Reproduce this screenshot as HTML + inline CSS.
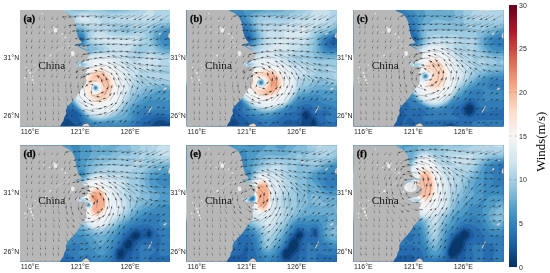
<!DOCTYPE html><html><head><meta charset="utf-8"><style>html,body{margin:0;padding:0;background:#fff;}svg{display:block;}.ax{font-family:"Liberation Sans",Arial,sans-serif;font-size:7px;fill:#262626;}.tk{font-family:"Liberation Sans",Arial,sans-serif;font-size:7px;fill:#262626;}.lab{font-family:"Liberation Serif","Times New Roman",serif;font-size:12.8px;fill:#000;text-anchor:middle;}.pl{font-family:"Liberation Serif","Times New Roman",serif;font-size:10px;font-weight:bold;fill:#000;stroke:#000;stroke-width:0.25px;}.cn{font-family:"Liberation Serif","Times New Roman",serif;font-size:11.3px;fill:#111;}</style></head><body><svg width="550" height="273" viewBox="0 0 550 273"><defs><clipPath id="pc"><rect x="0" y="0" width="150" height="116.3"/></clipPath></defs><g transform="translate(20.0,10.0)"><rect x="0" y="0" width="150.0" height="116.3" fill="#a9cfe4"/><g clip-path="url(#pc)"><path fill="#09386d" fill-rule="evenodd" d="M-1,-1 151,-1 151,118 -1,118Z"/><path fill="#124984" fill-rule="evenodd" d="M0,-1 151,-1 151,117 150,117 148.2,116 143,115.4 140.5,116 140,118 -1,118 -1,-1Z"/><path fill="#1c5c9f" fill-rule="evenodd" d="M0,-1 151,-1 151,113.4 150,113.4 144,110.5 140,110 137,110.8 135,112 130.4,116 130,118 60,118 60,117 59.3,116 53,113.5 50,110 48.6,109 47,108.6 39,110.2 34,110.6 16,109.9 -1,110 -1,-1ZM43,116 49,115.9 50,117 50,118 40,118 40,117ZM1,116.9 18,116.9 20,117 20,118 0,118 0,117Z"/><path fill="#266caf" fill-rule="evenodd" d="M0,-1 151,-1 151,110 150,110 147,107.9 144,106.9 140,106.5 136.5,107 131.9,109 125,113 120.6,116 120,118 65.3,118 64.9,116 62.6,114 60.5,111 59.3,108 58.5,104 57,102.1 54.7,101 46,99.7 34,100.2 -1,100 -1,-1Z"/><path fill="#327cb7" fill-rule="evenodd" d="M0,-1 151,-1 151,105.8 150,105.8 146,104.1 140,103.6 124,106.3 122,107.6 117.3,113 114.1,115 111.1,116 110,117 110,118 70,118 70,117 69.3,116 66.1,114 64.5,112 62.6,107 60.6,104 56,99.2 53,97.2 34,92 17,93.7 -1,93.5 -1,-1ZM59.8,28 59.3,29 59.4,30 61,30.9 62,30.4 62.5,29 62,27.8 61,27.5ZM74.9,78 76,78.3 76.2,78 76,77.7Z"/><path fill="#3c8abe" fill-rule="evenodd" d="M0,-1 151,-1 151,25.9 149,26 147.5,27 146.9,28 147,29 148,30 151,30 151,100 132,100.1 124,98.8 122,99 120,100 118.1,102 114.9,110 113.1,112 111,113.2 101.8,116 100,117 100,118 90,118 90,117 90,118 80,118 80,117 72,114.7 68.8,113 61.9,104 55,96.8 52,94.4 44.5,90 39,84.6 37,83.4 34,82.8 31,82.9 19,85.9 13,86.6 6,86.6 -1,85.6 -1,38.5 33,38.9 43,38.1 58,35 61,33.5 62.9,32 63.9,29 63,26.5 62,25.6 60,25 57,25.7 52,29.2 48,30.4 34,29.9 -1,30 -1,-1ZM74.7,78 75,78.7 76,78.9 76.5,78 76,77.1 75,77.3Z"/><path fill="#4f9bc7" fill-rule="evenodd" d="M0,-1 151,-1 151,20 147,20.6 143,22.5 140.6,25 139.8,28 140.8,32 143,34.4 147,36.3 151,36.7 151,90 144,90.4 133,89.4 129,90.3 123,93 119,95.2 116,97.7 113.4,102 111.7,108 110,110 106,112.1 99,113.5 90,113.2 80,113.6 73,112.4 68,109.3 47.9,88 44.7,84 41,81.5 37,80.4 33,80.1 14,81.5 -1,81.2 -1,41.8 37,41.9 46,41.3 54,40.1 58.1,39 61,37.3 64,32.8 64.8,29 64.1,26 63,24.3 61,22.8 59,22.3 56,22.9 51,25.8 47,26.7 -1,26.7 -1,-1ZM74.9,77 74.4,78 74.9,79 76,79.2 76.8,78 76,76.8Z"/><path fill="#6bacd1" fill-rule="evenodd" d="M0,-1 151,-1 151,17.2 145,17.9 140,20 137.2,23 136.1,27 136.9,32 138,34.1 140,36.4 142.2,38 145,39.2 151,40 151,80 145,79.4 140,80 123,88 117,92.3 112.1,97 109.5,101 107,106.8 104,108.9 99,110.1 92,110.1 80,111.7 73,110.6 70,109.1 67,106.9 54.7,94 51.8,90 48,83.1 43.2,80 39,78.8 34,78.4 14,79.2 -1,79 -1,44 40.5,44 50,43.4 58,42.2 62,41 64.3,39 65.7,30 65.5,27 64,22.9 62,20.8 59,19.8 56,20.1 51,23 46,24.3 -1,24.4 -1,-1ZM74.5,77 74.1,78 74.5,79 76,79.5 76.7,79 77.1,78 76.7,77 76,76.5Z"/><path fill="#84bcd9" fill-rule="evenodd" d="M0,-1 90,-1 90,0 95,0.3 100,0 100,-1 151,-1 151,15.1 143,15.7 137.2,18 134.9,20 133.7,22 132.9,26 133.3,30 134.3,33 135.9,36 138,38.5 141,40.6 144,41.7 151,42.4 151,76.6 144,76.3 138,76.9 134.5,78 126,81.9 121,84.7 116,88.8 108.4,96 103,103.3 101,105.1 88,109.3 80,110.4 75,109.8 72,108.9 69,107.2 66,104.7 55.7,94 52.5,89 49,81.2 48,80.1 45.8,79 41,77.6 35,77 14,77.6 -1,77.4 -1,45.9 38,45.9 53,45.3 63,44 67.3,42 69.7,40 67,34 66.6,27 65.5,22 64,19.8 61,18.2 58,17.7 55,17.9 47.5,21 42,21.7 -1,21.8 -1,-1ZM74.2,77 73.8,78 75,79.7 76,79.7 77.1,79 77.4,78 77,76.9 76,76.3 75,76.3Z"/><path fill="#9dcbe1" fill-rule="evenodd" d="M1,-1 20,-1 20,0 15,0.9 5,0.9 0,0 0,-1ZM41,-1 50,-1 50,0 51,0.8 56,1.2 63,0.9 70,0 70,-1 80,-1 80,0 85,1.3 93,2 104,1.2 110,0 110,-1 151,-1 151,13 143,13.1 137,14.9 133.2,17 130.8,19 129.4,21 129,23 130.8,33 132.4,36 136,40.3 139,42.5 142,43.7 146,44.4 151,44.5 151,73.9 137,74.2 124,77.1 120,80 107,92.8 101.6,100 98,103.5 94,105.8 89,107.7 84,108.9 80,109.2 75,108.6 71,107.2 67,104.5 62,100 55.2,92 53,88 50,80.1 48,77.9 43,76.5 36,75.8 -1,76.1 -1,47.8 44,47.8 59,47.2 63,45.9 78.5,39 78,38 71,35.5 69,33.4 68.1,30 67.6,22 66,19 62.8,17 54,15.2 51.8,14 50.2,11 49,3 48,1.9 40.8,1 40,0 40,-1ZM101.5,18 99.9,19 100,20 103,21.1 108.2,21 110,20 110.2,19 109,18 107,17.6ZM120,40 121,40.4 121.3,40 121,39.6ZM57.5,54 57.4,55 59,55.5 62,55.5 64,55 63.3,54 62,53.7 59,53.6ZM73.8,77 73.8,79 75,79.9 76,80 77.4,79 77.7,78 77,76.5 75,76.1ZM26,2.7 34,2.1 37,2.3 38.5,3 41.2,15 41,16 40,16.6 37,17.4 33,17.6 13,16.1 -1,16.6 -1,10 0,10 2.1,12 6,13.7 10,14.2 14,13.7 17,12.6 19,11.1 23.7,4Z"/><path fill="#b1d5e7" fill-rule="evenodd" d="M120,-1 140,-1 140,0 141,0.4 145,1 150,0 150,-1 151,-1 151,10 145,9.1 141,9.7 125.2,17 122,19 121.1,20 124.6,25 125.4,27 125.8,30 125.4,32 124,33.3 119,35.2 116.2,37 115,39 114.4,42 114.9,44 116,45.2 118,45.7 120,45.6 124,44.1 128,40.3 130,40 132,40.7 136.5,44 140,45.6 145,46.7 151,46.5 151,60 150,60 147,58.3 144,58 141,59.1 140,60 139.3,62 139.6,63 140.8,64 143,64.5 147,64.6 151,63.8 151,70 132,70.2 123,68.5 121,69.2 119,71.2 113.4,81 101.1,98 98.4,101 95,103.7 91,105.7 86,107.3 81,108.1 76,107.7 72,106.5 68,104.1 63,100 56.2,92 54,87.9 50.8,79 49.4,77 48,76.1 43,75.1 36,74.6 -1,74.8 -1,50 57,49.9 72,43.4 81.8,41 83.9,40 84.3,39 82.8,37 80.7,36 73.2,34 71,32.2 69.8,28 70.3,21 68.5,18 64.9,16 57,14 54.5,12 53.7,10 53.6,7 54.2,5 56,3.4 61,2.4 71,1.8 75,2.2 84,4.3 96,4.2 103,3.5 116,1.4 120,0ZM97.3,15 93.2,16 91.2,17 89.8,19 90.7,21 91.9,22 96,23.5 103,24.3 111.1,24 114.9,23 120,20 119.9,19 117.7,17 113,14.9 106,14.3ZM56.2,53 54.8,54 55.2,55 57.8,56 63,56 65.6,55 65.1,54 62,53 59,52.6ZM74.5,76 73.5,77 73.5,79 75,80.3 77,79.9 77.7,79 77.7,77 76,75.7Z"/><path fill="#c7e0ed" fill-rule="evenodd" d="M130,-1 130,0 132,0.6 133.6,2 134.6,5 133.1,8 129,10.3 125,10.9 117,9.5 111,10 97,10.1 91.7,11 88.9,11 90,10 96,9.4 108.3,7 113,6.9 117,7.8 119,7.5 122,5.6 126.8,1 130,0ZM61,4 68,3.8 73.1,5 76.4,7 81.2,11 81.9,12 81.7,13 78,15.9 75,16.4 59.7,13 56.8,11 56.1,8 56.8,6 57.9,5ZM78,20 81,20.3 87,24 93,25.7 103,26.4 116,26.1 119.4,27 120.3,29 119.4,31 112.5,37 108.3,42 107.4,44 107.7,46 109,48.8 112,51.3 114,51.8 117,51.3 121,49.5 127,45.3 130,44.4 132,44.7 134,45.6 140.9,51 140.9,52 139.9,53 130,60 127,60.5 122,59.5 119,60.7 116,65.4 112,76 106.4,87 100,97.1 97,100.4 94,102.7 88,105.5 81,106.9 75,106.3 69,103.7 63.1,99 57.8,93 55,87.8 51.3,77 50,75.4 48,74.4 35,73.4 -1,73.6 -1,52.6 48,52.7 51,53.5 52.5,55 55,56.2 59,56.7 63,56.5 65.5,56 67,55 66.7,54 61.3,52 60.4,51 63.2,49 69.1,46 74,44.1 87.6,42 89.8,41 90,40 89.5,39 86.5,36 84,34.8 75.1,32 73,30 72.4,28 73,25.4 76,21.4ZM100,40 99,40.1 98,41.1 99.5,42 101.9,42 102.1,41ZM73.8,76 72.9,78 73.8,80 75,80.6 77,80.3 78.1,79 78,76.9 77,75.7 76,75.3ZM149,50.7 150,50 151,50 151,53.8 150,53.8 148,52Z"/><path fill="#d7e8f1" fill-rule="evenodd" d="M61,6.6 64,6 67,6.8 69.1,8 70,10 69.3,11 67,11.6 62,11.2 60,10 59.5,9 59.6,8ZM79,26.6 81,26.1 83,26.5 88,29.5 91,30.2 109,29.8 111,30.6 111.6,32 109.8,34 107,34.8 100,33.4 92,33 88,31.6 83.5,31 80,30 78.6,29 78.1,28ZM77,44.9 82,44.5 88,44.9 91.9,46 99.1,49 102,51.1 106,55.9 109.3,59 110.7,62 110.7,66 108.8,76 107,81.9 105,86 100.3,94 97,98.3 93,101.7 88,104.2 82,105.5 76,105.3 71,103.6 66,100.4 61.4,96 58,91.5 55.5,86 52.6,76 51.3,74 49.7,73 46,72.4 37,72 -1,72.1 -1,55.7 45,55.8 56,57.4 63,57.1 67,56.1 68.5,55 68,53.8 64.4,52 63.7,51 64.7,50 71,46.6ZM75,75 73.3,76 72.5,78 73,79.6 74,80.6 76,81 77.9,80 78.7,78 78,76.1 77,75.3ZM129,50.4 130,50 131,50.5 131.3,51 130.9,52 130,52.4 128.4,52 128.4,51Z"/><path fill="#e4eef4" fill-rule="evenodd" d="M76,46.8 81,46.4 85.9,47 91,49 95.8,52 98.9,55 101.8,59 104.6,64 105.9,68 106.1,74 105.1,80 104,83.3 100.1,91 97,95.6 94,98.7 90.9,101 86,103.2 80,104.1 74,103.3 68.9,101 64,97.2 61,93.7 58,88.8 56,83 54,73 53,70.9 52,70.1 -1,70 -1,60 54,60.1 57.1,59 66,57.2 69.1,56 70.1,55 70.1,54 67.4,52 67,51 70,48.9ZM73.7,75 72.2,77 72.2,79 72.7,80 75,81.5 77,81.3 78.5,80 79,79 79.2,78 78.5,76 76,74.4Z"/><path fill="#f0f4f6" fill-rule="evenodd" d="M76,50.9 80,50.6 84,51.2 88,52.8 92,55.7 95,59 97.4,63 99.3,68 100.1,73 100.1,78 99.3,83 97.5,88 95.1,92 92,95.5 89,97.8 85,99.7 81,100.6 77,100.5 73,99.5 69,97.4 66,95 63.5,92 61.1,88 59.6,84 58.6,79 58.4,74 58.9,70 60.3,65 62.3,61 64.4,59 71.6,56 72.7,55 73.4,52ZM74.8,74 73,74.8 72,76 71.6,79 73,81.2 76,82.1 78,81.3 79,80.3 79.6,79 79.6,77 78,74.7 76,73.9Z"/><path fill="#f8f2ef" fill-rule="evenodd" d="M77,56.7 80,56.4 84,57.2 89,60.3 91.4,63 93.7,67 94.7,70 95.3,74 94.8,81 93.8,84 91.6,88 87,92.5 85,93.6 81,94.8 77,94.7 74,93.8 72,92.7 69,90.1 66.4,87 65.3,85 63.3,78 63.5,72 64.5,68 66.5,64 71,59.2 74,57.6ZM73.1,74 72,75 71,77 71.3,80 72,81.1 74,82.5 76,82.7 78,82.1 79.3,81 80.2,79 79.9,76 79,74.7 77,73.5 75,73.3Z"/><path fill="#fae9df" fill-rule="evenodd" d="M76,58.8 79,58.4 82,58.7 87,61 89.1,63 91.3,66 92.6,69 93.5,73 93.2,80 90.8,86 88.3,89 86,90.8 81,92.7 78,92.8 75,92 70.3,89 66.9,84 65.2,78 65.3,72 67.4,66 71,61.5ZM73.5,73 71.9,74 70.5,76 70.2,78 70.5,80 71.9,82 74,83.2 76,83.4 78,82.9 79.3,82 80.7,80 81,78 80.7,76 79.3,74 78,73.1 76,72.6Z"/><path fill="#fcdfcf" fill-rule="evenodd" d="M76,60.6 81,60.3 84,61.2 86,62.4 88,64.2 90.1,67 92,73 91.9,79 91.1,82 89.6,85 86,88.8 84,90 81,90.9 77,90.8 73,89 70.2,86 69,82 70,82 73,83.7 75,84.3 77,84.1 79,83.3 81,81.2 81.8,79 81.6,76 80.4,74 78,72.2 75,71.7 73,72.3 71,73.7 69,77.4 68,78.3 67,75.8 67.1,71 69,66.3 72,62.8Z"/><path fill="#fcd3bc" fill-rule="evenodd" d="M78,61.9 81,62 83,62.5 86.7,65 89.4,69 90.7,74 90.2,80 88,84.6 84.3,88 80,89.3 76,88.6 74,87.2 73.3,86 74,85.5 77,85.3 79,84.6 81.8,82 82.8,80 83,78 82.8,76 81.8,74 80,72.1 77,70.7 75,70.6 73,71.1 70,73.2 69,73 68.8,72 69.8,68 72,65 75,62.8Z"/><path fill="#f8bfa4" fill-rule="evenodd" d="M77,63.8 81,63.6 85,65.5 88,69.3 89.2,73 89.3,78 88,81.8 85.6,85 82,87.2 79.2,87 82.4,85 84.5,82 85.4,78 84.5,74 82.4,71 80,69.3 76,68.2 72,69 71.7,68 74.4,65Z"/><path fill="#b7b7b7" d="M-2.0 -2.0L41.9 -2.0L41.9 0.0L44.2 1.7L48.7 3.5L52.4 7.2L54.7 11.7L55.6 16.3L56.5 21.8L57.4 25.0L57.9 27.1L59.9 30.0L62.1 32.8L59.0 33.8L55.5 34.2L58.5 36.8L62.5 38.9L65.5 40.6L68.5 42.3L69.2 43.8L68.6 46.0L67.5 48.3L66.5 50.0L63.0 51.6L59.0 52.4L55.3 53.6L58.0 55.9L62.0 56.6L66.0 56.9L68.3 57.4L67.2 59.5L67.0 60.0L66.5 62.0L67.0 64.3L66.0 67.6L66.5 70.9L65.4 74.2L63.5 77.0L61.5 79.0L59.6 81.9L56.5 86.5L53.4 90.4L50.4 93.4L47.3 96.5L45.8 100.3L46.5 103.4L44.2 107.3L43.4 111.1L41.1 114.2L39.6 117.0L39.6 119.0L-2.0 119.0Z"/><path fill="#b7b7b7" d="M58.0 35.2L61.5 35.6L65.5 36.8L68.2 38.2L67.2 38.9L63.0 37.9L59.5 36.6Z"/><path fill="#ecd2bd" d="M60.0 117.5L62.5 115.6L65.8 112.8L68.5 114.4L70.5 117.5Z"/><path fill="#ecd2bd" d="M114.0 16.8L115.5 16.0L117.2 16.0L117.8 16.8L116.5 17.6L114.8 17.6Z"/><path fill="#ecd2bd" d="M128.3 102.5L129.8 99.0L131.8 95.8L132.3 96.3L130.5 100.0L128.8 103.0Z"/><path fill="#ecd2bd" d="M143.0 79.5L145.5 77.5L147.0 78.0L145.0 80.0Z"/><path fill="#ecd2bd" d="M138.0 25.0L139.5 23.0L141.0 22.5L140.5 24.5Z"/><path fill="#ecd2bd" d="M148.0 27.0L149.0 23.5L150.5 22.0L150.5 29.0Z"/><path fill="#ecd2bd" d="M144.5 15.0L145.8 13.8L146.5 15.0L145.3 16.0Z"/><path fill="#ecd2bd" d="M126.0 0.5L128.0 0.0L129.0 1.2L127.0 1.6Z"/><path fill="#ecd2bd" d="M132.0 0.3L134.0 0.2L134.5 1.4L132.5 1.5Z"/><path fill="none" stroke="#d8d8d8" stroke-width="0.45" d="M12.0 64.0L16.0 60.0L20.0 55.0L25.0 50.0L30.0 46.0L35.0 42.0L40.0 39.0L45.0 37.0L50.0 36.5L56.5 35.8"/><path fill="none" stroke="#d8d8d8" stroke-width="0.45" d="M35.0 20.0L38.0 24.0L41.0 27.0L44.0 30.0L47.0 33.0L50.0 36.0"/><ellipse cx="35.5" cy="20.3" rx="1.9" ry="2.4" fill="#ececec"/><ellipse cx="33.4" cy="17.6" rx="1.0" ry="0.8" fill="#ececec"/><ellipse cx="37.5" cy="18.0" rx="0.8" ry="0.7" fill="#ececec"/><ellipse cx="29.5" cy="22.0" rx="0.7" ry="0.6" fill="#ececec"/><ellipse cx="23.6" cy="19.3" rx="0.6" ry="0.6" fill="#ececec"/><ellipse cx="42.0" cy="24.0" rx="0.8" ry="0.9" fill="#ececec"/><ellipse cx="45.5" cy="27.5" rx="0.8" ry="1.0" fill="#ececec"/><ellipse cx="32.0" cy="10.3" rx="0.6" ry="0.6" fill="#ececec"/><ellipse cx="52.7" cy="43.5" rx="2.0" ry="2.4" fill="#ececec"/><ellipse cx="50.0" cy="46.5" rx="0.9" ry="0.8" fill="#ececec"/><ellipse cx="31.0" cy="45.5" rx="1.4" ry="1.0" fill="#ececec"/><ellipse cx="25.7" cy="43.0" rx="0.6" ry="0.6" fill="#ececec"/><ellipse cx="22.0" cy="3.5" rx="0.7" ry="0.7" fill="#ececec"/><ellipse cx="26.0" cy="51.0" rx="0.8" ry="0.7" fill="#ececec"/><ellipse cx="15.0" cy="55.0" rx="0.7" ry="0.6" fill="#ececec"/><ellipse cx="6.0" cy="57.5" rx="0.8" ry="0.7" fill="#ececec"/><ellipse cx="8.6" cy="60.5" rx="0.7" ry="0.7" fill="#ececec"/><ellipse cx="10.0" cy="63.0" rx="1.0" ry="1.0" fill="#ececec"/><ellipse cx="11.5" cy="66.5" rx="1.2" ry="1.3" fill="#ececec"/><ellipse cx="12.5" cy="70.0" rx="1.0" ry="1.0" fill="#ececec"/><ellipse cx="13.5" cy="73.0" rx="0.8" ry="0.8" fill="#ececec"/><ellipse cx="5.0" cy="68.0" rx="0.7" ry="0.9" fill="#ececec"/><ellipse cx="5.5" cy="72.0" rx="0.6" ry="0.7" fill="#ececec"/><ellipse cx="60.0" cy="55.0" rx="0.8" ry="0.9" fill="#ececec"/><ellipse cx="66.0" cy="62.5" rx="0.7" ry="0.8" fill="#ececec"/><path d="M50.9 5.3L44.4 6.7M58.7 5.3L50.8 6.8M63.8 5.3L55.9 6.7M71.5 5.3L63.6 6.5M76.6 5.3L68.7 6.4M84.4 5.3L76.8 6.7M89.5 5.3L82.0 6.9M97.2 5.3L89.7 7.3M102.3 5.3L94.7 7.6M110.1 5.3L102.6 8.1M115.2 5.3L107.8 8.4M122.9 5.3L115.8 8.8M128.0 5.3L120.9 8.9M135.8 5.3L128.7 9.0M140.9 5.3L133.9 9.1M148.7 5.3L141.7 9.3M58.7 13.5L50.9 15.3M63.8 13.5L56.0 15.2M71.5 13.5L63.7 14.9M76.6 13.5L68.7 14.7M84.4 13.5L76.5 14.9M89.5 13.5L81.6 15.0M97.2 13.5L89.4 15.2M102.3 13.5L94.6 15.5M110.1 13.5L102.5 15.9M115.2 13.5L107.7 16.2M122.9 13.5L115.6 16.6M128.0 13.5L120.7 16.7M135.8 13.5L129.3 16.6M140.9 13.5L135.0 16.5M148.7 13.5L143.0 16.5M58.7 19.6L54.6 20.7M63.8 19.6L58.6 20.9M71.5 19.6L63.7 21.1M76.6 19.6L68.8 20.9M84.4 19.6L76.5 20.9M89.5 19.6L82.0 20.9M97.2 19.6L90.7 20.8M102.3 19.6L96.1 20.9M110.1 19.6L103.8 21.2M115.2 19.6L108.4 21.6M122.9 19.6L116.0 22.1M128.0 19.6L121.7 22.1M135.8 19.6L131.1 21.6M140.9 19.6L137.1 21.4M148.7 19.6L145.7 21.1M58.7 27.8L57.0 28.4M63.8 27.8L61.4 28.5M71.5 27.8L63.7 29.6M76.6 27.8L68.8 29.2M84.4 27.8L76.5 28.9M89.5 27.8L81.6 28.8M97.2 27.8L89.3 28.7M102.3 27.8L94.4 28.7M110.1 27.8L102.2 29.0M115.2 27.8L107.4 29.4M122.9 27.8L115.2 29.9M128.0 27.8L121.4 29.8M135.8 27.8L131.7 29.3M140.9 27.8L138.1 28.9M148.7 27.8L146.6 28.7M58.7 33.9L56.7 34.8M63.8 33.9L60.4 35.1M71.5 33.9L64.5 35.7M76.6 33.9L68.8 35.4M84.4 33.9L76.5 34.8M89.5 33.9L81.5 34.5M97.2 33.9L89.3 34.3M102.3 33.9L94.4 34.2M110.1 33.9L102.1 34.5M115.2 33.9L107.3 34.8M122.9 33.9L115.6 35.3M128.0 33.9L121.2 35.5M135.8 33.9L131.0 35.3M140.9 33.9L137.5 35.1M148.7 33.9L146.2 34.9M71.5 42.1L65.3 44.0M76.6 42.1L69.3 43.6M84.4 42.1L76.4 42.6M89.5 42.1L81.5 42.1M97.2 42.1L89.3 41.5M102.3 42.1L94.4 41.3M110.1 42.1L102.1 41.4M115.2 42.1L107.9 41.7M122.9 42.1L116.2 42.3M128.0 42.1L120.3 42.7M135.8 42.1L128.9 43.2M140.9 42.1L135.1 43.3M148.7 42.1L143.7 43.6M71.5 48.2L64.0 50.8M76.6 48.2L68.9 49.8M84.4 48.2L76.4 48.3M89.5 48.2L81.5 47.5M97.2 48.2L89.4 46.6M102.3 48.2L94.6 46.3M110.1 48.2L102.3 46.3M115.2 48.2L107.4 46.5M122.9 48.2L115.0 47.1M128.0 48.2L120.1 47.5M135.8 48.2L127.8 48.2M140.9 48.2L132.9 48.7M148.7 48.2L140.7 49.4M63.8 56.4L57.7 61.3M71.5 56.4L64.3 59.5M76.6 56.4L69.0 58.0M84.4 56.4L76.6 55.6M89.5 56.4L81.9 54.5M97.2 56.4L89.9 53.3M102.3 56.4L95.1 53.0M110.1 56.4L102.9 52.9M115.2 56.4L107.9 53.1M122.9 56.4L115.5 53.6M128.0 56.4L120.4 54.0M135.8 56.4L128.0 54.8M140.9 56.4L133.0 55.3M148.7 56.4L140.7 56.0M71.5 62.5L64.8 66.1M76.6 62.5L69.2 63.9M84.4 62.5L77.0 60.8M89.5 62.5L82.4 59.4M97.2 62.5L90.6 58.2M102.3 62.5L95.9 57.9M110.1 62.5L103.6 57.8M115.2 62.5L108.6 58.0M122.9 62.5L116.0 58.5M128.0 62.5L120.9 59.0M135.8 62.5L128.5 59.8M140.9 62.5L133.8 60.4M148.7 62.5L141.4 61.0M71.5 70.7L67.5 74.5M76.6 70.7L71.4 71.3M84.4 70.7L79.1 67.1M89.5 70.7L84.2 65.4M97.2 70.7L92.2 64.6M102.3 70.7L97.3 64.6M110.1 70.7L104.7 64.8M115.2 70.7L109.5 65.1M122.9 70.7L117.2 66.3M128.0 70.7L121.9 66.8M135.8 70.7L129.2 67.6M140.9 70.7L134.1 68.1M148.7 70.7L141.6 68.9M63.8 76.8L64.7 83.6M71.5 76.8L71.4 81.5M76.6 76.8L73.1 75.0M84.4 76.8L82.1 71.6M89.5 76.8L86.8 70.1M97.2 76.8L94.2 69.6M102.3 76.8L98.9 69.6M110.1 76.8L106.0 70.0M115.2 76.8L110.6 70.6M122.9 76.8L118.3 72.2M128.0 76.8L123.2 72.9M135.8 76.8L131.0 74.0M140.9 76.8L136.2 74.5M148.7 76.8L143.7 75.1M58.7 85.0L64.0 90.9M63.8 85.0L69.3 90.0M71.5 85.0L76.9 86.4M76.6 85.0L81.5 82.9M84.4 85.0L87.1 79.2M89.5 85.0L91.4 77.6M97.2 85.0L98.6 77.2M102.3 85.0L103.8 77.2M110.1 85.0L112.0 77.7M115.2 85.0L117.3 78.9M122.9 85.0L125.4 80.6M128.0 85.0L130.7 81.4M135.8 85.0L138.6 82.4M140.9 85.0L143.8 82.9M148.7 85.0L151.8 83.3M58.7 91.1L65.4 95.4M63.8 91.1L71.0 94.4M71.5 91.1L78.9 91.3M76.6 91.1L83.4 88.7M84.4 91.1L89.7 85.5M89.5 91.1L93.7 84.5M97.2 91.1L100.5 83.8M102.3 91.1L105.4 83.7M110.1 91.1L112.7 85.4M115.2 91.1L117.6 86.6M122.9 91.1L125.1 88.1M128.0 91.1L130.2 88.7M135.8 91.1L138.3 89.1M140.9 91.1L143.6 89.3M148.7 91.1L151.6 89.7M50.9 99.3L52.1 99.8M58.7 99.3L62.6 100.6M63.8 99.3L71.7 100.8M71.5 99.3L79.4 98.6M76.6 99.3L84.2 97.0M84.4 99.3L90.9 94.8M89.5 99.3L95.3 93.9M97.2 99.3L102.2 93.1M102.3 99.3L106.3 94.0M110.1 99.3L112.8 95.7M115.2 99.3L117.3 96.7M122.9 99.3L124.5 97.7M128.0 99.3L129.8 97.7M135.8 99.3L137.8 97.9M140.9 99.3L143.0 98.1M148.7 99.3L150.9 98.3M45.8 105.4L46.5 105.6M50.9 105.4L51.6 105.6M58.7 105.4L59.8 105.6M63.8 105.4L67.1 105.7M71.5 105.4L79.5 104.4M76.6 105.4L84.3 103.2M84.4 105.4L91.4 101.5M89.5 105.4L96.0 100.7M97.2 105.4L101.7 101.3M102.3 105.4L106.1 101.6M110.1 105.4L112.8 102.6M115.2 105.4L117.2 103.5M122.9 105.4L124.4 104.2M128.0 105.4L129.5 104.3M135.8 105.4L137.1 104.6M140.9 105.4L142.2 104.7M148.7 105.4L150.3 104.8M45.8 113.6L46.4 113.7M50.9 113.6L51.5 113.7M58.7 113.6L59.4 113.6M63.8 113.6L65.1 113.6M71.5 113.6L74.1 113.2M76.6 113.6L79.6 112.8M84.4 113.6L87.3 112.3M89.5 113.6L92.2 112.1M97.2 113.6L99.8 111.8M102.3 113.6L104.8 111.8M110.1 113.6L111.9 112.3M115.2 113.6L116.7 112.6M122.9 113.6L123.9 113.0M128.0 113.6L128.8 113.2M135.8 113.6L136.1 113.5M140.9 113.6L141.1 113.5M148.7 113.6L149.0 113.5" stroke="#333" stroke-width="0.33" stroke-opacity="0.78" fill="none"/><path d="M41.4 7.3L44.2 6.0L44.5 7.4ZM47.9 7.4L50.7 6.1L51.0 7.5ZM53.0 7.2L55.8 6.0L56.0 7.4ZM60.7 6.9L63.5 5.8L63.7 7.2ZM65.8 6.9L68.6 5.7L68.8 7.2ZM73.9 7.3L76.7 6.0L77.0 7.4ZM79.1 7.6L81.8 6.2L82.2 7.6ZM86.8 8.1L89.5 6.6L89.9 8.0ZM91.9 8.5L94.5 6.9L94.9 8.3ZM99.8 9.2L102.4 7.4L102.9 8.8ZM105.1 9.6L107.6 7.8L108.1 9.1ZM113.1 10.1L115.4 8.2L116.1 9.5ZM118.2 10.3L120.6 8.3L121.2 9.5ZM126.1 10.5L128.4 8.4L129.1 9.7ZM131.3 10.6L133.6 8.5L134.3 9.7ZM139.1 10.8L141.4 8.7L142.1 9.9ZM48.0 16.0L50.7 14.6L51.1 16.0ZM53.0 15.8L55.8 14.5L56.1 15.9ZM60.7 15.4L63.5 14.1L63.8 15.6ZM65.8 15.2L68.6 14.0L68.9 15.4ZM73.6 15.4L76.4 14.2L76.6 15.6ZM78.7 15.6L81.5 14.3L81.8 15.7ZM86.5 15.9L89.3 14.5L89.6 15.9ZM91.7 16.2L94.4 14.8L94.8 16.2ZM99.6 16.8L102.3 15.2L102.7 16.6ZM104.8 17.2L107.4 15.5L107.9 16.9ZM112.8 17.8L115.3 15.9L115.9 17.3ZM118.0 17.9L120.4 16.1L121.0 17.4ZM126.6 17.9L129.0 16.0L129.6 17.3ZM132.3 17.8L134.7 15.8L135.3 17.1ZM140.4 17.9L142.7 15.9L143.4 17.2ZM51.7 21.6L54.4 20.1L54.8 21.4ZM55.7 21.6L58.5 20.2L58.8 21.6ZM60.8 21.7L63.6 20.4L63.9 21.8ZM65.8 21.4L68.6 20.2L68.9 21.6ZM73.5 21.4L76.4 20.2L76.6 21.6ZM79.0 21.3L81.9 20.1L82.1 21.6ZM87.7 21.3L90.5 20.1L90.8 21.5ZM93.2 21.5L96.0 20.2L96.3 21.6ZM100.9 21.9L103.7 20.5L104.0 21.9ZM105.6 22.5L108.2 20.9L108.6 22.3ZM113.2 23.2L115.7 21.5L116.2 22.8ZM118.9 23.1L121.5 21.4L122.0 22.7ZM128.3 22.8L130.8 21.0L131.4 22.3ZM134.4 22.6L136.8 20.7L137.4 22.0ZM143.0 22.5L145.3 20.5L146.0 21.8ZM54.6 29.3L56.8 27.7L57.2 29.1ZM58.6 29.4L61.2 27.8L61.7 29.2ZM60.8 30.2L63.6 28.9L63.9 30.3ZM65.8 29.8L68.6 28.5L68.9 29.9ZM73.5 29.3L76.4 28.2L76.6 29.6ZM78.6 29.1L81.5 28.1L81.6 29.5ZM86.3 29.0L89.2 28.0L89.4 29.4ZM91.4 29.1L94.3 28.0L94.5 29.5ZM99.2 29.5L102.1 28.3L102.3 29.8ZM104.4 30.0L107.2 28.7L107.5 30.1ZM112.3 30.6L115.0 29.2L115.4 30.6ZM118.6 30.7L121.2 29.1L121.6 30.5ZM128.9 30.3L131.4 28.6L131.9 30.0ZM135.3 30.0L137.8 28.3L138.4 29.6ZM143.9 30.0L146.3 28.1L146.9 29.4ZM54.0 35.9L56.4 34.1L56.9 35.4ZM57.6 36.2L60.1 34.5L60.6 35.8ZM61.6 36.5L64.4 35.0L64.7 36.4ZM65.8 36.0L68.7 34.7L68.9 36.1ZM73.5 35.2L76.4 34.1L76.5 35.6ZM78.5 34.8L81.5 33.8L81.6 35.3ZM86.3 34.4L89.2 33.5L89.3 35.0ZM91.4 34.4L94.3 33.5L94.4 35.0ZM99.1 34.7L102.1 33.8L102.2 35.2ZM104.3 35.1L107.2 34.1L107.3 35.5ZM112.7 35.8L115.5 34.6L115.8 36.0ZM118.2 36.1L121.0 34.8L121.3 36.2ZM128.2 36.2L130.8 34.6L131.3 36.0ZM134.7 36.1L137.3 34.4L137.8 35.8ZM143.4 36.1L145.9 34.3L146.4 35.6ZM62.4 44.9L65.1 43.3L65.5 44.7ZM66.4 44.2L69.2 42.9L69.4 44.3ZM73.4 42.8L76.4 41.9L76.5 43.3ZM78.5 42.0L81.5 41.3L81.5 42.8ZM86.3 41.2L89.3 40.7L89.2 42.2ZM91.4 41.0L94.5 40.6L94.3 42.0ZM99.1 41.1L102.2 40.7L102.1 42.1ZM104.9 41.5L107.9 41.0L107.8 42.4ZM113.2 42.3L116.1 41.5L116.2 43.0ZM117.3 42.9L120.2 41.9L120.3 43.4ZM126.0 43.6L128.8 42.5L129.0 43.9ZM132.2 44.0L135.0 42.6L135.3 44.0ZM140.8 44.4L143.5 42.9L143.9 44.3ZM61.2 51.8L63.8 50.2L64.2 51.5ZM65.9 50.4L68.7 49.1L69.0 50.5ZM73.4 48.3L76.4 47.5L76.4 49.0ZM78.5 47.2L81.6 46.7L81.5 48.2ZM86.5 46.0L89.6 45.9L89.3 47.3ZM91.7 45.6L94.7 45.6L94.4 47.0ZM99.4 45.6L102.5 45.6L102.2 47.0ZM104.4 45.9L107.5 45.8L107.2 47.2ZM112.1 46.7L115.1 46.4L114.9 47.8ZM117.1 47.3L120.1 46.8L120.0 48.2ZM124.8 48.3L127.8 47.5L127.8 49.0ZM129.9 48.9L132.9 48.0L133.0 49.4ZM137.8 49.8L140.6 48.7L140.8 50.1ZM55.4 63.2L57.2 60.7L58.1 61.9ZM61.5 60.8L64.0 58.8L64.6 60.2ZM65.9 58.6L68.8 57.2L69.1 58.7ZM73.5 55.3L76.7 54.9L76.5 56.4ZM78.8 53.7L82.0 53.7L81.7 55.2ZM87.1 52.2L90.2 52.7L89.6 54.0ZM92.4 51.7L95.4 52.3L94.8 53.6ZM100.2 51.6L103.2 52.3L102.6 53.5ZM105.2 51.8L108.2 52.4L107.6 53.7ZM112.6 52.6L115.7 52.9L115.2 54.3ZM117.5 53.2L120.6 53.4L120.2 54.7ZM125.0 54.2L128.1 54.1L127.8 55.5ZM130.1 54.9L133.1 54.6L132.9 56.0ZM137.7 55.9L140.7 55.3L140.6 56.7ZM61.9 67.7L64.4 65.3L65.2 66.9ZM65.8 64.6L69.1 63.0L69.4 64.8ZM73.7 60.0L77.2 59.9L76.8 61.7ZM79.4 58.0L82.8 58.6L82.1 60.1ZM88.0 56.5L91.0 57.6L90.2 58.8ZM93.4 56.1L96.3 57.3L95.4 58.5ZM101.2 56.1L104.0 57.3L103.2 58.4ZM106.1 56.4L109.0 57.4L108.2 58.6ZM113.4 57.1L116.4 57.9L115.6 59.2ZM118.2 57.7L121.2 58.3L120.5 59.6ZM125.7 58.8L128.8 59.1L128.3 60.5ZM130.9 59.5L134.0 59.7L133.6 61.1ZM138.4 60.4L141.5 60.3L141.2 61.7ZM65.0 76.9L66.9 73.9L68.1 75.2ZM68.0 71.7L71.3 70.4L71.5 72.2ZM76.2 65.1L79.6 66.3L78.5 67.9ZM81.7 63.0L84.8 64.7L83.5 66.1ZM90.2 62.2L92.8 64.1L91.6 65.1ZM95.4 62.2L97.9 64.1L96.7 65.0ZM102.7 62.6L105.2 64.3L104.2 65.3ZM107.3 63.0L110.0 64.6L109.0 65.6ZM114.9 64.5L117.7 65.7L116.8 66.9ZM119.4 65.1L122.3 66.1L121.5 67.4ZM126.4 66.3L129.5 66.9L128.9 68.2ZM131.2 67.1L134.3 67.5L133.8 68.8ZM138.7 68.1L141.7 68.2L141.4 69.6ZM65.1 86.8L63.9 83.7L65.5 83.5ZM71.3 84.6L70.7 81.5L72.1 81.6ZM70.4 73.7L73.4 74.4L72.8 75.7ZM80.7 68.4L83.0 71.2L81.3 71.9ZM85.5 66.9L87.7 69.8L85.9 70.5ZM93.0 66.7L94.9 69.2L93.5 69.9ZM97.6 66.9L99.6 69.3L98.3 69.9ZM104.4 67.4L106.6 69.6L105.3 70.3ZM108.8 68.2L111.2 70.2L110.0 71.0ZM116.1 70.1L118.8 71.7L117.8 72.7ZM120.9 71.0L123.6 72.3L122.7 73.4ZM128.5 72.4L131.4 73.4L130.7 74.6ZM133.5 73.2L136.5 73.9L135.9 75.2ZM140.9 74.1L144.0 74.4L143.5 75.8ZM66.0 93.2L63.4 91.4L64.5 90.4ZM71.7 92.1L68.8 90.6L69.9 89.4ZM80.2 87.3L76.7 87.3L77.2 85.5ZM84.6 81.6L81.8 83.8L81.1 82.1ZM88.6 76.0L88.0 79.6L86.2 78.8ZM92.3 74.4L92.3 77.8L90.6 77.4ZM99.1 74.2L99.4 77.4L97.8 77.1ZM104.3 74.2L104.5 77.3L103.0 77.0ZM112.8 74.8L112.7 77.8L111.3 77.5ZM118.4 76.1L118.0 79.2L116.7 78.7ZM126.9 78.0L126.0 81.0L124.8 80.3ZM132.5 79.0L131.3 81.9L130.1 81.0ZM140.8 80.4L139.1 83.0L138.1 81.9ZM146.2 81.1L144.2 83.5L143.4 82.3ZM154.5 81.9L152.2 84.0L151.5 82.7ZM68.0 97.0L65.0 96.0L65.8 94.8ZM73.8 95.7L70.7 95.1L71.3 93.7ZM82.2 91.4L78.9 92.1L79.0 90.5ZM86.5 87.7L83.7 89.6L83.1 87.9ZM91.9 83.1L90.3 86.1L89.1 84.9ZM95.3 81.8L94.3 84.9L93.0 84.0ZM101.7 81.0L101.2 84.1L99.8 83.5ZM106.6 80.9L106.1 84.0L104.7 83.4ZM113.9 82.7L113.3 85.7L112.0 85.1ZM119.0 83.9L118.2 86.9L117.0 86.3ZM126.9 85.7L125.7 88.5L124.5 87.7ZM132.2 86.4L130.7 89.1L129.7 88.2ZM140.6 87.2L138.7 89.7L137.8 88.5ZM146.1 87.6L144.0 89.9L143.2 88.7ZM154.3 88.4L151.9 90.3L151.2 89.0ZM54.1 100.7L51.8 100.5L52.4 99.2ZM65.5 101.5L62.4 101.3L62.8 99.9ZM74.6 101.4L71.5 101.5L71.8 100.1ZM82.5 98.3L79.5 99.4L79.4 97.9ZM87.2 96.1L84.4 97.7L84.0 96.2ZM93.5 93.1L91.4 95.5L90.5 94.2ZM97.5 91.8L95.8 94.4L94.8 93.3ZM104.1 90.7L102.8 93.5L101.7 92.6ZM108.0 91.6L106.8 94.4L105.7 93.5ZM114.6 93.3L113.4 96.1L112.2 95.3ZM119.1 94.4L117.8 97.2L116.7 96.3ZM126.6 95.6L125.1 98.2L124.0 97.2ZM132.1 95.8L130.3 98.3L129.3 97.2ZM140.3 96.2L138.2 98.5L137.4 97.3ZM145.6 96.6L143.4 98.7L142.7 97.5ZM153.6 97.1L151.1 99.0L150.6 97.7ZM48.1 106.2L46.3 106.3L46.7 104.9ZM53.3 106.1L51.4 106.3L51.8 104.9ZM61.8 106.0L59.7 106.3L60.0 104.9ZM70.1 105.9L67.1 106.4L67.2 105.0ZM82.5 104.0L79.6 105.1L79.4 103.7ZM87.2 102.3L84.5 103.9L84.1 102.5ZM94.0 100.1L91.7 102.1L91.0 100.9ZM98.4 98.9L96.4 101.3L95.6 100.1ZM103.8 99.2L102.1 101.8L101.2 100.8ZM108.2 99.5L106.6 102.1L105.6 101.1ZM114.9 100.4L113.4 103.1L112.3 102.1ZM119.3 101.4L117.7 104.0L116.6 103.0ZM126.3 102.6L124.8 104.8L123.9 103.7ZM131.5 102.8L129.9 104.9L129.1 103.8ZM139.1 103.4L137.5 105.2L136.7 104.0ZM144.2 103.7L142.5 105.4L141.9 104.1ZM152.6 103.8L150.5 105.4L150.0 104.1ZM47.9 114.0L46.2 114.4L46.5 113.0ZM53.0 113.9L51.4 114.4L51.6 113.0ZM61.1 113.8L59.4 114.4L59.5 112.9ZM67.3 113.6L65.2 114.3L65.1 112.9ZM77.0 112.7L74.2 113.9L73.9 112.5ZM82.5 112.0L79.7 113.5L79.4 112.1ZM90.0 111.1L87.6 113.0L87.0 111.7ZM94.8 110.7L92.5 112.8L91.8 111.5ZM102.3 110.1L100.3 112.4L99.4 111.2ZM107.2 110.0L105.2 112.4L104.3 111.2ZM114.2 110.5L112.3 112.8L111.5 111.7ZM118.7 111.1L117.1 113.1L116.2 112.0ZM125.7 111.9L124.3 113.6L123.5 112.4ZM130.4 112.3L129.2 113.8L128.4 112.5ZM137.3 112.9L136.4 114.1L135.8 112.8ZM142.3 113.0L141.4 114.2L140.8 112.8ZM150.3 113.0L149.2 114.2L148.8 112.8Z" fill="#222" fill-opacity="0.8"/><path d="M7.3 6.3L6.5 8.5M12.4 6.3L11.6 8.5M20.1 6.3L19.4 8.5M25.2 6.3L24.5 8.5M33.0 6.3L32.2 8.5M38.1 6.3L37.3 8.5M45.8 6.3L45.1 8.5M7.3 14.5L6.5 16.7M12.4 14.5L11.6 16.7M20.1 14.5L19.4 16.7M25.2 14.5L24.5 16.7M33.0 14.5L32.2 16.7M38.1 14.5L37.3 16.7M45.8 14.5L45.1 16.7M50.9 14.5L50.2 16.7M7.3 20.6L6.5 22.8M12.4 20.6L11.6 22.8M20.1 20.6L19.4 22.8M25.2 20.6L24.5 22.8M33.0 20.6L32.2 22.8M38.1 20.6L37.3 22.8M45.8 20.6L45.1 22.8M50.9 20.6L50.2 22.8M7.3 28.8L6.5 31.0M12.4 28.8L11.6 31.0M20.1 28.8L19.4 31.0M25.2 28.8L24.5 31.0M33.0 28.8L32.2 31.0M38.1 28.8L37.3 31.0M45.8 28.8L45.0 31.0M50.9 28.8L50.1 31.1M7.3 34.9L6.5 37.1M12.4 34.9L11.6 37.1M20.1 34.9L19.4 37.1M25.2 34.9L24.5 37.1M33.0 34.9L32.2 37.1M38.1 34.9L37.3 37.1M45.8 34.9L45.0 37.2M50.9 34.9L50.0 37.3M7.3 43.1L6.5 45.3M12.4 43.1L11.6 45.3M20.1 43.1L19.4 45.3M25.2 43.1L24.5 45.3M33.0 43.1L32.2 45.4M38.1 43.1L37.2 45.4M45.8 43.1L44.8 45.6M50.9 43.1L49.8 45.7M58.7 43.1L57.4 45.8M63.8 43.1L62.3 45.8M7.3 49.2L6.5 51.4M12.4 49.2L11.6 51.4M20.1 49.2L19.4 51.4M25.2 49.2L24.4 51.4M33.0 49.2L32.1 51.5M38.1 49.2L37.1 51.6M45.8 49.2L44.7 51.8M50.9 49.2L49.7 52.0M58.7 49.2L57.1 52.2M63.8 49.2L61.9 52.2M7.3 57.4L6.5 59.6M12.4 57.4L11.6 59.6M20.1 57.4L19.3 59.6M25.2 57.4L24.4 59.7M33.0 57.4L32.1 59.8M38.1 57.4L37.1 60.0M45.8 57.4L44.6 60.3M50.9 57.4L49.5 60.6M58.7 57.4L56.7 60.9M7.3 63.5L6.5 65.7M12.4 63.5L11.6 65.7M20.1 63.5L19.3 65.8M25.2 63.5L24.4 65.8M33.0 63.5L32.0 66.0M38.1 63.5L37.0 66.2M45.8 63.5L44.6 66.7M50.9 63.5L49.5 67.1M58.7 63.5L57.1 66.5M63.8 63.5L61.7 66.7M7.3 71.7L7.5 74.0M12.4 71.7L12.6 74.0M20.1 71.7L20.3 74.1M25.2 71.7L25.4 74.2M33.0 71.7L33.1 74.5M38.1 71.7L38.2 74.8M45.8 71.7L45.8 75.4M50.9 71.7L50.8 74.8M58.7 71.7L58.2 75.6M63.8 71.7L62.7 76.0M7.3 77.8L7.5 80.1M12.4 77.8L12.6 80.1M20.1 77.8L20.3 80.2M25.2 77.8L25.4 80.3M33.0 77.8L33.1 80.6M38.1 77.8L38.2 80.9M45.8 77.8L46.1 81.6M50.9 77.8L51.2 81.0M58.7 77.8L59.2 81.9M7.3 86.0L7.5 88.3M12.4 86.0L12.7 88.3M20.1 86.0L20.5 88.4M25.2 86.0L25.6 88.5M33.0 86.0L33.5 88.8M38.1 86.0L38.8 89.0M45.8 86.0L47.0 89.5M50.9 86.0L52.1 88.9M7.3 92.1L7.5 94.4M12.4 92.1L12.7 94.4M20.1 92.1L20.4 94.5M25.2 92.1L25.6 94.6M33.0 92.1L33.5 94.8M38.1 92.1L38.8 95.0M45.8 92.1L47.0 95.4M50.9 92.1L52.6 95.7M7.3 100.3L7.5 102.6M12.4 100.3L12.6 102.6M20.1 100.3L20.4 102.7M25.2 100.3L25.6 102.7M33.0 100.3L33.4 102.9M38.1 100.3L38.7 103.0M45.8 100.3L46.8 103.4M7.3 106.4L7.5 108.7M12.4 106.4L12.6 108.7M20.1 106.4L20.4 108.7M25.2 106.4L25.5 108.8M33.0 106.4L33.4 108.9M38.1 106.4L38.6 109.0M7.3 114.6L7.5 116.9M12.4 114.6L12.6 116.9M20.1 114.6L20.4 116.9M25.2 114.6L25.5 116.9M33.0 114.6L33.3 117.0M38.1 114.6L38.5 117.1" stroke="#444" stroke-width="0.32" stroke-opacity="0.7" fill="none"/><path d="M5.9 10.3L6.0 8.3L7.1 8.7ZM11.0 10.3L11.1 8.3L12.2 8.7ZM18.8 10.3L18.9 8.3L19.9 8.7ZM23.9 10.3L24.0 8.3L25.0 8.7ZM31.6 10.3L31.7 8.3L32.8 8.7ZM36.7 10.3L36.8 8.3L37.9 8.7ZM44.5 10.3L44.6 8.3L45.6 8.7ZM5.9 18.5L6.0 16.5L7.1 16.9ZM11.0 18.5L11.1 16.5L12.2 16.9ZM18.8 18.5L18.9 16.5L19.9 16.9ZM23.9 18.5L24.0 16.5L25.0 16.9ZM31.6 18.5L31.7 16.5L32.8 16.9ZM36.7 18.5L36.8 16.5L37.9 16.9ZM44.4 18.5L44.6 16.5L45.6 16.9ZM49.5 18.5L49.7 16.5L50.7 16.9ZM5.9 24.6L6.0 22.6L7.1 23.0ZM11.0 24.6L11.1 22.6L12.2 23.0ZM18.8 24.6L18.9 22.6L19.9 23.0ZM23.9 24.6L24.0 22.6L25.0 23.0ZM31.6 24.6L31.7 22.6L32.7 23.0ZM36.7 24.6L36.8 22.6L37.8 23.0ZM44.4 24.6L44.5 22.6L45.6 23.0ZM49.5 24.6L49.6 22.6L50.7 23.0ZM5.9 32.8L6.0 30.8L7.1 31.2ZM11.0 32.8L11.1 30.8L12.2 31.2ZM18.8 32.8L18.9 30.8L19.9 31.2ZM23.8 32.8L24.0 30.8L25.0 31.2ZM31.6 32.8L31.7 30.8L32.7 31.2ZM36.7 32.8L36.8 30.8L37.8 31.2ZM44.4 32.8L44.5 30.9L45.5 31.2ZM49.4 32.8L49.6 30.9L50.6 31.3ZM5.9 38.9L6.0 36.9L7.1 37.3ZM11.0 38.9L11.1 36.9L12.2 37.3ZM18.7 38.9L18.9 36.9L19.9 37.3ZM23.8 38.9L24.0 36.9L25.0 37.3ZM31.5 38.9L31.7 36.9L32.7 37.3ZM36.6 38.9L36.8 37.0L37.8 37.3ZM44.3 39.0L44.5 37.0L45.5 37.4ZM49.3 39.0L49.5 37.1L50.5 37.5ZM5.9 47.1L6.0 45.1L7.1 45.5ZM11.0 47.1L11.1 45.1L12.2 45.5ZM18.7 47.1L18.8 45.1L19.9 45.5ZM23.8 47.1L23.9 45.1L25.0 45.5ZM31.5 47.2L31.6 45.2L32.7 45.6ZM36.5 47.2L36.7 45.2L37.7 45.6ZM44.1 47.3L44.3 45.3L45.3 45.8ZM49.1 47.4L49.3 45.4L50.3 45.9ZM56.5 47.5L56.9 45.5L57.9 46.0ZM61.4 47.5L61.8 45.6L62.8 46.1ZM5.9 53.2L6.0 51.2L7.1 51.6ZM11.0 53.2L11.1 51.2L12.1 51.6ZM18.7 53.2L18.8 51.2L19.9 51.6ZM23.8 53.2L23.9 51.3L24.9 51.6ZM31.4 53.3L31.6 51.3L32.6 51.7ZM36.4 53.4L36.6 51.4L37.7 51.8ZM44.0 53.6L44.2 51.6L45.2 52.0ZM48.9 53.7L49.2 51.7L50.2 52.2ZM56.2 53.8L56.6 51.9L57.6 52.4ZM60.9 53.8L61.4 51.9L62.4 52.5ZM5.9 61.4L6.0 59.4L7.0 59.8ZM11.0 61.4L11.1 59.4L12.1 59.8ZM18.7 61.4L18.8 59.4L19.9 59.8ZM23.7 61.5L23.9 59.5L24.9 59.9ZM31.4 61.6L31.5 59.6L32.6 60.0ZM36.4 61.8L36.6 59.8L37.6 60.2ZM43.8 62.1L44.1 60.1L45.1 60.5ZM48.7 62.3L49.0 60.3L50.0 60.8ZM55.7 62.5L56.2 60.6L57.2 61.2ZM5.9 67.5L6.0 65.5L7.0 65.9ZM11.0 67.5L11.1 65.5L12.1 65.9ZM18.7 67.5L18.8 65.6L19.8 65.9ZM23.7 67.6L23.9 65.6L24.9 66.0ZM31.4 67.8L31.5 65.8L32.6 66.2ZM36.4 68.0L36.5 66.0L37.6 66.4ZM43.9 68.5L44.1 66.5L45.1 66.9ZM48.7 68.8L49.0 66.8L50.0 67.3ZM55.8 69.2L56.5 66.2L57.8 66.9ZM60.0 69.2L61.1 66.3L62.3 67.1ZM7.7 75.9L7.0 74.1L8.1 74.0ZM12.8 75.9L12.1 74.1L13.2 74.0ZM20.5 76.0L19.8 74.2L20.9 74.1ZM25.5 76.1L24.9 74.3L26.0 74.2ZM33.2 76.4L32.5 74.5L33.6 74.5ZM38.2 76.7L37.6 74.8L38.7 74.8ZM45.8 77.3L45.3 75.4L46.4 75.4ZM50.7 77.8L50.1 74.8L51.5 74.8ZM57.8 78.6L57.5 75.5L58.9 75.7ZM61.9 78.9L62.0 75.8L63.4 76.2ZM7.7 82.0L7.0 80.2L8.1 80.1ZM12.8 82.0L12.1 80.2L13.2 80.1ZM20.5 82.1L19.8 80.3L20.9 80.2ZM25.5 82.2L24.8 80.4L25.9 80.3ZM33.2 82.5L32.6 80.7L33.7 80.6ZM38.3 82.8L37.7 81.0L38.8 80.9ZM46.2 83.5L45.5 81.6L46.6 81.5ZM51.5 84.0L50.5 81.1L52.0 81.0ZM59.6 84.9L58.5 82.0L59.9 81.8ZM7.7 90.2L7.0 88.4L8.1 88.3ZM12.9 90.2L12.1 88.4L13.2 88.3ZM20.7 90.3L19.9 88.5L21.0 88.3ZM25.9 90.4L25.1 88.6L26.2 88.4ZM33.9 90.6L33.0 88.9L34.1 88.6ZM39.3 90.9L38.3 89.1L39.4 88.9ZM47.6 91.3L46.5 89.7L47.5 89.4ZM53.2 91.7L51.5 89.2L52.8 88.6ZM7.7 96.3L7.0 94.5L8.1 94.3ZM12.9 96.3L12.1 94.5L13.2 94.4ZM20.7 96.4L19.9 94.6L21.0 94.4ZM25.9 96.5L25.1 94.7L26.1 94.5ZM33.9 96.7L33.0 94.9L34.1 94.7ZM39.2 96.9L38.3 95.1L39.3 94.9ZM47.7 97.2L46.5 95.6L47.5 95.3ZM53.4 97.4L52.1 95.9L53.1 95.5ZM7.7 104.5L7.0 102.7L8.1 102.5ZM12.8 104.5L12.1 102.7L13.2 102.6ZM20.7 104.5L19.9 102.7L21.0 102.6ZM25.8 104.6L25.0 102.8L26.1 102.7ZM33.8 104.8L32.9 103.0L34.0 102.8ZM39.1 104.9L38.2 103.2L39.2 102.9ZM47.4 105.2L46.3 103.5L47.4 103.2ZM7.7 110.6L7.0 108.8L8.1 108.6ZM12.8 110.6L12.1 108.8L13.2 108.7ZM20.6 110.6L19.9 108.8L21.0 108.7ZM25.8 110.7L25.0 108.9L26.1 108.7ZM33.7 110.8L32.8 109.0L33.9 108.8ZM38.9 110.9L38.1 109.1L39.1 108.9ZM7.7 118.8L7.0 116.9L8.1 116.8ZM12.8 118.8L12.1 117.0L13.2 116.8ZM20.6 118.8L19.9 117.0L20.9 116.9ZM25.7 118.8L25.0 117.0L26.1 116.9ZM33.6 118.9L32.8 117.1L33.9 116.9ZM38.8 119.0L37.9 117.2L39.0 117.0Z" fill="#333" fill-opacity="0.72"/></g><text x="3.4" y="11.5" class="pl">(a)</text><text x="18.3" y="58.9" class="cn">China</text></g><text x="19.2" y="59.9" class="ax" text-anchor="end">31°N</text><text x="19.2" y="118.3" class="ax" text-anchor="end">26°N</text><text x="30.0" y="133.5" class="ax" text-anchor="middle">116°E</text><text x="80.0" y="133.5" class="ax" text-anchor="middle">121°E</text><text x="130.0" y="133.5" class="ax" text-anchor="middle">126°E</text><g transform="translate(186.7,10.0)"><rect x="0" y="0" width="150.0" height="116.3" fill="#a9cfe4"/><g clip-path="url(#pc)"><path fill="#09386d" fill-rule="evenodd" d="M-1,-1 151,-1 151,118 -1,118Z"/><path fill="#124984" fill-rule="evenodd" d="M0,-1 151,-1 151,118 -1,118 -1,-1ZM117.2,103 116.4,105 117,108 118,109.2 120,109.6 121,108.8 121.9,107 121.6,104 120,102.2 119,102ZM125.6,110 124.5,112 124.6,115 125,116 126,116.8 127,116.9 128.2,116 128.5,112 128,110.7 127,109.7Z"/><path fill="#1c5c9f" fill-rule="evenodd" d="M0,-1 151,-1 151,118 131,118 131.2,116 128.8,109 127,107.4 125,106.8 122.4,102 121.4,101 119,100.2 116.9,101 115.1,104 114.9,107 115.4,111 115.1,113 114,114.3 110.7,116 110,117 110,118 50,118 50.2,116 51.2,114 51.2,112 50,110 47,108.5 38,110.4 34,110.9 16,109.9 -1,110 -1,-1ZM25,116 32,115.2 36,115.4 38.8,116 40,117 40,118 20,118 20,117Z"/><path fill="#266caf" fill-rule="evenodd" d="M0,-1 151,-1 151,30 148,29.6 145.5,30 143.7,31 142.8,33 144,34.5 146,35 148,34.6 150,33.1 151,33.1 151,118 140,118 140,117 139.3,116 135.1,114 133,112.3 129.7,107 126,103.5 123,99.3 120,97.9 117,98.4 115,100.1 113.3,103 112,107.7 110,110 107,110.7 103,109.6 100,110 95,114.4 90.6,116 90,118 70,118 69.6,116 68,115 64,113.7 54.1,105 49,99 47,97.9 45,98.1 39,100.3 34,101 15,99.8 -1,100 -1,84.4 0.3,84 -1,84 -1,-1ZM59.8,26 58.9,28 59.6,30 61,30.9 63,30.5 63.9,29 63.4,27 62,25.8ZM27.4,83 19.7,84 20.5,85 32,86.9 37,86.4 39.9,85 40.1,84 37.5,83 35,82.7ZM61,115.9 64,115.7 64.6,118 60,118 60,117ZM96,115.7 97,115.4 99.3,116 100,117 100,118 95.6,118Z"/><path fill="#327cb7" fill-rule="evenodd" d="M0,-1 151,-1 151,26.4 146,27.1 142,28.5 140,30 138.8,33 139,34.5 140,36.2 143,38.2 146,38.5 151,37.1 151,110 150,110 148,112 147,112.2 144.4,112 141.6,111 139,109 138.5,107 139.2,106 142.6,104 143,103 141.9,101 140,100 138,99.7 134,101 132,101 129,99.2 124.6,95 123,94.4 120,94.1 117,94.7 115,95.6 108,101.4 102,102.8 98,104.6 80,117 72,111 62,106.4 58,104 56.4,102 55.6,100 55.5,98 56.3,95 55.8,94 50.7,88 48,83.4 46,81.7 41,80.6 34,80.1 -1,80.5 -1,37.8 13,37.6 36,38.3 43.3,37 45.3,36 46,35 45.4,33 44,31.4 42,30.5 38,29.7 32,29.4 15,30.1 -1,30 -1,20 18,19.9 33,22 36,21.5 45,18.4 48,18.3 49.4,19 50,20 50.1,23 49.2,28 50,30 51,30.7 55.1,32 61,32.7 63,32.2 64,31.5 65.2,29 64.5,26 59.2,19 57,17.1 53,15.4 50.7,11 48,8.7 46,8.4 39,10.3 34,10.9 16,9.9 -1,10 -1,-1Z"/><path fill="#3c8abe" fill-rule="evenodd" d="M0,-1 151,-1 151,24.3 143.3,26 140,27.3 137,30 136.2,33 137.2,37 140,40 142,40.8 145,41.1 151,40 151,100 150,100 148,97.5 146,96.3 136,93.6 130,90 127,89.3 121,89.9 114,91.5 106,97.2 98,101 89,106.6 83,109.5 79,109.9 66,105.3 61.9,103 60.3,101 60,98 59,96 52.2,88 48,81.3 46,79.7 35,78.6 -1,78.8 -1,40.5 34,40.8 45,39.9 52.6,38 63,33.8 65.9,31 66.5,28 65.7,25 62,17.5 57.4,12 53.7,6 51,4 47,3.2 34,3.9 -1,3.7 -1,-1ZM73.5,72 73.4,73 74,73.5 75.2,73 75,71.8Z"/><path fill="#4f9bc7" fill-rule="evenodd" d="M21,-1 40,-1 40,0 20,0 20,-1ZM51,-1 60,-1 60,0 66,0.3 70,0 70,-1 151,-1 151,22.3 140,25.5 137,27 135,29.4 134.1,33 134.5,36 135.5,39 137,41 138.4,42 141,42.9 144,43.3 151,42.5 151,90 147,91.1 142,90.6 138.1,89 134,85.6 131,84.7 127,84.9 115,87.5 111,89.3 105,94.5 102,96.4 90,102.9 83,105.8 78,106.1 69.8,104 66.1,102 54.2,89 48.2,80 46,78.2 35,77.4 -1,77.6 -1,42.2 35,42.3 48,41.3 54.3,40 58,38.7 64,35 67,32 68.1,29 67.8,26 64.3,17 59.6,9 57.2,1 56,0.2 50,0 50,-1ZM72.9,72 72.8,73 74,74.1 75,74 75.8,73 75.7,72 75,71.3 74,71.1Z"/><path fill="#6bacd1" fill-rule="evenodd" d="M81,-1 85.3,-1 85.3,0 88,0.1 90,0 90,-1 151,-1 151,20 150,20 146,22 138,24.6 135.1,26 132.8,29 131.9,34 133.2,40 134.4,42 136,43.5 138,44.4 142,45.1 151,44.7 151,80 143,80.2 132,79.6 128,80.6 121,83.2 113,85 111,86.2 104,93.5 98,97.4 89,101.5 84,102.8 79,103.4 71,101.8 65,98.6 55.1,89 49,79.6 46,77.1 35,76.4 -1,76.6 -1,43.5 42,43.4 53.8,42 60,40 63,38.1 67.6,34 69.2,32 70.2,29 69.7,25 63.3,10 62.9,7 63.5,5 66.3,3 80,0 80,-1ZM73.3,71 72.5,72 72.4,73 73,74 75,74.4 76,73.4 76.1,72 75,70.8Z"/><path fill="#84bcd9" fill-rule="evenodd" d="M100,-1 151,-1 151,17.4 150,17.4 145,20.4 136,23.4 133,25 131.2,27 130.3,29 129.4,34 130.3,41 131.7,44 133,45.2 135,46.2 139,47 151,47 151,76.5 136,74.5 132,74.8 129,75.6 121,79.6 113,82 104,92.1 101,94.5 96,97.4 88,100.6 83,101.7 79,101.9 75,101.5 71,100.4 67,98.5 64,96.5 56.1,89 53.7,86 49,78.2 46,76 35,75.5 -1,75.6 -1,44.6 44,44.4 55,43.4 61,41.6 64,39.7 70.3,34 71.7,32 72.4,30 72.3,26 66.3,11 66.5,8 67.8,6 71,4.4 78,2.9 95,2.1 100,0ZM72.7,71 72,73 73,74.5 75,74.8 76,74.1 76.5,73 75.9,71 74,70.3Z"/><path fill="#9dcbe1" fill-rule="evenodd" d="M111,-1 151,-1 151,14.2 150,14.2 143,18.9 133,22 130.2,24 128.8,26 127.3,30 126.4,34 125.9,40 126.2,44 127,46.7 128,48.4 130,50 133,50.7 140,50 151,50 151,73.8 150,73.8 138,69.5 134,69.2 130,70 120,75.7 114,77.9 104.8,90 99,94.8 94,97.5 89,99.4 84,100.5 80,100.8 76,100.6 72,99.6 68,97.9 64,95.4 56.1,88 49.9,78 47,75.4 45,74.9 37,74.7 -1,74.7 -1,45.7 44,45.5 56,44.6 62,43.2 65.5,41 72,35 73.6,33 74.4,31 74.5,26 69.8,12 70,10 71,8.5 74,6.8 80,5.8 96,6 99,5.6 110,0 110,-1ZM59.8,54 58.8,55 60,55.4 64.2,55 63.3,54ZM74,70 72.2,71 71.7,73 73,74.9 75,75.1 76.5,74 76.9,72 76,70.6Z"/><path fill="#b1d5e7" fill-rule="evenodd" d="M121,-1 151,-1 151,10 150,10 148,11 142,15.9 140,17 132,19 129,20.8 126,25.5 118,44.1 116,45.6 111.9,46 109.9,47 109,48 109,49 110,50 112,50.5 114,50.3 117,48.9 119,49.4 122,51.6 128.8,58 130,60 129.9,61 128.6,63 122.9,68 114,73.2 109.4,82 106,87 102.5,91 98,94.4 92,97.4 86,99.2 80,99.9 75,99.4 71,98.2 67,96.3 60,91.1 55,85.4 50,76.6 47,74.4 36,73.8 -1,73.9 -1,46.8 46,46.7 58,45.8 64,44.5 67,42.7 73,37.1 75.6,34 76.5,32 77,27 74.6,14 75,12.5 76,11.4 79,10.2 83,9.7 96,10.5 100,10 103,8.7 109,4.8 117,2.9 119.2,1 120,0 120,-1ZM57.4,54 56.9,55 60,56.1 63.3,56 65.8,55 65.4,54 63,53.3 60,53.3ZM72.9,70 71.4,72 71.7,74 72.6,75 74,75.6 76,75 77.3,73 76.8,71 75,69.7ZM140,57.9 143,57.3 148,59.5 151,60 151,70 150,70 148.1,68 145,62.5 140,60 139.2,59Z"/><path fill="#c7e0ed" fill-rule="evenodd" d="M131,-1 140,-1 140,0 143.2,1 143.3,3 141.1,8 138.5,12 136,14 129,16.2 127,17.4 125.7,19 122,26.7 117,34.1 112.6,38 101.7,46 99.9,48 100,49 101.8,51 106,53.9 115.5,56 118,57 119.7,59 120,61 118.5,64 114,67.2 113,68.4 109.4,79 105.5,86 102,90.2 96.9,94 90,97.2 83,98.7 76,98.5 70,96.8 64,93.4 59,89.2 55,84.1 50.8,76 49,74.1 47,73.2 36,72.8 -1,72.8 -1,48.2 48,48.1 60,47.5 66,46.2 70,44 75.8,38 78.7,34 80.1,29 80,20 81,18 83,17.3 87,20 89,20.3 91,19.5 96,15.6 104,13.1 110,10 113,9.6 117,10.5 120,10 122,8.3 125.6,2 127,1 130,0 130,-1ZM57.7,53 55.5,54 55.1,55 56.3,56 58,56.5 64,56.4 67.3,55 67,54 64,52.8 61,52.5ZM72.3,70 71,72 71.3,74 73,75.7 75,75.8 76,75.5 77,74.5 77.6,73 77.2,71 75,69.3Z"/><path fill="#d7e8f1" fill-rule="evenodd" d="M130,5.8 132,5.6 133.1,7 132.5,9 131,9.9 130,10 128.8,9 128.9,7ZM115,17.7 118,17.5 119.1,18 119.8,19 119.5,22 118,24.3 108,31.1 105,31.7 101,30.7 100.3,31 102,32.7 103,36 102.1,38 100,40 98,40.9 96,41.1 92,40 90,40 89,40.5 88.2,42 87.9,44 89.2,46 108,58 110.3,60 111,62 108.8,76 106.1,83 103.4,87 100.6,90 96.6,93 92.8,95 86.9,97 80,97.8 74,97 68,94.7 63.5,92 59,88 55,82.4 51.6,75 50,73.1 48,72.1 39,71.6 -1,71.6 -1,50 58,50.1 66,48.8 70.8,47 74.3,45 84.7,36 87.2,32 89,30.5 94,29.2 100,30 99,29.7 98,27.6 97.3,24 98,22 100,20 104,19 108,20 110,20ZM56.9,52 55,52.6 53.2,54 53,55.2 53.6,56 55,56.7 59,57.3 63,57.1 67,56.2 68.8,55 68.7,54 67,52.8 63,51.6 59,51.4ZM73.6,69 71.7,70 71,71 70.6,73 72,75.5 73,76.1 75,76.2 77.1,75 77.7,74 77.9,72 77,70.1 76,69.3Z"/><path fill="#e4eef4" fill-rule="evenodd" d="M78,47.8 81,47.6 84,48.2 91,50.8 95.5,53 100.1,56 103.6,59 105.2,61 106.5,64 107.3,70 107,75 106,79.3 104,83.6 101,87.6 97.2,91 94,93 89,95.1 83,96.3 77,96.2 71.6,95 65.3,92 61.4,89 57.8,85 55,79.8 52.2,72 50,70.1 -1,70 -1,60 52,60.3 55.1,59 65,57.5 69,56.3 70.7,55 70.9,54 69,52 69,51ZM72.4,69 70.5,71 70.4,74 71,75 73,76.5 76,76.4 78.2,74 78.1,71 76,68.9 74,68.5ZM22,54 39.7,54 33,54.9Z"/><path fill="#f0f4f6" fill-rule="evenodd" d="M79,53 83,53.1 88,54.2 92,55.9 95.3,58 98.5,61 100.6,64 102.4,68 103.1,72 103,76 102.2,79 100.3,83 98,86 95,88.6 91,91 87,92.5 82,93.4 77,93.3 73,92.5 69,91 65,88.6 62,86 59.7,83 57.8,79 56.9,75 57,71 57.6,68 59.4,64 61.5,61 64.4,59 72,56.3 76,53.6ZM71.5,69 70.5,70 69.7,72 70.4,75 73,77 75,77.1 77,76.3 78.2,75 78.9,73 78,70 77,68.9 75,68.1 73,68.2Z"/><path fill="#f8f2ef" fill-rule="evenodd" d="M78,57.9 80,57.6 85,58.2 90,60.2 93.4,63 95.8,66 97.7,71 97.6,76 96.6,79 94.7,82 92,84.7 89,86.7 83,88.7 77,88.7 73,87.6 69,85.4 65.4,82 63.6,79 62.4,75 62.5,71 63.3,68 66.1,64 70,60.3 72,59.3 75,58.2ZM72.1,68 70.7,69 69.4,71 69.3,74 70.5,76 72,77.1 74,77.7 76,77.4 78,76.1 78.8,75 79.4,73 79.1,71 77.9,69 76,67.8 74,67.5Z"/><path fill="#fae9df" fill-rule="evenodd" d="M75,59.7 81,59 87,60.4 92,63.6 95,67.8 96.2,73 95.3,78 92.8,82 88,85.6 82,87.3 78,87.3 75,86.7 69.6,84 67.4,82 65.4,79 64.4,76 64.1,73 64.6,70 65.8,67 69,63 71.9,61ZM73.3,67 72,67.4 69.6,69 68.4,71 68.3,73 69,75 70.6,77 73,78.2 75,78.3 77,77.6 78.9,76 79.8,74 80,72 79.4,70 77.7,68 76,67.1Z"/><path fill="#fcdfcf" fill-rule="evenodd" d="M76,60.7 81,60.2 87,61.6 91,64.3 93.7,68 94.9,73 93.9,78 91.1,82 87,84.8 81,86.2 75,85.4 70.5,83 68.5,81 67.4,79 66.8,77 67,75.9 72,78.7 75,79 78,77.9 80.3,75 80.7,73 80.5,71 79.7,69 78,67.3 75,66.2 70,66.6 69,66.2 71.4,63Z"/><path fill="#fcd3bc" fill-rule="evenodd" d="M77,61.8 82,61.5 87,62.9 90.1,65 92.8,69 93.6,74 92.6,78 90,81.5 86,84 82,85 78,84.9 73,83 71.2,81 71.5,80 76,79.8 78,79 80,77.3 81.2,75 81.4,71 80.1,68 78,66.2 74.1,65 73.7,64 74.5,63Z"/><path fill="#f8bfa4" fill-rule="evenodd" d="M79,63 84,63.1 88,64.8 90.3,67 92.1,71 92.2,75 90.6,79 87.2,82 83,83.5 78,83.5 75.1,82 80,79.4 81.8,77 82.4,75 82.5,71 81.7,68 80,65.8 77,64Z"/><path fill="#f6af8e" fill-rule="evenodd" d="M85,64.9 87.6,66 89.6,68 90.6,70 91.2,73 91,75 90,77.7 88.1,80 86,81.2 84.3,81 83.9,79 84,67.7 84.5,65Z"/><path fill="#ef9979" fill-rule="evenodd" d="M87,69.6 88.1,70 89.1,73 88.1,76 87,76.5 86,75.7 85.5,73 86,70.4Z"/><path fill="#b7b7b7" d="M-2.0 -2.0L41.9 -2.0L41.9 0.0L44.2 1.7L48.7 3.5L52.4 7.2L54.7 11.7L55.6 16.3L56.5 21.8L57.4 25.0L57.9 27.1L59.9 30.0L62.1 32.8L59.0 33.8L55.5 34.2L58.5 36.8L62.5 38.9L65.5 40.6L68.5 42.3L69.2 43.8L68.6 46.0L67.5 48.3L66.5 50.0L63.0 51.6L59.0 52.4L55.3 53.6L58.0 55.9L62.0 56.6L66.0 56.9L68.3 57.4L67.2 59.5L67.0 60.0L66.5 62.0L67.0 64.3L66.0 67.6L66.5 70.9L65.4 74.2L63.5 77.0L61.5 79.0L59.6 81.9L56.5 86.5L53.4 90.4L50.4 93.4L47.3 96.5L45.8 100.3L46.5 103.4L44.2 107.3L43.4 111.1L41.1 114.2L39.6 117.0L39.6 119.0L-2.0 119.0Z"/><path fill="#b7b7b7" d="M58.0 35.2L61.5 35.6L65.5 36.8L68.2 38.2L67.2 38.9L63.0 37.9L59.5 36.6Z"/><path fill="#ecd2bd" d="M60.0 117.5L62.5 115.6L65.8 112.8L68.5 114.4L70.5 117.5Z"/><path fill="#ecd2bd" d="M114.0 16.8L115.5 16.0L117.2 16.0L117.8 16.8L116.5 17.6L114.8 17.6Z"/><path fill="#ecd2bd" d="M128.3 102.5L129.8 99.0L131.8 95.8L132.3 96.3L130.5 100.0L128.8 103.0Z"/><path fill="#ecd2bd" d="M143.0 79.5L145.5 77.5L147.0 78.0L145.0 80.0Z"/><path fill="#ecd2bd" d="M138.0 25.0L139.5 23.0L141.0 22.5L140.5 24.5Z"/><path fill="#ecd2bd" d="M148.0 27.0L149.0 23.5L150.5 22.0L150.5 29.0Z"/><path fill="#ecd2bd" d="M144.5 15.0L145.8 13.8L146.5 15.0L145.3 16.0Z"/><path fill="#ecd2bd" d="M126.0 0.5L128.0 0.0L129.0 1.2L127.0 1.6Z"/><path fill="#ecd2bd" d="M132.0 0.3L134.0 0.2L134.5 1.4L132.5 1.5Z"/><path fill="none" stroke="#d8d8d8" stroke-width="0.45" d="M12.0 64.0L16.0 60.0L20.0 55.0L25.0 50.0L30.0 46.0L35.0 42.0L40.0 39.0L45.0 37.0L50.0 36.5L56.5 35.8"/><path fill="none" stroke="#d8d8d8" stroke-width="0.45" d="M35.0 20.0L38.0 24.0L41.0 27.0L44.0 30.0L47.0 33.0L50.0 36.0"/><ellipse cx="35.5" cy="20.3" rx="1.9" ry="2.4" fill="#ececec"/><ellipse cx="33.4" cy="17.6" rx="1.0" ry="0.8" fill="#ececec"/><ellipse cx="37.5" cy="18.0" rx="0.8" ry="0.7" fill="#ececec"/><ellipse cx="29.5" cy="22.0" rx="0.7" ry="0.6" fill="#ececec"/><ellipse cx="23.6" cy="19.3" rx="0.6" ry="0.6" fill="#ececec"/><ellipse cx="42.0" cy="24.0" rx="0.8" ry="0.9" fill="#ececec"/><ellipse cx="45.5" cy="27.5" rx="0.8" ry="1.0" fill="#ececec"/><ellipse cx="32.0" cy="10.3" rx="0.6" ry="0.6" fill="#ececec"/><ellipse cx="52.7" cy="43.5" rx="2.0" ry="2.4" fill="#ececec"/><ellipse cx="50.0" cy="46.5" rx="0.9" ry="0.8" fill="#ececec"/><ellipse cx="31.0" cy="45.5" rx="1.4" ry="1.0" fill="#ececec"/><ellipse cx="25.7" cy="43.0" rx="0.6" ry="0.6" fill="#ececec"/><ellipse cx="22.0" cy="3.5" rx="0.7" ry="0.7" fill="#ececec"/><ellipse cx="26.0" cy="51.0" rx="0.8" ry="0.7" fill="#ececec"/><ellipse cx="15.0" cy="55.0" rx="0.7" ry="0.6" fill="#ececec"/><ellipse cx="6.0" cy="57.5" rx="0.8" ry="0.7" fill="#ececec"/><ellipse cx="8.6" cy="60.5" rx="0.7" ry="0.7" fill="#ececec"/><ellipse cx="10.0" cy="63.0" rx="1.0" ry="1.0" fill="#ececec"/><ellipse cx="11.5" cy="66.5" rx="1.2" ry="1.3" fill="#ececec"/><ellipse cx="12.5" cy="70.0" rx="1.0" ry="1.0" fill="#ececec"/><ellipse cx="13.5" cy="73.0" rx="0.8" ry="0.8" fill="#ececec"/><ellipse cx="5.0" cy="68.0" rx="0.7" ry="0.9" fill="#ececec"/><ellipse cx="5.5" cy="72.0" rx="0.6" ry="0.7" fill="#ececec"/><ellipse cx="60.0" cy="55.0" rx="0.8" ry="0.9" fill="#ececec"/><ellipse cx="66.0" cy="62.5" rx="0.7" ry="0.8" fill="#ececec"/><path d="M50.9 5.3L48.8 5.8M58.7 5.3L55.3 6.0M63.8 5.3L59.4 6.1M71.5 5.3L65.9 6.2M76.6 5.3L70.6 6.2M84.4 5.3L78.2 6.4M89.5 5.3L83.4 6.5M97.2 5.3L91.2 6.7M102.3 5.3L96.0 7.0M110.1 5.3L102.9 7.7M115.2 5.3L108.0 8.1M122.9 5.3L115.7 8.6M128.0 5.3L120.8 8.7M135.8 5.3L128.6 8.9M140.9 5.3L133.8 9.0M148.7 5.3L141.7 9.2M58.7 13.5L56.3 14.1M63.8 13.5L59.7 14.5M71.5 13.5L64.7 14.7M76.6 13.5L69.0 14.7M84.4 13.5L76.5 14.7M89.5 13.5L81.6 14.8M97.2 13.5L89.4 14.9M102.3 13.5L94.5 15.1M110.1 13.5L102.4 15.5M115.2 13.5L107.6 15.9M122.9 13.5L115.5 16.3M128.0 13.5L120.6 16.5M135.8 13.5L128.5 16.7M140.9 13.5L133.7 16.9M148.7 13.5L142.5 16.7M58.7 19.6L57.2 20.1M63.8 19.6L61.4 20.3M71.5 19.6L65.4 20.8M76.6 19.6L68.8 20.9M84.4 19.6L76.5 20.7M89.5 19.6L81.6 20.6M97.2 19.6L89.3 20.6M102.3 19.6L94.4 20.8M110.1 19.6L102.2 21.1M115.2 19.6L107.4 21.5M122.9 19.6L115.3 22.0M128.0 19.6L120.6 22.1M135.8 19.6L129.4 22.1M140.9 19.6L135.1 22.1M148.7 19.6L144.5 21.6M58.7 27.8L57.7 28.2M63.8 27.8L62.7 28.2M71.5 27.8L66.6 29.0M76.6 27.8L69.3 29.1M84.4 27.8L76.4 28.6M89.5 27.8L81.5 28.4M97.2 27.8L89.3 28.2M102.3 27.8L94.4 28.2M110.1 27.8L102.1 28.5M115.2 27.8L107.3 28.8M122.9 27.8L115.1 29.4M128.0 27.8L121.8 29.3M135.8 27.8L132.7 28.8M140.9 27.8L139.1 28.5M148.7 27.8L147.4 28.3M58.7 33.9L56.9 34.8M63.8 33.9L61.3 34.9M71.5 33.9L65.7 35.4M76.6 33.9L68.8 35.3M84.4 33.9L76.4 34.4M89.5 33.9L81.5 34.0M97.2 33.9L89.3 33.6M102.3 33.9L94.4 33.5M110.1 33.9L102.1 33.7M115.2 33.9L107.2 34.1M122.9 33.9L115.6 34.7M128.0 33.9L122.2 34.8M135.8 33.9L133.5 34.5M140.9 33.9L139.6 34.3M148.7 33.9L147.6 34.3M71.5 42.1L63.9 44.4M76.6 42.1L68.8 43.4M84.4 42.1L76.4 42.0M89.5 42.1L81.5 41.3M97.2 42.1L89.4 40.5M102.3 42.1L94.6 40.3M110.1 42.1L102.3 40.4M115.2 42.1L107.5 40.7M122.9 42.1L116.0 41.4M128.0 42.1L122.0 41.8M135.8 42.1L131.9 42.2M140.9 42.1L138.0 42.4M148.7 42.1L145.8 42.6M71.5 48.2L64.0 50.8M76.6 48.2L68.7 49.4M84.4 48.2L76.4 47.5M89.5 48.2L81.7 46.5M97.2 48.2L89.7 45.5M102.3 48.2L94.9 45.3M110.1 48.2L103.2 45.5M115.2 48.2L108.2 45.7M122.9 48.2L116.1 46.3M128.0 48.2L121.8 46.9M135.8 48.2L130.0 47.5M140.9 48.2L135.2 47.9M148.7 48.2L142.9 48.4M63.8 56.4L58.3 61.8M71.5 56.4L64.3 59.6M76.6 56.4L68.8 57.3M84.4 56.4L76.8 54.3M89.5 56.4L82.3 53.1M97.2 56.4L90.5 52.1M102.3 56.4L95.8 51.9M110.1 56.4L103.5 51.9M115.2 56.4L108.4 52.1M122.9 56.4L115.9 52.7M128.0 56.4L121.3 53.4M135.8 56.4L128.9 54.1M140.9 56.4L133.7 54.5M148.7 56.4L141.4 55.2M71.5 62.5L66.1 65.6M76.6 62.5L70.5 62.7M84.4 62.5L78.0 59.0M89.5 62.5L83.5 57.8M97.2 62.5L91.6 57.0M102.3 62.5L96.7 56.9M110.1 62.5L104.2 57.1M115.2 62.5L109.1 57.4M122.9 62.5L116.3 58.0M128.0 62.5L121.5 58.8M135.8 62.5L129.1 59.7M140.9 62.5L133.9 60.2M148.7 62.5L141.2 60.8M71.5 70.7L70.0 74.9M76.6 70.7L73.1 68.1M84.4 70.7L81.7 65.3M89.5 70.7L86.4 63.9M97.2 70.7L94.0 63.6M102.3 70.7L98.7 63.7M110.1 70.7L105.7 64.0M115.2 70.7L110.3 64.6M122.9 70.7L117.7 66.0M128.0 70.7L122.8 66.9M135.8 70.7L130.4 67.9M140.9 70.7L135.1 68.3M148.7 70.7L141.8 68.7M63.8 76.8L68.0 82.0M71.5 76.8L76.2 78.3M76.6 76.8L80.1 73.5M84.4 76.8L85.4 70.6M89.5 76.8L90.0 69.3M97.2 76.8L97.6 69.0M102.3 76.8L103.0 68.9M110.1 76.8L111.6 68.9M115.2 76.8L117.1 70.5M122.9 76.8L125.7 71.7M128.0 76.8L131.1 72.6M135.8 76.8L139.4 73.5M140.9 76.8L144.9 73.9M148.7 76.8L153.2 74.4M58.7 85.0L65.4 89.2M63.8 85.0L71.1 88.1M71.5 85.0L78.6 84.6M76.6 85.0L82.9 82.0M84.4 85.0L89.1 79.0M89.5 85.0L93.1 78.2M97.2 85.0L100.1 77.6M102.3 85.0L105.2 77.5M110.1 85.0L112.3 80.0M115.2 85.0L117.1 81.3M122.9 85.0L125.1 82.1M128.0 85.0L130.2 82.6M135.8 85.0L138.6 82.8M140.9 85.0L144.2 82.9M148.7 85.0L152.0 83.4M58.7 91.1L64.9 93.3M63.8 91.1L71.6 92.7M71.5 91.1L79.4 90.1M76.6 91.1L84.0 88.2M84.4 91.1L90.3 85.9M89.5 91.1L94.6 85.1M97.2 91.1L101.6 84.4M102.3 91.1L106.4 84.3M110.1 91.1L111.7 88.5M115.2 91.1L116.5 89.2M122.9 91.1L124.4 89.6M128.0 91.1L129.6 89.7M135.8 91.1L138.0 89.5M140.9 91.1L143.7 89.5M148.7 91.1L151.6 89.8M50.9 99.3L52.1 99.6M58.7 99.3L60.8 99.6M63.8 99.3L67.4 99.5M71.5 99.3L78.5 98.0M76.6 99.3L84.2 96.6M84.4 99.3L91.2 95.0M89.5 99.3L94.8 95.0M97.2 99.3L99.6 96.9M102.3 99.3L103.9 97.6M110.1 99.3L111.3 98.0M115.2 99.3L116.1 98.4M122.9 99.3L123.9 98.5M128.0 99.3L129.4 98.3M135.8 99.3L137.3 98.4M140.9 99.3L142.5 98.5M148.7 99.3L150.8 98.5M45.8 105.4L46.6 105.5M50.9 105.4L51.8 105.5M58.7 105.4L60.4 105.5M63.8 105.4L66.0 105.3M71.5 105.4L74.7 104.8M76.6 105.4L80.1 104.2M84.4 105.4L87.4 103.8M89.5 105.4L91.8 103.9M97.2 105.4L98.6 104.3M102.3 105.4L103.5 104.4M110.1 105.4L111.2 104.5M115.2 105.4L115.6 105.1M122.9 105.4L123.2 105.2M128.0 105.4L129.0 104.8M135.8 105.4L137.3 104.7M140.9 105.4L142.5 104.7M148.7 105.4L150.5 104.8M45.8 113.6L46.3 113.6M50.9 113.6L51.5 113.6M58.7 113.6L59.7 113.6M63.8 113.6L64.9 113.5M71.5 113.6L72.9 113.3M76.6 113.6L78.3 113.1M84.4 113.6L86.0 112.9M89.5 113.6L90.7 113.0M97.2 113.6L98.2 113.0M102.3 113.6L103.2 113.0M110.1 113.6L110.8 113.2M115.2 113.6L115.6 113.3M122.9 113.6L123.1 113.5M128.0 113.6L128.3 113.5M135.8 113.6L136.9 113.1M140.9 113.6L142.3 113.1M148.7 113.6L150.2 113.1" stroke="#333" stroke-width="0.33" stroke-opacity="0.78" fill="none"/><path d="M46.1 6.5L48.7 5.1L49.0 6.5ZM52.4 6.7L55.2 5.3L55.5 6.7ZM56.5 6.7L59.3 5.4L59.6 6.9ZM62.9 6.7L65.8 5.5L66.0 6.9ZM67.7 6.6L70.5 5.5L70.7 6.9ZM75.3 6.9L78.1 5.7L78.4 7.1ZM80.4 7.1L83.2 5.8L83.5 7.2ZM88.3 7.4L91.0 6.0L91.4 7.4ZM93.1 7.8L95.8 6.3L96.2 7.7ZM100.0 8.7L102.6 7.0L103.1 8.4ZM105.2 9.2L107.7 7.4L108.2 8.8ZM112.9 9.8L115.4 7.9L116.0 9.2ZM118.1 10.0L120.5 8.1L121.1 9.4ZM126.0 10.2L128.3 8.2L129.0 9.5ZM131.2 10.4L133.5 8.4L134.1 9.6ZM139.0 10.6L141.3 8.6L142.0 9.8ZM53.4 14.9L56.1 13.4L56.5 14.8ZM56.8 15.2L59.6 13.8L59.9 15.2ZM61.7 15.3L64.5 14.0L64.8 15.5ZM66.0 15.2L68.9 14.0L69.1 15.4ZM73.5 15.2L76.4 14.0L76.6 15.5ZM78.7 15.3L81.5 14.1L81.8 15.5ZM86.4 15.5L89.3 14.2L89.5 15.6ZM91.6 15.7L94.4 14.4L94.7 15.8ZM99.5 16.3L102.2 14.8L102.5 16.2ZM104.7 16.7L107.3 15.2L107.8 16.5ZM112.7 17.4L115.2 15.6L115.7 17.0ZM117.8 17.6L120.4 15.8L120.9 17.1ZM125.7 18.0L128.2 16.1L128.8 17.4ZM131.0 18.2L133.4 16.3L134.0 17.6ZM139.8 18.1L142.2 16.0L142.8 17.3ZM54.9 20.8L57.0 19.4L57.4 20.8ZM58.5 21.1L61.2 19.6L61.6 21.0ZM62.5 21.4L65.3 20.1L65.6 21.5ZM65.8 21.4L68.7 20.2L68.9 21.6ZM73.5 21.1L76.4 20.0L76.6 21.4ZM78.6 21.0L81.5 19.9L81.7 21.3ZM86.3 21.0L89.2 19.9L89.4 21.4ZM91.5 21.2L94.3 20.0L94.5 21.5ZM99.3 21.7L102.1 20.4L102.4 21.8ZM104.5 22.2L107.3 20.8L107.6 22.2ZM112.4 22.9L115.1 21.3L115.5 22.7ZM117.8 23.1L120.4 21.5L120.8 22.8ZM126.6 23.2L129.1 21.4L129.7 22.8ZM132.3 23.3L134.8 21.4L135.4 22.8ZM141.8 22.9L144.2 21.0L144.8 22.3ZM55.8 29.0L57.4 27.5L57.9 28.9ZM60.7 28.9L62.4 27.5L62.9 28.9ZM63.6 29.7L66.4 28.3L66.7 29.7ZM66.3 29.6L69.2 28.3L69.4 29.8ZM73.5 28.9L76.4 27.9L76.5 29.3ZM78.5 28.6L81.5 27.6L81.6 29.1ZM86.3 28.3L89.2 27.4L89.3 28.9ZM91.4 28.3L94.3 27.5L94.4 28.9ZM99.1 28.7L102.1 27.8L102.2 29.2ZM104.3 29.2L107.2 28.1L107.4 29.5ZM112.2 30.0L115.0 28.7L115.3 30.1ZM118.9 30.1L121.6 28.7L122.0 30.0ZM129.8 29.7L132.5 28.1L132.9 29.5ZM136.5 29.4L138.8 27.8L139.3 29.1ZM145.4 29.2L147.1 27.7L147.7 29.0ZM54.5 36.0L56.6 34.1L57.2 35.4ZM58.5 36.1L61.0 34.3L61.5 35.6ZM62.8 36.2L65.5 34.7L65.9 36.1ZM65.8 35.8L68.6 34.6L68.9 36.0ZM73.4 34.6L76.4 33.7L76.5 35.1ZM78.5 34.0L81.5 33.3L81.5 34.7ZM86.3 33.5L89.3 32.9L89.2 34.3ZM91.4 33.4L94.4 32.8L94.3 34.2ZM99.1 33.7L102.1 33.0L102.1 34.5ZM104.2 34.2L107.2 33.4L107.2 34.8ZM112.6 35.0L115.5 34.0L115.7 35.4ZM119.2 35.3L122.1 34.1L122.3 35.5ZM130.6 35.2L133.3 33.8L133.7 35.2ZM137.5 34.9L139.4 33.6L139.8 35.0ZM145.7 35.0L147.3 33.6L147.9 35.0ZM61.0 45.3L63.7 43.8L64.1 45.1ZM65.8 43.9L68.6 42.7L68.9 44.1ZM73.4 42.0L76.4 41.3L76.4 42.7ZM78.6 40.9L81.6 40.5L81.5 42.0ZM86.5 39.9L89.6 39.8L89.3 41.2ZM91.6 39.6L94.7 39.6L94.4 41.0ZM99.4 39.7L102.4 39.7L102.1 41.1ZM104.5 40.1L107.6 40.0L107.4 41.4ZM113.0 41.0L116.1 40.6L115.9 42.1ZM119.0 41.6L122.1 41.1L122.0 42.5ZM128.9 42.4L131.9 41.5L132.0 43.0ZM135.1 42.7L138.0 41.7L138.1 43.1ZM142.8 43.1L145.6 41.9L145.9 43.3ZM61.2 51.8L63.8 50.2L64.2 51.5ZM65.8 49.9L68.6 48.7L68.9 50.2ZM73.4 47.2L76.5 46.8L76.4 48.2ZM78.8 45.8L81.8 45.8L81.5 47.2ZM86.9 44.5L89.9 44.9L89.5 46.2ZM92.1 44.2L95.2 44.6L94.6 45.9ZM100.4 44.4L103.4 44.8L102.9 46.1ZM105.4 44.7L108.5 45.0L108.0 46.4ZM113.2 45.5L116.3 45.6L115.9 47.0ZM118.8 46.2L121.9 46.2L121.6 47.6ZM127.0 47.2L130.1 46.8L129.9 48.2ZM132.2 47.7L135.2 47.2L135.1 48.6ZM139.9 48.5L142.8 47.7L142.9 49.1ZM56.1 63.9L57.8 61.3L58.8 62.3ZM61.5 60.8L64.0 58.9L64.6 60.2ZM65.7 57.7L68.7 56.5L68.9 58.1ZM73.8 53.5L77.0 53.6L76.6 55.1ZM79.5 51.8L82.6 52.4L82.0 53.8ZM88.0 50.5L90.9 51.5L90.1 52.7ZM93.3 50.2L96.2 51.3L95.4 52.5ZM101.0 50.2L103.9 51.3L103.1 52.5ZM105.9 50.5L108.8 51.5L108.0 52.7ZM113.3 51.3L116.2 52.1L115.6 53.3ZM118.6 52.2L121.6 52.7L121.0 54.0ZM126.0 53.2L129.1 53.4L128.6 54.8ZM130.8 53.8L133.9 53.8L133.5 55.2ZM138.5 54.7L141.5 54.5L141.3 55.9ZM63.2 67.3L65.6 64.8L66.5 66.4ZM67.0 62.8L70.5 61.8L70.5 63.7ZM74.9 57.3L78.4 58.2L77.5 59.8ZM80.9 55.7L84.0 57.1L82.9 58.4ZM89.4 54.8L92.2 56.4L91.1 57.5ZM94.6 54.7L97.3 56.3L96.2 57.4ZM102.0 55.0L104.7 56.5L103.7 57.6ZM106.8 55.4L109.5 56.8L108.6 57.9ZM113.8 56.4L116.7 57.4L115.9 58.6ZM118.9 57.3L121.8 58.2L121.1 59.4ZM126.3 58.6L129.3 59.0L128.8 60.4ZM131.0 59.2L134.1 59.5L133.7 60.9ZM138.3 60.2L141.4 60.1L141.0 61.5ZM69.0 77.8L69.3 74.7L70.7 75.2ZM70.7 66.3L73.5 67.5L72.7 68.7ZM80.1 62.1L82.5 64.8L80.8 65.7ZM85.0 60.7L87.3 63.5L85.5 64.3ZM92.6 60.7L94.7 63.3L93.2 64.0ZM97.3 60.9L99.4 63.3L98.0 64.0ZM104.1 61.5L106.3 63.6L105.1 64.4ZM108.5 62.3L110.9 64.2L109.8 65.1ZM115.5 64.1L118.2 65.5L117.2 66.6ZM120.4 65.2L123.3 66.3L122.4 67.5ZM127.7 66.5L130.7 67.2L130.0 68.5ZM132.3 67.1L135.4 67.6L134.8 68.9ZM138.9 67.8L142.0 68.0L141.6 69.4ZM70.0 84.5L67.3 82.5L68.6 81.5ZM79.2 79.3L75.9 79.1L76.4 77.5ZM82.4 71.3L80.6 74.1L79.5 72.9ZM85.9 67.1L86.3 70.7L84.4 70.4ZM90.2 65.8L90.9 69.4L89.0 69.3ZM97.7 65.8L98.4 69.0L96.8 68.9ZM103.2 65.8L103.7 69.0L102.2 68.9ZM112.1 66.0L112.3 69.1L110.9 68.8ZM117.9 67.6L117.8 70.7L116.4 70.3ZM127.1 69.0L126.3 72.0L125.1 71.3ZM132.9 70.2L131.7 73.0L130.5 72.2ZM141.6 71.5L139.9 74.0L138.9 73.0ZM147.3 72.2L145.3 74.5L144.5 73.3ZM155.9 73.0L153.6 75.0L152.9 73.8ZM68.0 90.9L65.0 89.9L65.8 88.6ZM73.9 89.3L70.8 88.8L71.4 87.4ZM81.8 84.5L78.6 85.5L78.5 83.8ZM85.9 80.6L83.3 82.9L82.5 81.2ZM91.2 76.3L89.8 79.5L88.4 78.4ZM94.7 75.3L93.9 78.5L92.4 77.8ZM101.2 74.8L100.8 77.9L99.4 77.4ZM106.2 74.7L105.9 77.8L104.5 77.3ZM113.5 77.2L113.0 80.3L111.6 79.7ZM118.5 78.7L117.8 81.7L116.5 81.0ZM126.9 79.7L125.7 82.5L124.5 81.7ZM132.3 80.4L130.8 83.1L129.7 82.1ZM141.0 80.9L139.1 83.4L138.2 82.2ZM146.7 81.3L144.6 83.5L143.8 82.3ZM154.7 82.1L152.3 84.1L151.7 82.8ZM67.7 94.4L64.6 94.0L65.1 92.7ZM74.6 93.3L71.5 93.4L71.8 92.0ZM82.5 89.7L79.5 90.9L79.3 89.3ZM86.9 87.0L84.3 88.9L83.7 87.4ZM92.7 83.9L90.9 86.5L89.8 85.3ZM96.6 82.7L95.2 85.6L94.0 84.6ZM103.2 81.8L102.2 84.8L100.9 84.0ZM108.0 81.8L107.0 84.7L105.8 84.0ZM113.3 86.0L112.3 88.9L111.1 88.2ZM118.3 86.8L117.1 89.6L116.0 88.8ZM126.3 87.5L124.9 90.0L123.8 89.1ZM131.7 87.7L130.1 90.2L129.1 89.1ZM140.5 87.8L138.5 90.1L137.6 88.9ZM146.3 88.0L144.0 90.1L143.3 88.9ZM154.4 88.6L151.9 90.5L151.4 89.1ZM54.2 100.2L52.0 100.3L52.3 98.9ZM63.7 100.1L60.7 100.3L61.0 98.9ZM70.4 99.6L67.3 100.2L67.4 98.7ZM81.4 97.5L78.6 98.7L78.4 97.3ZM87.0 95.6L84.4 97.3L84.0 95.9ZM93.7 93.4L91.5 95.6L90.8 94.4ZM97.2 93.1L95.3 95.5L94.4 94.4ZM101.7 94.7L100.1 97.4L99.1 96.4ZM105.9 95.4L104.4 98.1L103.4 97.1ZM113.1 96.1L111.8 98.5L110.8 97.5ZM117.6 96.9L116.6 98.9L115.6 97.9ZM125.4 97.2L124.3 99.1L123.4 98.0ZM131.4 96.9L129.8 98.9L129.0 97.7ZM139.5 97.1L137.7 99.0L137.0 97.8ZM144.8 97.4L142.8 99.1L142.2 97.9ZM153.5 97.4L151.0 99.2L150.5 97.8ZM48.2 105.9L46.4 106.2L46.7 104.8ZM53.6 105.8L51.7 106.2L51.9 104.8ZM62.8 105.6L60.3 106.2L60.4 104.8ZM68.8 105.2L66.0 106.0L65.9 104.6ZM77.6 104.2L74.8 105.5L74.5 104.1ZM83.0 103.3L80.3 104.9L79.9 103.6ZM90.1 102.3L87.8 104.4L87.1 103.1ZM94.3 102.2L92.2 104.5L91.4 103.3ZM100.5 102.7L99.0 104.9L98.1 103.7ZM105.2 102.9L103.9 105.0L103.0 103.9ZM112.9 103.0L111.6 105.0L110.7 103.9ZM116.8 104.1L116.1 105.6L115.2 104.5ZM124.4 104.4L123.6 105.8L122.8 104.6ZM130.8 103.7L129.4 105.4L128.7 104.2ZM139.4 103.6L137.6 105.3L136.9 104.0ZM144.7 103.7L142.8 105.4L142.2 104.1ZM153.0 103.9L150.7 105.4L150.2 104.1ZM47.8 113.7L46.3 114.3L46.4 112.9ZM53.0 113.7L51.5 114.3L51.5 112.9ZM61.6 113.5L59.7 114.3L59.7 112.8ZM66.9 113.3L65.0 114.2L64.8 112.8ZM75.1 112.8L73.1 114.0L72.7 112.6ZM80.8 112.3L78.6 113.7L78.1 112.4ZM88.2 111.8L86.3 113.5L85.7 112.2ZM92.6 111.9L91.0 113.6L90.3 112.3ZM99.9 111.9L98.6 113.6L97.8 112.4ZM104.8 112.0L103.6 113.6L102.8 112.4ZM112.2 112.2L111.2 113.8L110.4 112.6ZM116.9 112.6L116.0 114.0L115.3 112.7ZM124.3 112.9L123.5 114.1L122.8 112.9ZM129.4 112.9L128.6 114.2L127.9 112.9ZM138.8 112.4L137.2 113.8L136.6 112.5ZM144.4 112.3L142.5 113.8L142.0 112.4ZM152.6 112.4L150.5 113.8L150.0 112.4Z" fill="#222" fill-opacity="0.8"/><path d="M7.3 6.3L6.5 8.5M12.4 6.3L11.6 8.5M20.1 6.3L19.4 8.5M25.2 6.3L24.5 8.5M33.0 6.3L32.2 8.5M38.1 6.3L37.3 8.5M45.8 6.3L45.1 8.5M7.3 14.5L6.5 16.7M12.4 14.5L11.6 16.7M20.1 14.5L19.4 16.7M25.2 14.5L24.5 16.7M33.0 14.5L32.2 16.7M38.1 14.5L37.3 16.7M45.8 14.5L45.1 16.7M50.9 14.5L50.2 16.7M7.3 20.6L6.5 22.8M12.4 20.6L11.6 22.8M20.1 20.6L19.4 22.8M25.2 20.6L24.5 22.8M33.0 20.6L32.2 22.8M38.1 20.6L37.3 22.8M45.8 20.6L45.0 22.8M50.9 20.6L50.1 22.8M7.3 28.8L6.5 31.0M12.4 28.8L11.6 31.0M20.1 28.8L19.4 31.0M25.2 28.8L24.5 31.0M33.0 28.8L32.2 31.0M38.1 28.8L37.3 31.1M45.8 28.8L45.0 31.1M50.9 28.8L50.0 31.2M7.3 34.9L6.5 37.1M12.4 34.9L11.6 37.1M20.1 34.9L19.4 37.1M25.2 34.9L24.5 37.1M33.0 34.9L32.2 37.2M38.1 34.9L37.2 37.2M45.8 34.9L44.9 37.3M50.9 34.9L49.9 37.4M7.3 43.1L6.5 45.3M12.4 43.1L11.6 45.3M20.1 43.1L19.4 45.3M25.2 43.1L24.4 45.4M33.0 43.1L32.1 45.4M38.1 43.1L37.1 45.5M45.8 43.1L44.7 45.7M50.9 43.1L49.6 45.9M58.7 43.1L57.0 46.1M63.8 43.1L61.9 46.1M7.3 49.2L6.5 51.4M12.4 49.2L11.6 51.4M20.1 49.2L19.3 51.4M25.2 49.2L24.4 51.5M33.0 49.2L32.1 51.6M38.1 49.2L37.1 51.8M45.8 49.2L44.6 52.1M50.9 49.2L49.4 52.3M58.7 49.2L56.7 52.5M63.8 49.2L62.0 51.6M7.3 57.4L6.5 59.6M12.4 57.4L11.6 59.6M20.1 57.4L19.3 59.7M25.2 57.4L24.4 59.7M33.0 57.4L32.0 60.0M38.1 57.4L37.0 60.2M45.8 57.4L44.5 60.7M50.9 57.4L49.4 61.0M58.7 57.4L57.0 60.4M7.3 63.5L6.5 65.7M12.4 63.5L11.6 65.7M20.1 63.5L19.3 65.8M25.2 63.5L24.4 65.9M33.0 63.5L32.0 66.2M38.1 63.5L37.0 66.4M45.8 63.5L44.6 67.1M50.9 63.5L50.0 66.5M58.7 63.5L57.3 67.2M63.8 63.5L61.7 67.3M7.3 71.7L7.5 74.0M12.4 71.7L12.6 74.0M20.1 71.7L20.3 74.1M25.2 71.7L25.4 74.3M33.0 71.7L33.1 74.6M38.1 71.7L38.2 74.9M45.8 71.7L46.1 75.6M50.9 71.7L51.2 75.1M58.7 71.7L59.1 75.9M63.8 71.7L64.1 76.4M7.3 77.8L7.5 80.1M12.4 77.8L12.7 80.1M20.1 77.8L20.5 80.2M25.2 77.8L25.7 80.3M33.0 77.8L33.6 80.6M38.1 77.8L38.9 80.9M45.8 77.8L47.0 81.5M50.9 77.8L52.1 80.9M58.7 77.8L60.6 81.5M7.3 86.0L7.5 88.3M12.4 86.0L12.7 88.3M20.1 86.0L20.5 88.4M25.2 86.0L25.6 88.5M33.0 86.0L33.6 88.7M38.1 86.0L38.9 89.0M45.8 86.0L47.2 89.4M50.9 86.0L52.3 88.7M7.3 92.1L7.5 94.4M12.4 92.1L12.7 94.4M20.1 92.1L20.4 94.5M25.2 92.1L25.6 94.6M33.0 92.1L33.5 94.8M38.1 92.1L38.8 95.0M45.8 92.1L47.0 95.3M50.9 92.1L52.6 95.5M7.3 100.3L7.5 102.6M12.4 100.3L12.6 102.6M20.1 100.3L20.4 102.7M25.2 100.3L25.6 102.7M33.0 100.3L33.4 102.8M38.1 100.3L38.6 103.0M45.8 100.3L46.7 103.2M7.3 106.4L7.5 108.7M12.4 106.4L12.6 108.7M20.1 106.4L20.4 108.7M25.2 106.4L25.5 108.8M33.0 106.4L33.4 108.9M38.1 106.4L38.5 108.9M7.3 114.6L7.5 116.9M12.4 114.6L12.6 116.9M20.1 114.6L20.4 116.9M25.2 114.6L25.5 116.9M33.0 114.6L33.3 117.0M38.1 114.6L38.4 117.0" stroke="#444" stroke-width="0.32" stroke-opacity="0.7" fill="none"/><path d="M5.9 10.3L6.0 8.3L7.1 8.7ZM11.0 10.3L11.1 8.3L12.2 8.7ZM18.8 10.3L18.9 8.3L19.9 8.7ZM23.9 10.3L24.0 8.3L25.0 8.7ZM31.6 10.3L31.7 8.3L32.8 8.7ZM36.7 10.3L36.8 8.3L37.9 8.7ZM44.5 10.3L44.6 8.3L45.6 8.7ZM5.9 18.5L6.0 16.5L7.1 16.9ZM11.0 18.5L11.1 16.5L12.2 16.9ZM18.8 18.5L18.9 16.5L19.9 16.9ZM23.9 18.5L24.0 16.5L25.0 16.9ZM31.6 18.5L31.7 16.5L32.7 16.9ZM36.7 18.5L36.8 16.5L37.8 16.9ZM44.4 18.5L44.5 16.5L45.6 16.9ZM49.5 18.5L49.6 16.5L50.7 16.9ZM5.9 24.6L6.0 22.6L7.1 23.0ZM11.0 24.6L11.1 22.6L12.2 23.0ZM18.8 24.6L18.9 22.6L19.9 23.0ZM23.8 24.6L24.0 22.6L25.0 23.0ZM31.6 24.6L31.7 22.6L32.7 23.0ZM36.7 24.6L36.8 22.6L37.8 23.0ZM44.4 24.6L44.5 22.6L45.6 23.0ZM49.5 24.6L49.6 22.7L50.6 23.0ZM5.9 32.8L6.0 30.8L7.1 31.2ZM11.0 32.8L11.1 30.8L12.2 31.2ZM18.7 32.8L18.9 30.8L19.9 31.2ZM23.8 32.8L24.0 30.8L25.0 31.2ZM31.5 32.8L31.7 30.8L32.7 31.2ZM36.6 32.8L36.8 30.9L37.8 31.2ZM44.3 32.9L44.4 30.9L45.5 31.3ZM49.3 32.9L49.5 31.0L50.5 31.4ZM5.9 38.9L6.0 36.9L7.1 37.3ZM11.0 38.9L11.1 36.9L12.2 37.3ZM18.7 38.9L18.9 36.9L19.9 37.3ZM23.8 38.9L23.9 36.9L25.0 37.3ZM31.5 38.9L31.6 37.0L32.7 37.4ZM36.5 39.0L36.7 37.0L37.7 37.4ZM44.2 39.1L44.4 37.1L45.4 37.5ZM49.1 39.1L49.4 37.2L50.4 37.6ZM5.9 47.1L6.0 45.1L7.1 45.5ZM11.0 47.1L11.1 45.1L12.1 45.5ZM18.7 47.1L18.8 45.1L19.9 45.5ZM23.8 47.1L23.9 45.2L24.9 45.5ZM31.4 47.2L31.6 45.3L32.6 45.6ZM36.4 47.3L36.6 45.3L37.6 45.7ZM43.9 47.5L44.2 45.5L45.2 46.0ZM48.8 47.6L49.1 45.6L50.1 46.1ZM56.1 47.7L56.6 45.8L57.5 46.3ZM60.9 47.7L61.4 45.8L62.4 46.4ZM5.9 53.2L6.0 51.2L7.0 51.6ZM11.0 53.2L11.1 51.2L12.1 51.6ZM18.7 53.2L18.8 51.2L19.9 51.6ZM23.7 53.3L23.9 51.3L24.9 51.7ZM31.4 53.4L31.5 51.4L32.6 51.8ZM36.3 53.5L36.5 51.6L37.6 52.0ZM43.8 53.8L44.1 51.8L45.1 52.3ZM48.6 54.0L49.0 52.0L49.9 52.5ZM55.7 54.1L56.2 52.2L57.2 52.8ZM60.2 54.1L61.4 51.2L62.6 52.1ZM5.9 61.4L6.0 59.4L7.0 59.8ZM11.0 61.4L11.1 59.4L12.1 59.8ZM18.7 61.5L18.8 59.5L19.8 59.9ZM23.7 61.5L23.9 59.6L24.9 59.9ZM31.3 61.7L31.5 59.8L32.5 60.2ZM36.3 62.0L36.5 60.0L37.5 60.4ZM43.8 62.4L44.0 60.4L45.0 60.9ZM48.6 62.7L48.9 60.8L49.9 61.2ZM55.5 63.1L56.4 60.1L57.6 60.8ZM5.9 67.5L6.0 65.5L7.0 65.9ZM11.0 67.5L11.1 65.5L12.1 65.9ZM18.7 67.6L18.8 65.6L19.8 66.0ZM23.7 67.7L23.9 65.7L24.9 66.1ZM31.4 67.9L31.5 66.0L32.5 66.4ZM36.4 68.2L36.5 66.3L37.6 66.6ZM44.0 68.9L44.1 66.9L45.2 67.2ZM49.0 69.3L49.3 66.3L50.6 66.7ZM56.2 69.9L56.6 66.9L57.9 67.4ZM60.3 69.9L61.1 67.0L62.3 67.7ZM7.7 75.9L7.0 74.1L8.1 74.0ZM12.8 75.9L12.1 74.1L13.1 74.0ZM20.4 76.0L19.8 74.2L20.9 74.1ZM25.5 76.2L24.8 74.3L25.9 74.2ZM33.2 76.5L32.6 74.6L33.7 74.6ZM38.3 76.8L37.7 74.9L38.8 74.9ZM46.2 77.5L45.5 75.6L46.6 75.6ZM51.4 78.1L50.5 75.1L51.9 75.0ZM59.4 78.9L58.4 76.0L59.8 75.9ZM64.3 79.4L63.4 76.5L64.8 76.4ZM7.7 82.0L7.0 80.2L8.1 80.1ZM12.9 82.0L12.1 80.2L13.2 80.1ZM20.7 82.1L19.9 80.3L21.0 80.2ZM25.9 82.2L25.1 80.4L26.2 80.3ZM34.0 82.5L33.0 80.7L34.1 80.5ZM39.3 82.8L38.3 81.1L39.4 80.8ZM47.6 83.3L46.5 81.7L47.6 81.3ZM53.2 83.7L51.4 81.2L52.8 80.7ZM61.9 84.2L59.9 81.9L61.2 81.2ZM7.7 90.2L7.0 88.4L8.1 88.3ZM12.9 90.2L12.1 88.4L13.2 88.3ZM20.7 90.3L19.9 88.5L21.0 88.3ZM25.9 90.4L25.1 88.6L26.2 88.4ZM33.9 90.6L33.0 88.9L34.1 88.6ZM39.4 90.8L38.3 89.1L39.4 88.8ZM47.8 91.2L46.6 89.6L47.7 89.2ZM53.7 91.4L51.7 89.0L53.0 88.4ZM7.7 96.3L7.0 94.5L8.1 94.3ZM12.9 96.3L12.1 94.5L13.2 94.4ZM20.7 96.4L19.9 94.6L21.0 94.4ZM25.9 96.4L25.1 94.6L26.1 94.5ZM33.9 96.6L33.0 94.9L34.1 94.7ZM39.3 96.8L38.3 95.1L39.3 94.8ZM47.7 97.1L46.5 95.5L47.5 95.1ZM53.5 97.2L52.1 95.7L53.1 95.3ZM7.7 104.5L7.0 102.7L8.1 102.5ZM12.8 104.5L12.1 102.7L13.2 102.6ZM20.6 104.5L19.9 102.7L21.0 102.6ZM25.8 104.6L25.0 102.8L26.1 102.6ZM33.7 104.7L32.9 102.9L34.0 102.7ZM39.0 104.8L38.1 103.1L39.2 102.9ZM47.3 105.0L46.2 103.4L47.2 103.1ZM7.7 110.6L7.0 108.8L8.1 108.6ZM12.8 110.6L12.1 108.8L13.2 108.6ZM20.6 110.6L19.9 108.8L21.0 108.7ZM25.8 110.7L25.0 108.8L26.1 108.7ZM33.6 110.7L32.8 108.9L33.9 108.8ZM38.9 110.8L38.0 109.0L39.1 108.9ZM7.7 118.8L7.0 116.9L8.1 116.8ZM12.8 118.8L12.1 117.0L13.2 116.8ZM20.6 118.8L19.8 117.0L20.9 116.9ZM25.7 118.8L25.0 117.0L26.1 116.9ZM33.5 118.9L32.7 117.0L33.8 116.9ZM38.7 118.9L37.9 117.1L39.0 116.9Z" fill="#333" fill-opacity="0.72"/></g><text x="3.4" y="11.5" class="pl">(b)</text><text x="18.3" y="58.9" class="cn">China</text></g><text x="185.9" y="59.9" class="ax" text-anchor="end">31°N</text><text x="185.9" y="118.3" class="ax" text-anchor="end">26°N</text><text x="196.7" y="133.5" class="ax" text-anchor="middle">116°E</text><text x="246.7" y="133.5" class="ax" text-anchor="middle">121°E</text><text x="296.7" y="133.5" class="ax" text-anchor="middle">126°E</text><g transform="translate(353.4,10.0)"><rect x="0" y="0" width="150.0" height="116.3" fill="#a9cfe4"/><g clip-path="url(#pc)"><path fill="#09386d" fill-rule="evenodd" d="M-1,-1 151,-1 151,118 -1,118Z"/><path fill="#124984" fill-rule="evenodd" d="M0,-1 151,-1 151,118 -1,118 -1,-1ZM115,95 112.8,97 112.2,100 112.8,102 113.7,103 116,103.9 118,103.1 119,102 119.7,99 119.3,97 118,95.3 117,94.8ZM94.9,116 95.5,117 97,117.3 98.6,117 99.1,116 97,115.1Z"/><path fill="#1c5c9f" fill-rule="evenodd" d="M0,-1 151,-1 151,118 100.5,118 101.6,117 101.7,116 100,114.6 97,113.9 94,114.5 92.4,116 92.5,117 93.6,118 40,118 39.6,116 39,115.5 36,114.1 33,113.7 21.7,116 20,117 20,118 0,118 0,117 -1,117 -1,-1ZM113.8,94 111.1,97 110.4,99 110.5,101 111.4,103 113,104.5 115,105.4 117,105.4 119.6,104 120.9,102 121.3,100 121,97 119.9,95 118,93.4 116,93.1Z"/><path fill="#266caf" fill-rule="evenodd" d="M0,-1 151,-1 151,118 110,118 110.1,117 108.3,116 105,115.3 100,113 97,112.6 93,113.2 86,116.6 80,117 80,118 70,118 70,117 66,116.8 63,115.7 60,110 58,108.6 56,108.1 53.5,109 53.2,110 53.5,112 55.6,115 60,117 60,118 50,118 49.7,111 51.4,108 51.8,105 50.6,101 48,98.5 46,98.1 39,100.2 34,100.9 15,99.8 -1,100 -1,-1ZM59.4,27 59,29 60,30.4 62,30.8 62.9,30 63.1,28 62,26.6 61,26.3ZM114.2,92 111.5,94 108.8,97 107.7,99 107.4,101 108.2,103 111,105.5 114,107.2 117,107.5 120,106.3 122.4,104 123.6,101 123.4,98 122.2,95 119.6,92 117,91.2Z"/><path fill="#327cb7" fill-rule="evenodd" d="M0,-1 151,-1 151,30 150,30 149.4,31 150,31.7 151,31.7 151,100 143,99.6 139,100.2 134,102 132,101.6 128,97.8 122,89.4 120,88.1 118,88 115,89.2 108,94.1 103,96.7 100,100 99.1,102 99.2,104 101,105.7 106.5,109 106,109.5 82,109.9 74,111.1 72,111 70,110 69.1,108 70,106 73.1,104 73.3,103 72,101.2 70,100 68,99.6 63,100.6 60,100 58,98.3 54.6,93 48,88.7 46.3,87 44.4,84 42,82.6 38,81.5 33,81.1 14,82.2 -1,81.9 -1,38.5 33,38.9 43,38.1 50,36 52,34.1 62,32.7 63.9,31 64.5,29 64,26.7 61.2,23 59.2,18 58,16.1 56,14.6 53,13.3 50,10 48,8.7 46,8.4 39,10.2 34,10.8 15,9.9 -1,10 -1,-1ZM44,17.8 46,17.1 48,17.3 49,17.9 49.7,19 50.2,22 50.2,28 49.7,31 49,31.8 47,31.8 41,30.2 35,29.4 15,30.1 -1,30 -1,20 15,19.6 23,20.4 31,22 34,22.1 38,21ZM134,110 151,110 151,117 150,117 150,118 140,118 140,117 138.8,116 136.5,115 134,113.1 133,113.1 131,115.1 130.3,116 130,118 120,118 119.8,116 118.1,114 117.9,113 119,112 125,110.3Z"/><path fill="#3c8abe" fill-rule="evenodd" d="M21,-1 40,-1 40,0 20,0 20,-1ZM51,-1 151,-1 151,25.4 147,26.2 142,28.4 139.3,31 138.9,33 140,35 143,36.8 146,37.3 151,36.7 151,70 145,69.3 140,70 137.6,71 134.9,73 134.2,74 133.8,76 134,78 135.2,79 137,79.6 143,80.2 151,80 151,90 143,89.5 134,91.7 132,91.5 130,90 129,88 129,86 130.5,82 130.6,81 130,80 126,79 123,79 120,80 117,81.8 112.7,87 109,90 100,93.6 91,99.7 87,100.7 83,100.8 77,99.6 68,95.6 64,93.3 50.3,83 46.1,81 43,80.1 34,79.1 15,79.6 -1,79.5 -1,40.6 34,40.8 46,40.1 57,37.8 61,35.8 64.1,33 65.2,31 65.5,28 63.5,22 61.6,13 59.3,9 54.6,3 52.2,1 50,0 50,-1ZM71.1,66 72,67.1 72.9,66 72,65.4Z"/><path fill="#4f9bc7" fill-rule="evenodd" d="M60,-1 151,-1 151,22.7 144,24.4 137.5,27 134.8,29 133.6,32 133.9,34 135.9,37 140,40 145,40.9 151,40 151,66 145,65.6 141,65.9 137,66.7 133,68.3 125,73.5 116,78.5 112.8,81 108,86.3 101,89.7 93,95.8 89,97.7 84,98.8 77,98.3 70,95.4 64,91.3 56,82.9 52,80.8 46.7,79 41.1,78 35,77.6 -1,77.9 -1,42.1 34,42.2 46,41.7 58,39.7 61,38.5 64,36 65.8,33 66.6,29 65.2,21 65,10 64,6 60,0ZM71.5,65 70.6,66 70.9,67 72,67.5 73,67.1 73.3,66 73,65.3Z"/><path fill="#6bacd1" fill-rule="evenodd" d="M70,-1 80,-1 80,0 86,0.7 90,0 90,-1 151,-1 151,20 142,22.4 133.2,26 130.9,28 130,30 129.8,32 130.6,35 132,37.4 134.3,40 137,42 140,43.2 143,43.8 146,43.8 151,42.9 151,63.3 145,62.9 140,63.3 134,64.9 129,66.9 111.2,79 94,93.8 89,96.5 84,97.7 80,97.8 77,97.3 70,94.4 64,89.9 56,80.4 49.8,78 44,77 36,76.4 -1,76.6 -1,43.2 44,43.1 55,42 59,41.2 61,40.2 65.6,36 67.8,32 68,28 67.2,21 67.5,17 71.9,4 71.7,2 70,0ZM70.7,65 70.3,66 70.4,67 72,67.9 73,67.6 73.7,66 73.2,65 72,64.5Z"/><path fill="#84bcd9" fill-rule="evenodd" d="M100,-1 151,-1 151,17.1 147,17.8 141,19.6 130,24.5 127.5,27 126.8,31 127.3,35 129,38.7 131,41 135,43.9 139,45.6 143,46.4 151,45.7 151,60 145,59.4 141,59.8 136,61.2 126,65.3 123,67.3 116.5,73 107.8,79 100.5,87 94,92.7 89,95.5 84,96.8 80,96.9 77,96.4 73,95 69,92.9 63.3,88 56,78.6 53,77.1 46.8,76 38,75.4 -1,75.4 -1,44.2 42,44.2 52,43.6 59,42.5 64.1,39 69.3,33 70,31 70,20 71,17.1 72,15.7 79,10.5 82,9.3 85,9.2 96,11.3 99,10.8 100.7,9 101.3,7 101.2,4ZM70.3,65 70,67 71,68.1 73,68 73.9,67 74,65.8 73,64.4 72,64.1Z"/><path fill="#9dcbe1" fill-rule="evenodd" d="M111,-1 151,-1 151,14 141,15.6 130,20 124,21 122.8,22 123.8,26 124.7,36 126.3,41 129.3,44 143.9,52 144,53 123,63.3 114.5,72 107,77.3 100.1,86 93,92.3 88,94.9 83,96 78,95.8 73,94.1 69,91.9 65.4,89 61.9,85 57,78 54,75.7 47,74.8 38,74.3 -1,74.4 -1,45.1 40,45.1 58,44 60,43.2 63,41.1 71,33 72.6,30 73.7,23 74.3,22 76,20.9 83,19.8 117,20.3 120,20 119.2,19 113,16.4 110.9,14 110,10 109.8,4 110,-1ZM59.7,55 63,55 61,54.5ZM70.9,64 69.8,65 69.6,67 71,68.5 73,68.4 74.3,67 74.1,65 73,64ZM149,50.6 151,50 151,54.8 150,54.8 146.2,53 146.3,52Z"/><path fill="#b1d5e7" fill-rule="evenodd" d="M120,-1 151,-1 151,10 132,9.9 124,10.9 121,10.5 118.8,9 117.7,6 118,3.5 120,0ZM80,24.9 83,24.5 90,25 97,24.5 101,24.7 104.9,26 111,30.5 112,30.4 116,27.9 118,28 120,30 120.6,32 120.6,35 119.1,46 120,50 122,54 122.2,55 121.6,57 114.3,69 107,75.2 99.8,85 95.9,89 92,92 87.9,94 83,95.1 78,94.9 73,93.3 69,91 65.5,88 62.1,84 57,76.4 54,74.2 38,73.1 -1,73.2 -1,46 40,46 58,45.1 62,43.1 68.9,37 73.8,32 77,26.7ZM109.5,36 108.9,38 110,40 112,40.8 113,40.6 113.6,39 112.7,36 111,35ZM58.5,54 57.7,55 60,56 63,55.8 64.9,55 64.1,54 63,53.7ZM70.1,64 69,66 69.6,68 72,69 74,68.1 74.8,66 74,64.3 72,63.4ZM125,49.7 127,49 130,50 131,51 131.3,52 131,53 128,54.6 126,54.7 125,54.3 124.1,53 124,52Z"/><path fill="#c7e0ed" fill-rule="evenodd" d="M130,-1 140,-1 140,0 133,0.7 130,0ZM150,-1 151,-1 151,0 150,0ZM82,28.8 84,28.7 90,30 97,29.3 100,30 101.5,32 101.4,34 99.9,37 99.9,38 101,40.6 105,46 112,52.1 114,55 115,58 114.4,63 111.8,68 106,74.2 98.6,85 94.5,89 90,92.1 85,93.9 81,94.3 77,93.8 72,91.8 69,89.9 65.7,87 62.4,83 57.4,75 56,73.6 54,72.5 38,71.8 -1,71.8 -1,47.1 41,47.1 58,46.3 62,44.3 78,30.8ZM60.9,53 56.8,54 56.1,55 57.2,56 62,56.5 64.7,56 66.3,55 65.8,54 65,53.6ZM69.4,64 68.7,65 68.5,67 70,69 72,69.5 74.6,68 75.1,66 74,63.8 72,63Z"/><path fill="#d7e8f1" fill-rule="evenodd" d="M80,32.9 83,32.3 86,32.9 91,34.9 94,37 97,40.2 101.3,46 108.7,57 110,60 110,63 109.1,66 100.3,81 95,87.2 89,91.4 84.1,93 80,93.2 75,92.1 71,90.1 68,87.9 65.1,85 62.9,82 57.7,73 56,71.1 54,70.2 -1,70 -1,48.3 44,48.3 58,47.7 62,45.8 73,36.8ZM56.9,53 55.1,54 54.5,55 56,56.6 58,57.1 64,56.8 66.5,56 67.7,55 67,53.8 64,52.7 60,52.3ZM69.7,63 67.9,65 67.6,66 68.1,68 69,69.1 71,69.9 74,69.1 75.5,67 75.4,65 74.8,64 72,62.6Z"/><path fill="#e4eef4" fill-rule="evenodd" d="M80,35.9 84,35.9 88,37.1 91.5,39 95,42 98.2,46 101.2,51 103.5,57 104.7,62 104.7,66 104.1,69 102,74.5 99,80.4 96.3,84 93.3,87 89,89.9 86,91.1 81,91.9 76,91.1 71.5,89 67,85.3 64,81.4 61,75.7 57.4,67 56.4,61 56,60 55,59.3 53,60 -1,60 -1,50 55,50 58,50.4 60,49.7 62,48.2 71,40 76,37.2ZM56.2,52 53,53.7 52,55 52,56.1 55,58.9 65,57.3 68,56.1 69,55 68.8,54 68,53.4 63,51.6 59,51ZM67.9,63 66.8,64 66.2,66 67,69.1 69,70.3 71,70.7 73,70.2 75,68.9 76,66 75.4,64 74.4,63 71,62ZM29,65 37,65 39.4,66 22.6,66Z"/><path fill="#f0f4f6" fill-rule="evenodd" d="M79,40.8 83,40.8 86,41.6 90,43.6 93,46.2 95.8,50 97.8,54 99,58 99.7,63 99.5,68 98.7,72 97.4,76 95,80.3 92,83.7 89,86 86,87.4 82,88.3 77,87.7 71.5,85 67,80.3 64.5,75 64.2,73 65,71.8 68,72.6 72,71.3 75,69.7 76.5,67 76,64 74,62.1 72,61.5 68,61.1 67,60.6 64,62 63.3,61 63.2,60 64,59 68,57.4 70,55 69.7,53 66.7,51 66.4,50 68,47.4 73,43 76,41.6Z"/><path fill="#f8f2ef" fill-rule="evenodd" d="M79,46.8 82,46.7 85,47.4 87.9,49 90,50.8 93.4,56 94.4,59 94.9,63 94.4,70 92.4,75 90.2,78 88,79.9 86,81.2 82,82.3 79,82.2 75,80.6 72,78 70.4,75 70.5,74 71.3,73 75,70.5 76.4,69 77.2,66 76,62.8 74,61.4 70.4,60 69.1,59 69.1,58 71.1,55 71.4,52 72,50.9 76,47.8Z"/><path fill="#fae9df" fill-rule="evenodd" d="M79,48.9 82,48.8 84,49.2 86,50 88.6,52 91.9,57 93.4,63 92.9,69 91.9,72 90.3,75 87,78.3 85,79.5 82,80.2 79,80.1 77,79.4 74.7,78 73,76 72.7,75 73.3,73 77.3,69 77.9,67 77.9,65 76.3,62 72.5,60 71.1,58 73.6,52 76,50Z"/><path fill="#fcdfcf" fill-rule="evenodd" d="M79,50.9 83,50.9 87,52.9 90.2,57 91.7,62 91.6,68 89.6,73 86,76.8 82,78.3 80,78.3 77,77.3 74.7,75 74.7,73 77.1,71 78.4,69 78.9,65 78.2,63 77,61.3 73,59 72.6,58 73.2,56 75,53.1 77,51.6Z"/><path fill="#fcd3bc" fill-rule="evenodd" d="M78,52.8 82,52.3 86,54 89,57.6 90.5,62 90.5,67 88.6,72 86,75 82,76.7 80,76.7 78,76 76.7,75 76.2,74 79.2,71 80.6,67 80.4,64 79.5,62 77,59.2 74.7,58 74.2,57 76,54.2Z"/><path fill="#b7b7b7" d="M-2.0 -2.0L41.9 -2.0L41.9 0.0L44.2 1.7L48.7 3.5L52.4 7.2L54.7 11.7L55.6 16.3L56.5 21.8L57.4 25.0L57.9 27.1L59.9 30.0L62.1 32.8L59.0 33.8L55.5 34.2L58.5 36.8L62.5 38.9L65.5 40.6L68.5 42.3L69.2 43.8L68.6 46.0L67.5 48.3L66.5 50.0L63.0 51.6L59.0 52.4L55.3 53.6L58.0 55.9L62.0 56.6L66.0 56.9L68.3 57.4L67.2 59.5L67.0 60.0L66.5 62.0L67.0 64.3L66.0 67.6L66.5 70.9L65.4 74.2L63.5 77.0L61.5 79.0L59.6 81.9L56.5 86.5L53.4 90.4L50.4 93.4L47.3 96.5L45.8 100.3L46.5 103.4L44.2 107.3L43.4 111.1L41.1 114.2L39.6 117.0L39.6 119.0L-2.0 119.0Z"/><path fill="#b7b7b7" d="M58.0 35.2L61.5 35.6L65.5 36.8L68.2 38.2L67.2 38.9L63.0 37.9L59.5 36.6Z"/><path fill="#ecd2bd" d="M60.0 117.5L62.5 115.6L65.8 112.8L68.5 114.4L70.5 117.5Z"/><path fill="#ecd2bd" d="M114.0 16.8L115.5 16.0L117.2 16.0L117.8 16.8L116.5 17.6L114.8 17.6Z"/><path fill="#ecd2bd" d="M128.3 102.5L129.8 99.0L131.8 95.8L132.3 96.3L130.5 100.0L128.8 103.0Z"/><path fill="#ecd2bd" d="M143.0 79.5L145.5 77.5L147.0 78.0L145.0 80.0Z"/><path fill="#ecd2bd" d="M138.0 25.0L139.5 23.0L141.0 22.5L140.5 24.5Z"/><path fill="#ecd2bd" d="M148.0 27.0L149.0 23.5L150.5 22.0L150.5 29.0Z"/><path fill="#ecd2bd" d="M144.5 15.0L145.8 13.8L146.5 15.0L145.3 16.0Z"/><path fill="#ecd2bd" d="M126.0 0.5L128.0 0.0L129.0 1.2L127.0 1.6Z"/><path fill="#ecd2bd" d="M132.0 0.3L134.0 0.2L134.5 1.4L132.5 1.5Z"/><path fill="none" stroke="#d8d8d8" stroke-width="0.45" d="M12.0 64.0L16.0 60.0L20.0 55.0L25.0 50.0L30.0 46.0L35.0 42.0L40.0 39.0L45.0 37.0L50.0 36.5L56.5 35.8"/><path fill="none" stroke="#d8d8d8" stroke-width="0.45" d="M35.0 20.0L38.0 24.0L41.0 27.0L44.0 30.0L47.0 33.0L50.0 36.0"/><ellipse cx="35.5" cy="20.3" rx="1.9" ry="2.4" fill="#ececec"/><ellipse cx="33.4" cy="17.6" rx="1.0" ry="0.8" fill="#ececec"/><ellipse cx="37.5" cy="18.0" rx="0.8" ry="0.7" fill="#ececec"/><ellipse cx="29.5" cy="22.0" rx="0.7" ry="0.6" fill="#ececec"/><ellipse cx="23.6" cy="19.3" rx="0.6" ry="0.6" fill="#ececec"/><ellipse cx="42.0" cy="24.0" rx="0.8" ry="0.9" fill="#ececec"/><ellipse cx="45.5" cy="27.5" rx="0.8" ry="1.0" fill="#ececec"/><ellipse cx="32.0" cy="10.3" rx="0.6" ry="0.6" fill="#ececec"/><ellipse cx="52.7" cy="43.5" rx="2.0" ry="2.4" fill="#ececec"/><ellipse cx="50.0" cy="46.5" rx="0.9" ry="0.8" fill="#ececec"/><ellipse cx="31.0" cy="45.5" rx="1.4" ry="1.0" fill="#ececec"/><ellipse cx="25.7" cy="43.0" rx="0.6" ry="0.6" fill="#ececec"/><ellipse cx="22.0" cy="3.5" rx="0.7" ry="0.7" fill="#ececec"/><ellipse cx="26.0" cy="51.0" rx="0.8" ry="0.7" fill="#ececec"/><ellipse cx="15.0" cy="55.0" rx="0.7" ry="0.6" fill="#ececec"/><ellipse cx="6.0" cy="57.5" rx="0.8" ry="0.7" fill="#ececec"/><ellipse cx="8.6" cy="60.5" rx="0.7" ry="0.7" fill="#ececec"/><ellipse cx="10.0" cy="63.0" rx="1.0" ry="1.0" fill="#ececec"/><ellipse cx="11.5" cy="66.5" rx="1.2" ry="1.3" fill="#ececec"/><ellipse cx="12.5" cy="70.0" rx="1.0" ry="1.0" fill="#ececec"/><ellipse cx="13.5" cy="73.0" rx="0.8" ry="0.8" fill="#ececec"/><ellipse cx="5.0" cy="68.0" rx="0.7" ry="0.9" fill="#ececec"/><ellipse cx="5.5" cy="72.0" rx="0.6" ry="0.7" fill="#ececec"/><ellipse cx="60.0" cy="55.0" rx="0.8" ry="0.9" fill="#ececec"/><ellipse cx="66.0" cy="62.5" rx="0.7" ry="0.8" fill="#ececec"/><path d="M50.9 5.3L49.1 5.8M58.7 5.3L56.1 5.9M63.8 5.3L60.5 6.0M71.5 5.3L67.2 6.0M76.6 5.3L71.9 5.9M84.4 5.3L79.5 6.0M89.5 5.3L84.7 6.1M97.2 5.3L92.3 6.2M102.3 5.3L97.0 6.5M110.1 5.3L103.9 7.1M115.2 5.3L108.4 7.6M122.9 5.3L115.6 8.2M128.0 5.3L120.7 8.4M135.8 5.3L128.6 8.7M140.9 5.3L133.7 8.9M148.7 5.3L141.6 9.1M58.7 13.5L56.8 14.1M63.8 13.5L61.0 14.2M71.5 13.5L66.6 14.4M76.6 13.5L71.2 14.3M84.4 13.5L78.7 14.2M89.5 13.5L83.9 14.1M97.2 13.5L91.8 14.2M102.3 13.5L96.7 14.3M110.1 13.5L103.8 14.7M115.2 13.5L108.5 15.1M122.9 13.5L116.0 15.7M128.0 13.5L121.2 15.9M135.8 13.5L129.2 16.2M140.9 13.5L134.5 16.3M148.7 13.5L142.6 16.5M58.7 19.6L57.2 20.1M63.8 19.6L61.2 20.4M71.5 19.6L65.8 20.7M76.6 19.6L70.3 20.5M84.4 19.6L77.9 20.2M89.5 19.6L83.1 20.0M97.2 19.6L90.8 19.9M102.3 19.6L95.9 20.0M110.1 19.6L103.7 20.3M115.2 19.6L108.8 20.7M122.9 19.6L116.7 21.2M128.0 19.6L121.8 21.4M135.8 19.6L130.3 21.6M140.9 19.6L136.0 21.6M148.7 19.6L144.6 21.5M58.7 27.8L57.7 28.3M63.8 27.8L62.4 28.3M71.5 27.8L65.5 29.1M76.6 27.8L69.0 28.8M84.4 27.8L76.4 28.0M89.5 27.8L81.5 27.6M97.2 27.8L89.3 27.3M102.3 27.8L94.4 27.3M110.1 27.8L102.7 27.6M115.2 27.8L107.7 28.0M122.9 27.8L116.3 28.6M128.0 27.8L123.0 28.7M135.8 27.8L132.6 28.6M140.9 27.8L138.5 28.5M148.7 27.8L146.9 28.5M58.7 33.9L57.1 34.8M63.8 33.9L61.4 34.9M71.5 33.9L64.3 35.6M76.6 33.9L68.7 34.8M84.4 33.9L76.4 33.6M89.5 33.9L81.6 33.0M97.2 33.9L89.4 32.4M102.3 33.9L94.5 32.3M110.1 33.9L102.7 32.6M115.2 33.9L107.5 32.9M122.9 33.9L116.0 33.6M128.0 33.9L123.0 34.0M135.8 33.9L133.0 34.2M140.9 33.9L138.8 34.2M148.7 33.9L146.8 34.3M71.5 42.1L63.9 44.1M76.6 42.1L68.8 42.7M84.4 42.1L76.6 40.8M89.5 42.1L81.9 40.0M97.2 42.1L89.8 39.2M102.3 42.1L95.0 39.0M110.1 42.1L103.0 39.3M115.2 42.1L108.1 39.6M122.9 42.1L116.0 40.3M128.0 42.1L121.9 40.9M135.8 42.1L131.3 41.6M140.9 42.1L137.1 41.9M148.7 42.1L144.8 42.3M71.5 48.2L64.0 50.3M76.6 48.2L68.8 48.3M84.4 48.2L76.9 45.9M89.5 48.2L82.3 44.9M97.2 48.2L90.4 44.1M102.3 48.2L95.6 44.0M110.1 48.2L103.2 44.1M115.2 48.2L108.3 44.5M122.9 48.2L116.2 45.2M128.0 48.2L121.1 45.7M135.8 48.2L129.5 46.6M140.9 48.2L135.0 47.1M148.7 48.2L142.7 47.6M63.8 56.4L59.4 62.3M71.5 56.4L65.6 58.2M76.6 56.4L70.4 55.3M84.4 56.4L78.2 52.1M89.5 56.4L83.8 51.3M97.2 56.4L91.7 50.7M102.3 56.4L96.7 50.7M110.1 56.4L104.2 51.0M115.2 56.4L109.0 51.4M122.9 56.4L116.6 52.4M128.0 56.4L121.5 53.0M135.8 56.4L129.6 54.0M140.9 56.4L134.9 54.6M148.7 56.4L142.5 55.2M71.5 62.5L67.3 64.2M76.6 62.5L72.6 59.5M84.4 62.5L80.6 56.7M89.5 62.5L85.7 56.0M97.2 62.5L93.2 55.7M102.3 62.5L98.0 55.8M110.1 62.5L105.1 56.3M115.2 62.5L109.7 56.7M122.9 62.5L117.8 58.5M128.0 62.5L123.1 59.4M135.8 62.5L131.4 60.5M140.9 62.5L136.7 61.0M148.7 62.5L144.4 61.5M71.5 70.7L76.3 69.9M76.6 70.7L79.2 66.2M84.4 70.7L85.3 63.7M89.5 70.7L90.0 63.1M97.2 70.7L97.8 62.8M102.3 70.7L103.2 62.8M110.1 70.7L112.0 62.9M115.2 70.7L117.5 64.5M122.9 70.7L125.3 67.0M128.0 70.7L130.2 68.1M135.8 70.7L137.6 69.2M140.9 70.7L142.7 69.5M148.7 70.7L150.6 69.8M63.8 76.8L70.8 79.5M71.5 76.8L77.9 75.4M76.6 76.8L81.9 72.7M84.4 76.8L88.0 70.1M89.5 76.8L92.3 69.5M97.2 76.8L99.6 69.2M102.3 76.8L104.8 69.2M110.1 76.8L112.2 71.7M115.2 76.8L117.1 73.2M122.9 76.8L124.6 74.7M128.0 76.8L129.7 75.0M135.8 76.8L137.6 75.5M140.9 76.8L142.8 75.7M148.7 76.8L150.7 75.9M58.7 85.0L62.3 86.0M63.8 85.0L71.8 85.9M71.5 85.0L79.2 83.1M76.6 85.0L83.6 81.3M84.4 85.0L90.0 79.4M89.5 85.0L94.3 78.7M97.2 85.0L101.5 78.2M102.3 85.0L105.3 80.1M110.1 85.0L111.8 82.4M115.2 85.0L116.5 83.3M122.9 85.0L124.3 83.6M128.0 85.0L129.8 83.6M135.8 85.0L137.8 83.7M140.9 85.0L143.0 83.9M148.7 85.0L150.9 84.1M58.7 91.1L60.8 91.4M63.8 91.1L67.3 91.1M71.5 91.1L79.3 89.1M76.6 91.1L83.9 87.8M84.4 91.1L90.7 86.3M89.5 91.1L95.3 85.6M97.2 91.1L100.3 87.5M102.3 91.1L104.1 89.0M110.1 91.1L111.4 89.6M115.2 91.1L116.1 90.2M122.9 91.1L124.2 90.0M128.0 91.1L129.8 89.9M135.8 91.1L137.8 90.0M140.9 91.1L142.9 90.1M148.7 91.1L150.8 90.3M50.9 99.3L52.1 99.5M58.7 99.3L60.4 99.3M63.8 99.3L65.6 99.1M71.5 99.3L73.4 98.8M76.6 99.3L79.1 98.3M84.4 99.3L87.1 97.7M89.5 99.3L91.6 97.8M97.2 99.3L98.8 98.0M102.3 99.3L103.6 98.2M110.1 99.3L110.6 98.9M115.2 99.3L115.4 99.2M122.9 99.3L123.8 98.8M128.0 99.3L129.5 98.5M135.8 99.3L137.4 98.5M140.9 99.3L142.5 98.6M148.7 99.3L150.3 98.8M45.8 105.4L46.9 105.5M50.9 105.4L52.1 105.4M58.7 105.4L60.1 105.3M63.8 105.4L65.3 105.2M71.5 105.4L73.2 105.0M76.6 105.4L78.4 104.8M84.4 105.4L86.1 104.5M89.5 105.4L91.2 104.4M97.2 105.4L98.7 104.4M102.3 105.4L103.7 104.4M110.1 105.4L111.1 104.7M115.2 105.4L115.6 105.2M122.9 105.4L124.1 104.8M128.0 105.4L129.5 104.7M135.8 105.4L137.4 104.8M140.9 105.4L142.5 104.8M148.7 105.4L150.2 104.9M45.8 113.6L46.8 113.6M50.9 113.6L52.1 113.5M58.7 113.6L59.8 113.5M63.8 113.6L65.0 113.4M71.5 113.6L72.9 113.2M76.6 113.6L78.0 113.1M84.4 113.6L85.7 113.0M89.5 113.6L90.7 113.0M97.2 113.6L97.7 113.4M102.3 113.6L103.3 113.1M110.1 113.6L111.4 112.9M115.2 113.6L116.6 112.9M122.9 113.6L124.6 112.9M128.0 113.6L129.7 113.0M135.8 113.6L137.4 113.1M140.9 113.6L142.5 113.1M148.7 113.6L150.3 113.2" stroke="#333" stroke-width="0.33" stroke-opacity="0.78" fill="none"/><path d="M46.5 6.5L48.9 5.1L49.3 6.5ZM53.2 6.6L56.0 5.2L56.3 6.6ZM57.6 6.6L60.3 5.3L60.6 6.7ZM64.3 6.5L67.1 5.3L67.3 6.7ZM68.9 6.4L71.8 5.2L72.0 6.7ZM76.5 6.5L79.4 5.3L79.6 6.7ZM81.7 6.5L84.5 5.4L84.8 6.8ZM89.3 6.8L92.1 5.5L92.4 6.9ZM94.1 7.1L96.9 5.8L97.2 7.2ZM101.0 7.9L103.7 6.4L104.1 7.7ZM105.5 8.5L108.2 6.9L108.6 8.3ZM112.9 9.4L115.4 7.6L115.9 8.9ZM118.0 9.6L120.4 7.8L121.0 9.1ZM125.8 10.0L128.3 8.1L128.9 9.4ZM131.1 10.2L133.4 8.2L134.1 9.5ZM139.0 10.5L141.3 8.4L141.9 9.7ZM54.2 14.9L56.6 13.4L57.0 14.8ZM58.1 15.0L60.8 13.5L61.1 14.9ZM63.7 14.9L66.5 13.7L66.8 15.1ZM68.2 14.7L71.1 13.6L71.3 15.0ZM75.7 14.5L78.6 13.5L78.8 14.9ZM80.9 14.5L83.8 13.4L83.9 14.8ZM88.8 14.5L91.7 13.4L91.8 14.9ZM93.8 14.7L96.6 13.6L96.8 15.0ZM100.9 15.3L103.7 14.0L104.0 15.4ZM105.6 15.8L108.4 14.4L108.7 15.8ZM113.2 16.6L115.8 15.0L116.3 16.4ZM118.4 16.9L121.0 15.2L121.4 16.6ZM126.4 17.3L128.9 15.5L129.5 16.9ZM131.8 17.6L134.2 15.7L134.8 17.0ZM139.9 17.8L142.3 15.9L142.9 17.2ZM54.9 20.9L57.0 19.5L57.4 20.8ZM58.4 21.2L61.0 19.7L61.5 21.1ZM62.8 21.3L65.6 20.0L65.9 21.4ZM67.4 20.9L70.2 19.8L70.4 21.2ZM75.0 20.4L77.9 19.4L78.0 20.9ZM80.1 20.2L83.0 19.3L83.1 20.7ZM87.8 20.1L90.8 19.2L90.9 20.7ZM92.9 20.2L95.9 19.3L96.0 20.7ZM100.7 20.7L103.6 19.6L103.8 21.1ZM105.9 21.1L108.7 19.9L109.0 21.4ZM113.7 21.9L116.5 20.5L116.8 21.9ZM118.9 22.2L121.6 20.7L122.0 22.1ZM127.4 22.6L130.0 20.9L130.5 22.3ZM133.2 22.7L135.7 20.9L136.3 22.2ZM141.9 22.7L144.3 20.8L144.9 22.1ZM55.8 29.1L57.4 27.6L58.0 28.9ZM60.2 29.1L62.1 27.6L62.6 29.0ZM62.6 29.8L65.4 28.4L65.7 29.8ZM66.0 29.2L68.9 28.1L69.1 29.5ZM73.4 28.1L76.4 27.3L76.4 28.7ZM78.5 27.5L81.5 26.9L81.5 28.3ZM86.3 27.1L89.3 26.6L89.2 28.0ZM91.4 27.1L94.4 26.6L94.3 28.0ZM99.7 27.6L102.8 26.9L102.7 28.3ZM104.7 28.1L107.7 27.3L107.8 28.7ZM113.3 28.9L116.2 27.9L116.4 29.3ZM120.0 29.1L122.9 27.9L123.1 29.4ZM129.7 29.3L132.4 27.9L132.8 29.3ZM135.7 29.4L138.3 27.8L138.7 29.2ZM144.4 29.4L146.6 27.8L147.1 29.1ZM54.9 36.1L56.8 34.2L57.5 35.4ZM58.7 36.1L61.1 34.3L61.7 35.6ZM61.4 36.3L64.1 34.9L64.4 36.3ZM65.7 35.1L68.6 34.1L68.8 35.5ZM73.4 33.5L76.4 32.9L76.4 34.3ZM78.6 32.6L81.6 32.3L81.5 33.7ZM86.4 31.9L89.5 31.7L89.3 33.1ZM91.6 31.7L94.6 31.6L94.4 33.0ZM99.7 32.1L102.8 31.9L102.5 33.3ZM104.5 32.5L107.6 32.2L107.4 33.6ZM113.0 33.5L116.0 32.9L116.0 34.3ZM120.0 34.0L123.0 33.3L123.0 34.7ZM130.0 34.5L132.9 33.5L133.0 34.9ZM136.0 34.7L138.7 33.5L138.9 34.9ZM144.3 34.9L146.7 33.6L147.0 35.0ZM60.9 44.9L63.7 43.4L64.1 44.8ZM65.7 42.9L68.7 41.9L68.8 43.4ZM73.5 40.3L76.7 40.1L76.5 41.6ZM78.9 39.2L82.1 39.2L81.7 40.7ZM87.0 38.1L90.1 38.5L89.5 39.9ZM92.2 37.9L95.2 38.4L94.7 39.7ZM100.2 38.2L103.3 38.6L102.8 40.0ZM105.2 38.6L108.3 38.9L107.8 40.2ZM113.1 39.5L116.2 39.6L115.9 41.0ZM119.0 40.3L122.1 40.2L121.8 41.6ZM128.3 41.3L131.4 40.9L131.2 42.4ZM134.1 41.8L137.1 41.2L137.1 42.7ZM141.8 42.4L144.7 41.5L144.8 43.0ZM61.0 51.2L63.8 49.6L64.2 51.1ZM65.7 48.4L68.8 47.5L68.8 49.1ZM73.9 45.0L77.2 45.1L76.7 46.7ZM79.5 43.6L82.7 44.2L82.0 45.6ZM87.8 42.6L90.8 43.5L90.0 44.8ZM93.0 42.4L95.9 43.4L95.2 44.6ZM100.7 42.6L103.6 43.5L102.9 44.7ZM105.7 43.0L108.7 43.8L108.0 45.1ZM113.4 44.0L116.5 44.6L115.9 45.9ZM118.3 44.6L121.4 45.0L120.9 46.3ZM126.6 45.8L129.7 45.9L129.3 47.3ZM132.1 46.5L135.2 46.4L134.9 47.8ZM139.7 47.2L142.8 46.8L142.6 48.3ZM57.6 64.7L58.8 61.8L60.0 62.7ZM62.5 59.2L65.4 57.4L65.9 59.0ZM67.0 54.7L70.6 54.4L70.3 56.2ZM75.3 50.2L78.7 51.3L77.7 52.9ZM81.3 49.1L84.4 50.6L83.2 52.0ZM89.6 48.5L92.3 50.2L91.2 51.3ZM94.6 48.6L97.3 50.2L96.2 51.2ZM101.9 49.0L104.7 50.5L103.7 51.6ZM106.6 49.5L109.4 50.8L108.5 52.0ZM114.1 50.8L117.0 51.8L116.3 53.0ZM118.9 51.6L121.9 52.4L121.2 53.6ZM126.8 53.0L129.8 53.4L129.3 54.7ZM132.1 53.8L135.1 53.9L134.7 55.3ZM139.6 54.6L142.7 54.5L142.4 55.9ZM64.5 65.3L67.0 63.5L67.5 64.9ZM70.0 57.6L73.1 58.8L72.1 60.2ZM78.7 53.8L81.4 56.2L79.8 57.2ZM84.0 53.0L86.5 55.5L84.9 56.5ZM91.7 53.0L93.9 55.3L92.6 56.1ZM96.4 53.3L98.7 55.4L97.4 56.2ZM103.2 53.9L105.7 55.8L104.5 56.7ZM107.6 54.6L110.2 56.2L109.1 57.2ZM115.4 56.7L118.2 58.0L117.3 59.1ZM120.5 57.8L123.5 58.8L122.7 60.0ZM128.7 59.3L131.7 59.9L131.1 61.2ZM133.9 60.1L137.0 60.4L136.5 61.7ZM141.4 60.8L144.5 60.8L144.2 62.2ZM79.3 69.4L76.4 70.7L76.2 69.2ZM80.8 63.3L79.9 66.7L78.4 65.8ZM85.7 60.3L86.2 63.9L84.3 63.6ZM90.2 59.7L90.9 63.2L89.0 63.1ZM98.0 59.7L98.5 62.9L97.0 62.8ZM103.6 59.8L104.0 62.9L102.5 62.7ZM112.7 60.0L112.7 63.1L111.3 62.8ZM118.5 61.6L118.2 64.7L116.8 64.2ZM126.9 64.5L125.9 67.4L124.7 66.6ZM132.1 65.8L130.8 68.6L129.7 67.6ZM140.0 67.3L138.1 69.8L137.2 68.6ZM145.1 68.0L143.1 70.1L142.3 68.9ZM153.2 68.5L150.9 70.4L150.3 69.1ZM73.6 80.6L70.5 80.2L71.0 78.8ZM81.0 74.7L78.1 76.2L77.7 74.6ZM84.5 70.7L82.4 73.4L81.3 72.0ZM89.6 67.1L88.8 70.5L87.2 69.6ZM93.4 66.5L93.0 69.8L91.5 69.2ZM100.5 66.3L100.3 69.4L98.8 69.0ZM105.7 66.3L105.5 69.4L104.1 69.0ZM113.4 68.9L112.9 72.0L111.6 71.4ZM118.5 70.5L117.7 73.5L116.5 72.8ZM126.4 72.3L125.2 75.1L124.0 74.2ZM131.8 72.9L130.3 75.5L129.2 74.5ZM140.0 73.7L138.0 76.0L137.2 74.9ZM145.3 74.2L143.2 76.3L142.4 75.1ZM153.3 74.8L151.0 76.6L150.4 75.3ZM65.2 86.9L62.1 86.7L62.5 85.3ZM74.7 86.2L71.7 86.6L71.8 85.2ZM82.2 82.4L79.4 83.8L79.1 82.4ZM86.4 79.9L84.0 82.0L83.3 80.6ZM92.2 77.2L90.5 80.0L89.4 78.9ZM96.2 76.3L94.9 79.2L93.7 78.3ZM103.1 75.7L102.1 78.6L100.9 77.8ZM106.9 77.6L105.9 80.5L104.7 79.8ZM113.5 79.9L112.4 82.8L111.2 82.0ZM118.3 81.0L117.1 83.7L116.0 82.8ZM126.2 81.7L124.8 84.1L123.8 83.1ZM132.0 81.7L130.2 84.1L129.3 83.0ZM140.4 82.1L138.2 84.3L137.4 83.1ZM145.7 82.5L143.3 84.5L142.7 83.3ZM153.6 83.0L151.1 84.8L150.6 83.4ZM63.6 91.8L60.7 92.1L60.9 90.7ZM70.3 91.1L67.3 91.8L67.3 90.4ZM82.2 88.4L79.5 89.8L79.1 88.4ZM86.7 86.6L84.2 88.5L83.6 87.1ZM93.1 84.4L91.2 86.8L90.3 85.7ZM97.5 83.5L95.8 86.1L94.8 85.1ZM102.3 85.2L100.9 88.0L99.8 87.0ZM106.0 86.7L104.6 89.5L103.5 88.6ZM113.3 87.5L112.0 90.0L110.9 89.1ZM117.6 88.6L116.6 90.7L115.6 89.7ZM126.1 88.5L124.7 90.6L123.8 89.5ZM132.1 88.2L130.2 90.4L129.4 89.3ZM140.4 88.5L138.2 90.6L137.4 89.4ZM145.6 88.9L143.2 90.8L142.6 89.5ZM153.5 89.3L151.0 91.0L150.5 89.6ZM54.2 99.7L52.1 100.2L52.2 98.7ZM62.9 99.4L60.4 100.0L60.4 98.6ZM68.1 98.9L65.6 99.9L65.5 98.4ZM75.9 98.1L73.6 99.5L73.2 98.1ZM81.9 97.2L79.4 99.0L78.8 97.7ZM89.7 96.2L87.5 98.3L86.7 97.1ZM94.0 96.1L92.0 98.4L91.2 97.2ZM100.8 96.3L99.2 98.6L98.3 97.5ZM105.4 96.6L104.0 98.8L103.1 97.7ZM111.9 97.8L111.1 99.4L110.2 98.3ZM116.4 98.4L115.8 99.7L114.9 98.6ZM125.4 97.7L124.2 99.4L123.4 98.1ZM131.6 97.3L129.8 99.1L129.1 97.9ZM139.7 97.5L137.7 99.2L137.1 97.9ZM144.8 97.7L142.8 99.3L142.2 98.0ZM152.7 98.0L150.5 99.4L150.1 98.1ZM48.8 105.6L46.8 106.2L46.9 104.8ZM54.1 105.5L52.0 106.2L52.1 104.7ZM62.3 105.2L60.1 106.0L60.0 104.6ZM67.6 104.9L65.4 105.9L65.2 104.5ZM75.6 104.3L73.4 105.6L73.0 104.3ZM80.8 103.9L78.6 105.4L78.1 104.1ZM88.5 103.3L86.5 105.1L85.8 103.9ZM93.5 103.0L91.5 105.0L90.8 103.8ZM100.8 102.9L99.1 105.0L98.3 103.8ZM105.7 103.0L104.1 105.0L103.3 103.9ZM112.8 103.6L111.5 105.3L110.7 104.1ZM116.8 104.4L115.9 105.8L115.2 104.6ZM126.0 103.8L124.4 105.4L123.8 104.1ZM131.7 103.6L129.8 105.3L129.2 104.0ZM139.6 103.8L137.6 105.4L137.1 104.1ZM144.8 104.0L142.7 105.5L142.2 104.2ZM152.6 104.2L150.4 105.6L150.0 104.2ZM48.7 113.5L46.9 114.3L46.8 112.9ZM54.1 113.4L52.1 114.3L52.1 112.8ZM61.7 113.2L59.9 114.2L59.7 112.8ZM67.0 113.0L65.1 114.1L64.9 112.7ZM75.1 112.6L73.1 113.9L72.8 112.5ZM80.1 112.4L78.2 113.8L77.8 112.5ZM87.7 112.1L85.9 113.7L85.4 112.4ZM92.6 112.0L91.0 113.7L90.3 112.4ZM99.0 112.6L98.0 114.0L97.3 112.7ZM105.0 112.1L103.6 113.7L102.9 112.4ZM113.4 111.8L111.7 113.5L111.0 112.3ZM118.8 111.8L117.0 113.5L116.3 112.2ZM126.9 111.9L124.9 113.6L124.3 112.2ZM132.0 112.1L129.9 113.6L129.4 112.3ZM139.8 112.3L137.7 113.7L137.2 112.4ZM144.9 112.4L142.8 113.8L142.3 112.4ZM152.7 112.6L150.5 113.9L150.1 112.5Z" fill="#222" fill-opacity="0.8"/><path d="M7.3 6.3L6.5 8.5M12.4 6.3L11.6 8.5M20.1 6.3L19.4 8.5M25.2 6.3L24.5 8.5M33.0 6.3L32.2 8.5M38.1 6.3L37.3 8.5M45.8 6.3L45.1 8.5M7.3 14.5L6.5 16.7M12.4 14.5L11.6 16.7M20.1 14.5L19.4 16.7M25.2 14.5L24.5 16.7M33.0 14.5L32.2 16.7M38.1 14.5L37.3 16.7M45.8 14.5L45.0 16.7M50.9 14.5L50.1 16.8M7.3 20.6L6.5 22.8M12.4 20.6L11.6 22.8M20.1 20.6L19.4 22.8M25.2 20.6L24.5 22.8M33.0 20.6L32.2 22.8M38.1 20.6L37.3 22.9M45.8 20.6L45.0 22.9M50.9 20.6L50.0 22.9M7.3 28.8L6.5 31.0M12.4 28.8L11.6 31.0M20.1 28.8L19.4 31.0M25.2 28.8L24.4 31.0M33.0 28.8L32.1 31.1M38.1 28.8L37.2 31.1M45.8 28.8L44.8 31.3M50.9 28.8L49.8 31.3M7.3 34.9L6.5 37.1M12.4 34.9L11.6 37.1M20.1 34.9L19.3 37.1M25.2 34.9L24.4 37.2M33.0 34.9L32.1 37.3M38.1 34.9L37.1 37.4M45.8 34.9L44.7 37.5M50.9 34.9L49.6 37.7M7.3 43.1L6.5 45.3M12.4 43.1L11.6 45.3M20.1 43.1L19.3 45.4M25.2 43.1L24.4 45.4M33.0 43.1L32.0 45.6M38.1 43.1L37.0 45.8M45.8 43.1L44.5 46.1M50.9 43.1L49.3 46.3M58.7 43.1L56.5 46.5M63.8 43.1L61.8 45.5M7.3 49.2L6.5 51.4M12.4 49.2L11.6 51.4M20.1 49.2L19.3 51.5M25.2 49.2L24.4 51.6M33.0 49.2L32.0 51.8M38.1 49.2L37.0 52.1M45.8 49.2L44.4 52.5M50.9 49.2L49.2 52.8M58.7 49.2L56.8 52.1M63.8 49.2L61.3 52.0M7.3 57.4L7.5 59.7M12.4 57.4L12.6 59.8M20.1 57.4L20.3 59.9M25.2 57.4L25.4 60.0M33.0 57.4L33.0 60.4M38.1 57.4L38.1 60.7M45.8 57.4L45.6 61.4M50.9 57.4L50.5 60.8M58.7 57.4L57.5 61.4M7.3 63.5L7.5 65.8M12.4 63.5L12.6 65.9M20.1 63.5L20.3 66.0M25.2 63.5L25.4 66.1M33.0 63.5L33.1 66.5M38.1 63.5L38.2 66.9M45.8 63.5L45.9 66.5M50.9 63.5L51.0 67.1M58.7 63.5L58.6 67.9M63.8 63.5L63.0 68.3M7.3 71.7L7.6 74.0M12.4 71.7L12.7 74.1M20.1 71.7L20.5 74.2M25.2 71.7L25.7 74.3M33.0 71.7L33.7 74.6M38.1 71.7L39.0 75.0M45.8 71.7L46.8 74.6M50.9 71.7L52.3 75.0M58.7 71.7L60.9 75.5M63.8 71.7L67.0 75.3M7.3 77.8L7.6 80.1M12.4 77.8L12.7 80.2M20.1 77.8L20.5 80.3M25.2 77.8L25.7 80.4M33.0 77.8L33.7 80.7M38.1 77.8L39.0 81.0M45.8 77.8L47.4 81.4M50.9 77.8L52.6 80.7M58.7 77.8L61.5 80.8M7.3 86.0L7.5 88.3M12.4 86.0L12.7 88.3M20.1 86.0L20.5 88.4M25.2 86.0L25.6 88.5M33.0 86.0L33.6 88.7M38.1 86.0L38.9 88.9M45.8 86.0L47.2 89.3M50.9 86.0L52.9 89.4M7.3 92.1L7.5 94.4M12.4 92.1L12.7 94.4M20.1 92.1L20.4 94.5M25.2 92.1L25.6 94.6M33.0 92.1L33.5 94.7M38.1 92.1L38.8 94.9M45.8 92.1L46.9 95.2M50.9 92.1L52.4 95.3M7.3 100.3L7.5 102.6M12.4 100.3L12.6 102.6M20.1 100.3L20.4 102.6M25.2 100.3L25.6 102.7M33.0 100.3L33.4 102.8M38.1 100.3L38.6 102.9M45.8 100.3L46.5 103.1M7.3 106.4L7.5 108.7M12.4 106.4L12.6 108.7M20.1 106.4L20.4 108.7M25.2 106.4L25.5 108.7M33.0 106.4L33.3 108.8M38.1 106.4L38.5 108.9M7.3 114.6L7.5 116.9M12.4 114.6L12.6 116.9M20.1 114.6L20.4 116.9M25.2 114.6L25.5 116.9M33.0 114.6L33.3 116.9M38.1 114.6L38.4 117.0" stroke="#444" stroke-width="0.32" stroke-opacity="0.7" fill="none"/><path d="M5.9 10.3L6.0 8.3L7.1 8.7ZM11.0 10.3L11.1 8.3L12.2 8.7ZM18.8 10.3L18.9 8.3L19.9 8.7ZM23.9 10.3L24.0 8.3L25.0 8.7ZM31.6 10.3L31.7 8.3L32.7 8.7ZM36.7 10.3L36.8 8.3L37.8 8.7ZM44.4 10.3L44.5 8.3L45.6 8.7ZM5.9 18.5L6.0 16.5L7.1 16.9ZM11.0 18.5L11.1 16.5L12.2 16.9ZM18.8 18.5L18.9 16.5L19.9 16.9ZM23.8 18.5L24.0 16.5L25.0 16.9ZM31.6 18.5L31.7 16.5L32.7 16.9ZM36.7 18.5L36.8 16.5L37.8 16.9ZM44.4 18.5L44.5 16.5L45.5 16.9ZM49.4 18.5L49.6 16.6L50.6 17.0ZM5.9 24.6L6.0 22.6L7.1 23.0ZM11.0 24.6L11.1 22.6L12.2 23.0ZM18.7 24.6L18.9 22.6L19.9 23.0ZM23.8 24.6L23.9 22.6L25.0 23.0ZM31.5 24.6L31.7 22.6L32.7 23.0ZM36.6 24.6L36.8 22.7L37.8 23.0ZM44.3 24.7L44.5 22.7L45.5 23.1ZM49.3 24.7L49.5 22.7L50.5 23.1ZM5.9 32.8L6.0 30.8L7.1 31.2ZM11.0 32.8L11.1 30.8L12.1 31.2ZM18.7 32.8L18.8 30.8L19.9 31.2ZM23.8 32.8L23.9 30.8L25.0 31.2ZM31.5 32.9L31.6 30.9L32.7 31.3ZM36.5 32.9L36.7 30.9L37.7 31.3ZM44.1 33.0L44.3 31.0L45.3 31.5ZM49.1 33.1L49.3 31.1L50.3 31.6ZM5.9 38.9L6.0 36.9L7.1 37.3ZM11.0 38.9L11.1 36.9L12.1 37.3ZM18.7 38.9L18.8 36.9L19.9 37.3ZM23.8 38.9L23.9 37.0L24.9 37.4ZM31.4 39.0L31.6 37.1L32.6 37.5ZM36.4 39.1L36.6 37.2L37.6 37.6ZM43.9 39.3L44.2 37.3L45.2 37.8ZM48.8 39.4L49.1 37.4L50.1 37.9ZM5.9 47.1L6.0 45.1L7.0 45.5ZM11.0 47.1L11.1 45.1L12.1 45.5ZM18.7 47.1L18.8 45.2L19.8 45.5ZM23.7 47.2L23.9 45.2L24.9 45.6ZM31.3 47.4L31.5 45.4L32.5 45.8ZM36.3 47.5L36.5 45.6L37.5 46.0ZM43.7 47.8L44.0 45.9L45.0 46.3ZM48.4 48.0L48.8 46.0L49.8 46.5ZM55.4 48.0L56.0 46.2L56.9 46.8ZM59.9 47.9L61.3 45.1L62.4 46.0ZM5.9 53.2L6.0 51.2L7.0 51.6ZM11.0 53.2L11.1 51.2L12.1 51.6ZM18.7 53.3L18.8 51.3L19.8 51.7ZM23.7 53.4L23.8 51.4L24.9 51.8ZM31.3 53.6L31.5 51.6L32.5 52.0ZM36.2 53.8L36.4 51.9L37.5 52.3ZM43.7 54.3L43.9 52.3L44.9 52.7ZM48.4 54.5L48.7 52.6L49.7 53.0ZM55.2 54.6L56.2 51.7L57.4 52.5ZM59.3 54.3L60.7 51.6L61.8 52.5ZM7.7 61.6L7.0 59.8L8.1 59.7ZM12.8 61.7L12.1 59.8L13.1 59.7ZM20.4 61.8L19.8 59.9L20.9 59.8ZM25.5 61.9L24.8 60.0L25.9 60.0ZM33.1 62.3L32.5 60.4L33.6 60.4ZM38.0 62.6L37.5 60.7L38.6 60.7ZM45.5 63.3L45.0 61.3L46.1 61.4ZM50.2 63.8L49.8 60.7L51.3 60.9ZM56.6 64.2L56.8 61.2L58.2 61.6ZM7.7 67.7L7.0 65.9L8.1 65.8ZM12.8 67.8L12.0 65.9L13.1 65.8ZM20.4 67.9L19.8 66.0L20.9 66.0ZM25.5 68.0L24.8 66.2L25.9 66.1ZM33.2 68.4L32.5 66.5L33.6 66.5ZM38.2 68.8L37.6 66.9L38.7 66.9ZM46.0 69.5L45.2 66.6L46.7 66.5ZM51.1 70.1L50.3 67.1L51.8 67.1ZM58.5 70.9L57.9 67.9L59.3 68.0ZM62.6 71.3L62.3 68.2L63.7 68.4ZM7.8 75.9L7.0 74.1L8.1 74.0ZM12.9 75.9L12.1 74.1L13.2 74.0ZM20.8 76.1L20.0 74.3L21.0 74.1ZM26.0 76.2L25.2 74.4L26.2 74.2ZM34.1 76.5L33.1 74.8L34.2 74.5ZM39.5 76.8L38.4 75.1L39.5 74.8ZM47.8 77.4L46.2 74.8L47.5 74.3ZM53.5 77.8L51.7 75.3L53.0 74.7ZM62.5 78.1L60.3 75.9L61.6 75.1ZM69.0 77.6L66.5 75.8L67.5 74.8ZM7.8 82.0L7.0 80.2L8.1 80.1ZM12.9 82.0L12.1 80.2L13.2 80.1ZM20.8 82.1L19.9 80.3L21.0 80.2ZM26.0 82.3L25.1 80.5L26.2 80.3ZM34.1 82.5L33.1 80.8L34.2 80.6ZM39.5 82.8L38.5 81.1L39.5 80.8ZM48.1 83.2L46.9 81.7L47.9 81.2ZM54.0 83.4L51.9 81.1L53.2 80.4ZM63.6 83.0L61.0 81.3L62.0 80.3ZM7.7 90.2L7.0 88.4L8.1 88.3ZM12.9 90.2L12.1 88.4L13.2 88.3ZM20.7 90.3L19.9 88.5L21.0 88.3ZM25.9 90.4L25.1 88.6L26.2 88.4ZM34.0 90.6L33.0 88.9L34.1 88.6ZM39.4 90.8L38.4 89.1L39.4 88.8ZM48.0 91.0L46.7 89.5L47.7 89.1ZM53.8 91.1L52.4 89.7L53.4 89.2ZM7.7 96.3L7.0 94.5L8.1 94.3ZM12.9 96.3L12.1 94.5L13.2 94.4ZM20.7 96.4L19.9 94.6L21.0 94.4ZM25.9 96.4L25.1 94.6L26.1 94.5ZM33.9 96.6L33.0 94.8L34.0 94.6ZM39.2 96.7L38.2 95.0L39.3 94.8ZM47.6 96.9L46.4 95.3L47.5 95.0ZM53.3 97.0L51.9 95.5L52.9 95.1ZM7.7 104.5L7.0 102.7L8.1 102.5ZM12.8 104.5L12.1 102.7L13.2 102.6ZM20.6 104.5L19.9 102.7L21.0 102.6ZM25.8 104.6L25.0 102.8L26.1 102.6ZM33.7 104.7L32.8 102.9L33.9 102.7ZM38.9 104.8L38.0 103.0L39.1 102.8ZM47.0 104.9L46.0 103.2L47.1 102.9ZM7.7 110.6L7.0 108.8L8.1 108.6ZM12.8 110.6L12.1 108.8L13.2 108.6ZM20.6 110.6L19.9 108.8L21.0 108.7ZM25.7 110.6L25.0 108.8L26.1 108.7ZM33.6 110.7L32.8 108.9L33.9 108.7ZM38.8 110.8L37.9 109.0L39.0 108.8ZM7.7 118.8L7.0 116.9L8.1 116.8ZM12.8 118.8L12.1 117.0L13.2 116.8ZM20.6 118.8L19.8 117.0L20.9 116.8ZM25.7 118.8L25.0 117.0L26.0 116.9ZM33.5 118.8L32.7 117.0L33.8 116.9ZM38.6 118.9L37.8 117.0L38.9 116.9Z" fill="#333" fill-opacity="0.72"/></g><text x="3.4" y="11.5" class="pl">(c)</text><text x="18.3" y="58.9" class="cn">China</text></g><text x="352.6" y="59.9" class="ax" text-anchor="end">31°N</text><text x="352.6" y="118.3" class="ax" text-anchor="end">26°N</text><text x="363.4" y="133.5" class="ax" text-anchor="middle">116°E</text><text x="413.4" y="133.5" class="ax" text-anchor="middle">121°E</text><text x="463.4" y="133.5" class="ax" text-anchor="middle">126°E</text><g transform="translate(20.0,145.4)"><rect x="0" y="0" width="150.0" height="116.3" fill="#a9cfe4"/><g clip-path="url(#pc)"><path fill="#09386d" fill-rule="evenodd" d="M-1,-1 151,-1 151,118 -1,118Z"/><path fill="#124984" fill-rule="evenodd" d="M0,-1 151,-1 151,118 -1,118 -1,-1ZM116,87 113.5,88 112.2,90 112,92.6 113,93.7 117,93.1 119,91 119,89 118.4,88ZM127.9,87 127.7,89 129,90 130.1,89 130,87.1 129,86.4ZM108,95 106,96.6 104.9,99 105,102 106,103 107,103.2 110,102.1 111.5,99 111.6,97 111,95.1 110,94.7ZM99.9,105 98.1,107 97.8,109 99,111.5 101,112 102,111.6 103.3,110 103.9,108 103.7,106 103.2,105 102,104.6Z"/><path fill="#1c5c9f" fill-rule="evenodd" d="M0,-1 151,-1 151,118 -1,118 -1,-1ZM127.9,85 126.2,87 126,89 127,90.9 129,91.8 131,90.6 131.6,88 131,86.1 130,85.1ZM113.7,86 111.2,88 109,91.5 105,95.1 102,101.4 98.5,104 97,105.9 96.4,108 96.6,111 97.7,113 99,114.1 102,114.4 104,113.2 105.5,111 107.1,107 112,102.9 114.2,97 115,96 119,93.7 120.6,92 121.2,89 120,86.9 117,85.5Z"/><path fill="#266caf" fill-rule="evenodd" d="M0,-1 151,-1 151,118 110,118 111.1,110 114,104.4 116.5,98 124,93 129,94 131,93.5 132.7,92 133.4,89 132.7,86 131,84 129,83.1 127,83.4 124,85.2 118,83.6 115,83.8 112,84.9 109.5,87 104,93.4 101,99.1 97,103.3 95.5,106 94.9,109 95.2,113 96,115.4 97.8,118 50,118 50,117 48.8,116 46,115.6 41.3,116 40,117 40,118 20,118 20,117 12,116.3 -1,117 -1,-1Z"/><path fill="#327cb7" fill-rule="evenodd" d="M0,-1 151,-1 151,110 142,110.6 140,110 139.2,108 138.7,105 141,95 140.5,91 138.6,88 132,81.1 129,79.3 126,78.8 122,79.4 114,81.5 110,83.4 106.7,86 103,90.9 99,98 94.7,104 93.6,107 92.4,113 90.4,116 90,118 60,118 60,117 59.4,116 55.5,114 49,109.4 45,107.6 39,106.4 33,106.1 15,106.7 -1,106.6 -1,-1ZM123,98.8 125.8,99 132.9,101 134.5,102 136,104 136,105 135,106.8 130,110 128.6,112 128.5,114 129.7,116 130,118 120,118 120.3,112 119,105 119,103 120.7,100ZM141,115.7 150,117 150,118 140,118 140.4,116Z"/><path fill="#3c8abe" fill-rule="evenodd" d="M0,-1 151,-1 151,80 150,80 148,82.3 146,83 143,82.3 141,81 139.4,79 139,77 140.6,73 140.5,71 139,69.2 137,68.7 133,69.2 127.4,71 110,80 105,83.2 101.7,87 93.8,101 89,111.1 85.5,114 80.9,116 80,117 80,118 70,118 70.3,116 71.3,114 71.1,112 70,110 68,108.7 66,108.9 63,110.7 61,110.4 59,109.3 58,108 57.8,106 60.4,103 60.4,101 59.1,99 57,98.2 52,99.7 48,100.1 -1,100 -1,-1ZM30.3,84 31.1,85 33,85.2 34.6,85 35.4,84ZM150,90 151,90 151,100 150,100 149.3,97Z"/><path fill="#4f9bc7" fill-rule="evenodd" d="M1,-1 20,-1 20,0 33,0.6 40,0 40,-1 50,-1 50,0 52.4,3 52.8,6 51,9.1 49,10.6 47,11.2 34,9.5 16,10.1 -1,10 -1,0 0,0 0,-1ZM60,-1 151,-1 151,30 145,28.9 141,29.6 137.2,32 136.6,33 136.2,35 136.9,37 138,38.4 140,40 142,40.8 146,41.2 151,40 151,60 146,58.5 141,59.6 133,63.7 124,67.4 114.2,74 104,80.1 99.8,84 93.2,93 89,102 86.1,107 84,109 82,109.9 79,109.7 77,108.3 70,100 67,95 65.2,93 57,88.2 52.3,84 48.5,82 43,80.5 36,79.7 -1,80 -1,20 35,20.2 47,19.4 51,20.3 56,23 58,23.2 59.3,22 60.7,17 59.4,6ZM59,25 58.8,28 59.6,30 61,31 63,30.9 64.3,29 64.2,27 63.7,26 61,24.2 60,24.1ZM67.7,59 68,60.3 69.2,60 69,58.7ZM150,65.3 151,65.3 151,70 150,70 149.8,69Z"/><path fill="#6bacd1" fill-rule="evenodd" d="M71,-1 151,-1 151,23.9 144,23.2 138,24.6 133.4,27 131,28.8 129.4,31 128.7,33 129,37 130.6,41 132.2,43 137.7,47 139.6,49 139.9,51 138.5,53 132,58.7 121,64.6 110.6,73 100,80 94,86.4 86.9,93 83,98.8 81,99.9 79,99.7 77,98.3 73.8,93 71.6,91 64,86.7 57.5,82 52.5,80 45,78.5 37,77.8 -1,77.9 -1,38 13,37.8 33,38.5 39.8,38 43.6,37 45.2,36 45.1,35 41,32.7 36.5,31 40,30 45,29.5 50,30 60,32.8 63,32.5 64.8,31 65.8,29 65.9,27 65,22 66,17.3 70,10 71.1,7 71.1,3 70,0 70,-1ZM67.2,59 67.2,60 68,60.8 69,60.7 69.7,60 69.7,59 69,58.2 68,58.1ZM0,30 20,30 29,31 21,32.2 6,32.6 -1,32.3 -1,30Z"/><path fill="#84bcd9" fill-rule="evenodd" d="M81,-1 90,-1 90,0 82,1.3 80,0 80,-1ZM100,-1 151,-1 151,20 144,19.6 138,20.5 132,23.5 127,27 124.7,31 124.4,35 126,42.9 129.7,49 130,51 129.3,53 127.3,55 120,60 108,71.8 99,78 92,84.4 84,89.2 80,90 77,89.4 68,85.3 59,79.5 51,77.4 36,76.2 -1,76.3 -1,40.8 38,41 46.8,40 56,37.6 63,34.2 65.5,32 67.6,29 69,22.5 70.6,19 80,10 82,9.2 87,10.6 91,9.5 93.5,7 96,2.4 100,0ZM67.5,58 66.8,59 66.8,60 67.7,61 69,61.1 70.1,60 70,58.9 69,57.8Z"/><path fill="#9dcbe1" fill-rule="evenodd" d="M111,-1 151,-1 151,16.8 141,16.7 135,17.6 130,20 122.6,26 120.4,29 119.4,32 119.4,35 120.8,47 119.5,51 113,62 108.3,68 104.1,72 91,82.1 84,85.5 78,86.5 74,85.8 70,84.2 61.7,78 54,76.1 37,74.9 -1,75 -1,42.5 39,42.6 49,41.7 57.2,40 61,38 71.9,27 75,23.1 84.6,17 94,13.9 101,9.6 103,9.3 107,10.7 110,10 111.4,8 111.9,6 111.4,3 110,0 110,-1ZM66.9,58 66.4,60 67,61 68,61.5 69.6,61 70.3,60 69.7,58 68,57.4Z"/><path fill="#b1d5e7" fill-rule="evenodd" d="M121,-1 124.7,-1 125.8,4 125.8,7 123.8,15 122.9,17 118.7,21 112,25 110.6,27 109.9,31 109.8,47 110.7,56 109.6,61 107.4,65 103.1,70 93,78 87,82 81,84.7 78,85 75,84.7 72,83.8 69,82.2 62,75.9 60,75.2 54,74.4 37,73.6 -1,73.7 -1,43.9 41,43.9 52.1,43 59,41.5 61,40.1 66,34.1 71,29.6 75,27.3 83,23.9 89,20.4 94,19.4 103,20.3 108,20.3 112,19.5 114,18.3 118.2,14 119.4,12 120.6,6 120,-1ZM59.5,54 58.4,55 60,55.8 63,55.8 64.6,55 63,53.8ZM68,57 67,57.2 66.4,58 66.1,60 67,61.4 69,61.7 70.1,61 70.5,59 70,57.9ZM130,-1 151,-1 151,13.9 138,13.7 134.8,13 131.1,11 128.4,8 127.4,5 128.4,2 130,0Z"/><path fill="#c7e0ed" fill-rule="evenodd" d="M141,-1 150,-1 150,0 151,0 151,10 146,10.8 143,10.7 140,10 138,8.8 136.5,6 136.8,3 138,1.2 140,0 140,-1ZM75,29 78,28.2 81,28.1 89,29.9 97,29.4 99,29.6 101,30.6 102.5,32 104,34.8 104.6,37 104.9,41 104.4,49 106.7,58 105.5,63 102.8,67 98.9,71 85,81.6 82,83 79,83.7 76,83.7 73,83 69,80.8 62,74.1 60,73 41,72.1 -1,72.1 -1,45.1 40,45.1 51,44.5 58,43.7 59.7,43 61,41.9 65.5,36 69,32.5ZM57.8,54 57,55.1 57.9,56 60,56.5 65.7,56 66.2,55 65.1,54 63,53.3 60,53.3ZM66.3,57 65.6,59 66.1,61 68,62.2 70,61.4 70.8,60 70,57.6 67,56.2Z"/><path fill="#d7e8f1" fill-rule="evenodd" d="M78,29.9 83,30.6 90,34.7 96,35.8 98.4,37 99.7,39 100.2,41 99.6,47 100,50 102.9,56 103.4,58 103.4,60 102.4,63 98.9,68 89.1,77 83.4,81 81,82 78,82.5 75,82.3 72,81.3 68,78.5 61,71 59,70.1 -1,70 -1,46.3 39,46.3 58,45.3 61,43.7 66,36.9 70,33 74,30.8ZM58.6,53 56.1,54 55.2,55 55.8,56 59,57.1 65,57.3 65.5,61 67,62.4 69,62.4 70.6,61 71,60 70.6,58 68,56 66.5,54 63,52.6Z"/><path fill="#e4eef4" fill-rule="evenodd" d="M76,31.9 80,31.9 83.1,33 87.4,36 92.8,41 94.2,43 96.1,51 99.1,56 100,59 99.2,63 95,69 86.7,77 82,80 79,80.9 76,80.9 72.6,80 69.4,78 66.5,75 63.6,71 60.8,66 59,61 58,60.1 -1,60 -1,47.8 41,47.8 59,46.9 61,45.9 62,44.9 66,38.7 69,35.5 72.7,33ZM59.8,52 53.9,54 53,55 53,56 54,57 58,58.7 63.5,58 64,58.2 64.6,61 66,62.5 68,63 70,62.1 70.9,61 71.3,59 70.1,57 67,53.6 63,52Z"/><path fill="#f0f4f6" fill-rule="evenodd" d="M76,34.9 80,35.3 82,36.2 85,38.6 86.9,41 89.8,47 90.8,51 91.1,56 90.7,63 89.5,67 87.6,71 85,74.4 82,76.8 80,77.7 77,78.1 74,77.7 70,75.3 67.1,72 65.4,69 64.4,66 64.8,64 68,63.8 70,62.5 71.2,61 71.5,59 71,57.8 67,52.7 64.1,51 63.6,50 65.4,44 68.7,39 72,36.2ZM1,50 52,50 56,50.3 57.2,51 55,51.5 49,54.3 45.3,55 -1,55.1 -1,50ZM95,58.8 95.7,61 95,62.9 94,63.4 93.6,62 93.9,60Z"/><path fill="#f8f2ef" fill-rule="evenodd" d="M76,39 80,39.5 82,40.7 84.3,43 86,45.6 87.3,49 88.4,56 87.6,63 85.1,69 83,71.5 81,73 77,74.1 74,73.5 72,72.3 70,70.4 68.4,68 68,66 68.3,65 71.5,61 71.8,59 66.6,51 66.5,50 67.8,46 70,42.6 73,40Z"/><path fill="#fae9df" fill-rule="evenodd" d="M75,41.7 79,41.7 82,43.6 85.1,48 86.6,53 86.6,60 85.1,65 82,69.4 80,70.8 78,71.5 76,71.5 74,70.8 72,69.4 70.1,67 69.5,65 71.8,61 72.1,59 68.1,52 68.5,49 70.7,45 73,42.7Z"/><path fill="#fcdfcf" fill-rule="evenodd" d="M75,42.9 77,42.6 79,42.9 82,44.9 84.6,49 85.9,54 85.8,60 84.2,65 81,69 78,70.3 76,70.3 74,69.6 72,68.1 70.6,66 70.5,64 72.2,61 72.5,59 68.8,52 69.4,49 71,46.1 73,44Z"/><path fill="#fcd3bc" fill-rule="evenodd" d="M76,43.8 78,43.8 80,44.6 82.6,47 84.5,51 85.3,56 84.8,61 83,65.3 80,68.4 77,69.3 74,68.4 71.6,66 71.3,64 72.7,61 72.9,59 69.5,52 70,49.6 72,46.3 74,44.6Z"/><path fill="#f8bfa4" fill-rule="evenodd" d="M76,45 79,45.3 82,47.8 83.9,52 84.5,56 84,60.8 82.7,64 80,67.1 77,68.1 74,67.1 72.2,65 72.1,64 73.3,61 73.5,59 72.3,56 70.9,54 70.3,52 70.7,50 72,47.7 74,45.8Z"/><path fill="#f6af8e" fill-rule="evenodd" d="M75,46.6 78,46.3 80,47.3 82.2,50 83.5,54 83.5,59 82.2,63 80,65.7 78,66.7 75,66.3 73,64 74.6,61 74.6,59 71.1,52 72.3,49Z"/><path fill="#ef9979" fill-rule="evenodd" d="M74,50 76,49.9 77.4,52 77.2,54 76,55.5 75,55.2 74,54.1 73,52 73.1,51Z"/><path fill="#b7b7b7" d="M-2.0 -2.0L41.9 -2.0L41.9 0.0L44.2 1.7L48.7 3.5L52.4 7.2L54.7 11.7L55.6 16.3L56.5 21.8L57.4 25.0L57.9 27.1L59.9 30.0L62.1 32.8L59.0 33.8L55.5 34.2L58.5 36.8L62.5 38.9L65.5 40.6L68.5 42.3L69.2 43.8L68.6 46.0L67.5 48.3L66.5 50.0L63.0 51.6L59.0 52.4L55.3 53.6L58.0 55.9L62.0 56.6L66.0 56.9L68.3 57.4L67.2 59.5L67.0 60.0L66.5 62.0L67.0 64.3L66.0 67.6L66.5 70.9L65.4 74.2L63.5 77.0L61.5 79.0L59.6 81.9L56.5 86.5L53.4 90.4L50.4 93.4L47.3 96.5L45.8 100.3L46.5 103.4L44.2 107.3L43.4 111.1L41.1 114.2L39.6 117.0L39.6 119.0L-2.0 119.0Z"/><path fill="#b7b7b7" d="M58.0 35.2L61.5 35.6L65.5 36.8L68.2 38.2L67.2 38.9L63.0 37.9L59.5 36.6Z"/><path fill="#ecd2bd" d="M60.0 117.5L62.5 115.6L65.8 112.8L68.5 114.4L70.5 117.5Z"/><path fill="#ecd2bd" d="M114.0 16.8L115.5 16.0L117.2 16.0L117.8 16.8L116.5 17.6L114.8 17.6Z"/><path fill="#ecd2bd" d="M128.3 102.5L129.8 99.0L131.8 95.8L132.3 96.3L130.5 100.0L128.8 103.0Z"/><path fill="#ecd2bd" d="M143.0 79.5L145.5 77.5L147.0 78.0L145.0 80.0Z"/><path fill="#ecd2bd" d="M138.0 25.0L139.5 23.0L141.0 22.5L140.5 24.5Z"/><path fill="#ecd2bd" d="M148.0 27.0L149.0 23.5L150.5 22.0L150.5 29.0Z"/><path fill="#ecd2bd" d="M144.5 15.0L145.8 13.8L146.5 15.0L145.3 16.0Z"/><path fill="#ecd2bd" d="M126.0 0.5L128.0 0.0L129.0 1.2L127.0 1.6Z"/><path fill="#ecd2bd" d="M132.0 0.3L134.0 0.2L134.5 1.4L132.5 1.5Z"/><path fill="none" stroke="#d8d8d8" stroke-width="0.45" d="M12.0 64.0L16.0 60.0L20.0 55.0L25.0 50.0L30.0 46.0L35.0 42.0L40.0 39.0L45.0 37.0L50.0 36.5L56.5 35.8"/><path fill="none" stroke="#d8d8d8" stroke-width="0.45" d="M35.0 20.0L38.0 24.0L41.0 27.0L44.0 30.0L47.0 33.0L50.0 36.0"/><ellipse cx="35.5" cy="20.3" rx="1.9" ry="2.4" fill="#ececec"/><ellipse cx="33.4" cy="17.6" rx="1.0" ry="0.8" fill="#ececec"/><ellipse cx="37.5" cy="18.0" rx="0.8" ry="0.7" fill="#ececec"/><ellipse cx="29.5" cy="22.0" rx="0.7" ry="0.6" fill="#ececec"/><ellipse cx="23.6" cy="19.3" rx="0.6" ry="0.6" fill="#ececec"/><ellipse cx="42.0" cy="24.0" rx="0.8" ry="0.9" fill="#ececec"/><ellipse cx="45.5" cy="27.5" rx="0.8" ry="1.0" fill="#ececec"/><ellipse cx="32.0" cy="10.3" rx="0.6" ry="0.6" fill="#ececec"/><ellipse cx="52.7" cy="43.5" rx="2.0" ry="2.4" fill="#ececec"/><ellipse cx="50.0" cy="46.5" rx="0.9" ry="0.8" fill="#ececec"/><ellipse cx="31.0" cy="45.5" rx="1.4" ry="1.0" fill="#ececec"/><ellipse cx="25.7" cy="43.0" rx="0.6" ry="0.6" fill="#ececec"/><ellipse cx="22.0" cy="3.5" rx="0.7" ry="0.7" fill="#ececec"/><ellipse cx="26.0" cy="51.0" rx="0.8" ry="0.7" fill="#ececec"/><ellipse cx="15.0" cy="55.0" rx="0.7" ry="0.6" fill="#ececec"/><ellipse cx="6.0" cy="57.5" rx="0.8" ry="0.7" fill="#ececec"/><ellipse cx="8.6" cy="60.5" rx="0.7" ry="0.7" fill="#ececec"/><ellipse cx="10.0" cy="63.0" rx="1.0" ry="1.0" fill="#ececec"/><ellipse cx="11.5" cy="66.5" rx="1.2" ry="1.3" fill="#ececec"/><ellipse cx="12.5" cy="70.0" rx="1.0" ry="1.0" fill="#ececec"/><ellipse cx="13.5" cy="73.0" rx="0.8" ry="0.8" fill="#ececec"/><ellipse cx="5.0" cy="68.0" rx="0.7" ry="0.9" fill="#ececec"/><ellipse cx="5.5" cy="72.0" rx="0.6" ry="0.7" fill="#ececec"/><ellipse cx="60.0" cy="55.0" rx="0.8" ry="0.9" fill="#ececec"/><ellipse cx="66.0" cy="62.5" rx="0.7" ry="0.8" fill="#ececec"/><path d="M50.9 5.3L47.8 6.3M58.7 5.3L55.5 6.1M63.8 5.3L60.3 6.1M71.5 5.3L67.2 5.9M76.6 5.3L71.6 5.8M84.4 5.3L79.2 5.8M89.5 5.3L84.5 5.8M97.2 5.3L91.6 6.0M102.3 5.3L96.4 6.2M110.1 5.3L104.0 6.6M115.2 5.3L108.6 7.1M122.9 5.3L115.8 7.8M128.0 5.3L121.1 8.0M135.8 5.3L128.5 8.5M140.9 5.3L133.7 8.7M148.7 5.3L141.6 9.0M58.7 13.5L55.6 14.5M63.8 13.5L60.2 14.4M71.5 13.5L66.7 14.2M76.6 13.5L71.3 14.0M84.4 13.5L78.7 13.8M89.5 13.5L83.6 13.7M97.2 13.5L90.7 13.7M102.3 13.5L95.6 13.9M110.1 13.5L103.4 14.3M115.2 13.5L108.2 14.7M122.9 13.5L115.7 15.5M128.0 13.5L121.1 15.7M135.8 13.5L128.7 16.2M140.9 13.5L133.7 16.6M148.7 13.5L141.6 16.9M58.7 19.6L55.7 20.7M63.8 19.6L60.0 20.7M71.5 19.6L65.9 20.5M76.6 19.6L70.5 20.1M84.4 19.6L77.5 19.6M89.5 19.6L82.1 19.3M97.2 19.6L89.7 19.2M102.3 19.6L94.9 19.3M110.1 19.6L102.6 19.8M115.2 19.6L107.7 20.3M122.9 19.6L115.8 21.0M128.0 19.6L121.6 21.2M135.8 19.6L130.4 21.4M140.9 19.6L135.9 21.5M148.7 19.6L143.8 21.8M58.7 27.8L55.8 29.2M63.8 27.8L61.0 28.8M71.5 27.8L64.7 28.8M76.6 27.8L68.7 28.0M84.4 27.8L76.4 26.9M89.5 27.8L81.6 26.4M97.2 27.8L89.4 26.1M102.3 27.8L94.5 26.1M110.1 27.8L102.7 26.5M115.2 27.8L108.1 27.0M122.9 27.8L116.9 27.7M128.0 27.8L123.0 28.0M135.8 27.8L132.0 28.3M140.9 27.8L137.5 28.4M148.7 27.8L145.3 28.7M58.7 33.9L54.6 36.4M63.8 33.9L58.5 36.1M71.5 33.9L63.6 35.0M76.6 33.9L68.7 33.7M84.4 33.9L76.6 32.2M89.5 33.9L81.8 31.6M97.2 33.9L89.8 31.1M102.3 33.9L94.9 31.1M110.1 33.9L103.0 31.5M115.2 33.9L108.5 32.1M122.9 33.9L117.3 32.9M128.0 33.9L123.6 33.4M135.8 33.9L132.5 33.8M140.9 33.9L137.9 34.0M148.7 33.9L145.6 34.2M71.5 42.1L63.8 42.8M76.6 42.1L69.0 40.9M84.4 42.1L77.2 39.0M89.5 42.1L82.6 38.2M97.2 42.1L90.5 37.8M102.3 42.1L95.6 37.8M110.1 42.1L103.6 38.3M115.2 42.1L109.0 38.9M122.9 42.1L117.4 39.9M128.0 42.1L123.4 40.6M135.8 42.1L132.1 41.3M140.9 42.1L137.5 41.6M148.7 42.1L145.2 41.8M71.5 48.2L65.0 48.2M76.6 48.2L69.9 45.8M84.4 48.2L78.2 43.6M89.5 48.2L83.6 43.0M97.2 48.2L91.4 42.7M102.3 48.2L96.5 42.8M110.1 48.2L104.3 43.5M115.2 48.2L109.5 44.2M122.9 48.2L117.5 45.3M128.0 48.2L123.0 46.0M135.8 48.2L131.4 46.8M140.9 48.2L136.8 47.2M148.7 48.2L144.5 47.6M63.8 56.4L62.1 61.3M71.5 56.4L67.8 54.3M76.6 56.4L73.3 51.9M84.4 56.4L80.9 49.8M89.5 56.4L86.0 49.4M97.2 56.4L93.6 49.3M102.3 56.4L98.4 49.5M110.1 56.4L105.6 50.2M115.2 56.4L110.6 51.5M122.9 56.4L118.3 53.3M128.0 56.4L123.5 53.9M135.8 56.4L131.8 54.9M140.9 56.4L137.3 55.3M148.7 56.4L145.0 55.7M71.5 62.5L73.7 58.7M76.6 62.5L77.1 56.9M84.4 62.5L83.8 54.9M89.5 62.5L88.5 54.7M97.2 62.5L96.1 54.6M102.3 62.5L101.3 54.6M110.1 62.5L110.2 55.4M115.2 62.5L116.6 56.9M122.9 62.5L125.6 58.9M128.0 62.5L130.8 59.7M135.8 62.5L138.4 60.7M140.9 62.5L143.4 61.1M148.7 62.5L151.5 61.3M71.5 70.7L77.4 67.2M76.6 70.7L81.2 64.9M84.4 70.7L87.1 63.3M89.5 70.7L91.4 63.0M97.2 70.7L98.6 62.8M102.3 70.7L103.8 63.4M110.1 70.7L111.8 65.9M115.2 70.7L117.1 67.2M122.9 70.7L124.8 68.7M128.0 70.7L129.8 69.2M135.8 70.7L137.6 69.5M140.9 70.7L143.0 69.6M148.7 70.7L151.5 69.6M63.8 76.8L71.7 76.3M71.5 76.8L78.6 73.1M76.6 76.8L82.5 71.5M84.4 76.8L88.5 70.0M89.5 76.8L92.8 69.5M97.2 76.8L99.4 70.7M102.3 76.8L104.0 72.2M110.1 76.8L111.5 74.0M115.2 76.8L116.5 74.9M122.9 76.8L124.4 75.5M128.0 76.8L129.5 75.7M135.8 76.8L137.7 75.7M140.9 76.8L143.1 75.8M148.7 76.8L151.0 75.9M58.7 85.0L62.6 84.7M63.8 85.0L68.5 84.0M71.5 85.0L77.3 82.0M76.6 85.0L82.6 80.4M84.4 85.0L88.6 79.9M89.5 85.0L92.7 80.1M97.2 85.0L99.0 81.6M102.3 85.0L103.5 82.8M110.1 85.0L110.9 83.8M115.2 85.0L115.7 84.5M122.9 85.0L123.9 84.3M128.0 85.0L128.5 84.7M135.8 85.0L137.4 84.2M140.9 85.0L142.8 84.2M148.7 85.0L150.8 84.3M58.7 91.1L61.7 90.5M63.8 91.1L67.1 90.0M71.5 91.1L75.4 88.9M76.6 91.1L80.7 88.0M84.4 91.1L87.8 87.4M89.5 91.1L92.1 87.6M97.2 91.1L98.7 88.7M102.3 91.1L103.4 89.5M110.1 91.1L110.4 90.8M115.2 91.1L115.4 90.9M122.9 91.1L123.7 90.6M128.0 91.1L128.4 90.9M135.8 91.1L137.1 90.5M140.9 91.1L142.5 90.5M148.7 91.1L150.8 90.5M50.9 99.3L53.2 98.6M58.7 99.3L60.8 98.5M63.8 99.3L66.2 98.2M71.5 99.3L74.6 97.3M76.6 99.3L80.0 96.6M84.4 99.3L87.3 96.2M89.5 99.3L91.7 96.5M97.2 99.3L98.4 97.7M102.3 99.3L102.9 98.6M110.1 99.3L110.3 99.1M115.2 99.3L116.0 98.7M122.9 99.3L124.5 98.5M128.0 99.3L129.6 98.6M135.8 99.3L137.3 98.7M140.9 99.3L142.6 98.8M148.7 99.3L150.8 98.7M45.8 105.4L47.6 104.6M50.9 105.4L52.8 104.5M58.7 105.4L60.7 104.3M63.8 105.4L65.9 104.1M71.5 105.4L73.9 103.6M76.6 105.4L79.4 103.0M84.4 105.4L86.9 102.6M89.5 105.4L91.4 103.0M97.2 105.4L97.7 104.8M102.3 105.4L102.5 105.2M110.1 105.4L110.5 105.0M115.2 105.4L116.3 104.7M122.9 105.4L124.6 104.7M128.0 105.4L129.7 104.8M135.8 105.4L137.4 104.9M140.9 105.4L142.6 104.9M148.7 105.4L150.5 104.9M45.8 113.6L46.9 112.9M50.9 113.6L52.1 112.8M58.7 113.6L60.3 112.5M63.8 113.6L65.5 112.3M71.5 113.6L73.3 112.1M76.6 113.6L78.5 111.7M84.4 113.6L86.0 111.8M89.5 113.6L90.7 112.0M97.2 113.6L97.7 112.9M102.3 113.6L102.7 113.2M110.1 113.6L111.0 112.9M115.2 113.6L116.5 112.9M122.9 113.6L124.6 113.0M128.0 113.6L129.7 113.1M135.8 113.6L137.4 113.2M140.9 113.6L142.6 113.2M148.7 113.6L150.3 113.3" stroke="#333" stroke-width="0.33" stroke-opacity="0.78" fill="none"/><path d="M44.9 7.2L47.6 5.6L48.0 7.0ZM52.6 6.9L55.3 5.4L55.7 6.8ZM57.4 6.7L60.2 5.4L60.5 6.8ZM64.2 6.4L67.1 5.2L67.3 6.6ZM68.6 6.2L71.5 5.1L71.7 6.6ZM76.2 6.1L79.1 5.1L79.3 6.5ZM81.5 6.1L84.4 5.1L84.6 6.5ZM88.6 6.3L91.5 5.3L91.7 6.7ZM93.4 6.6L96.3 5.5L96.5 6.9ZM101.0 7.3L103.8 5.9L104.1 7.3ZM105.7 7.9L108.4 6.4L108.7 7.8ZM113.0 8.9L115.6 7.2L116.1 8.5ZM118.3 9.1L120.8 7.4L121.3 8.7ZM125.7 9.8L128.2 7.9L128.8 9.2ZM131.0 10.0L133.4 8.1L134.0 9.4ZM138.9 10.4L141.2 8.4L141.9 9.7ZM52.8 15.4L55.4 13.8L55.9 15.2ZM57.3 15.2L60.0 13.7L60.4 15.1ZM63.8 14.7L66.6 13.5L66.9 14.9ZM68.3 14.3L71.2 13.3L71.3 14.7ZM75.7 13.9L78.6 13.0L78.7 14.5ZM80.6 13.8L83.6 13.0L83.7 14.4ZM87.7 13.8L90.6 13.0L90.7 14.4ZM92.6 14.0L95.5 13.2L95.6 14.6ZM100.4 14.6L103.3 13.6L103.5 15.0ZM105.2 15.3L108.0 14.0L108.3 15.5ZM112.8 16.2L115.5 14.8L115.8 16.2ZM118.2 16.6L120.8 15.0L121.3 16.4ZM125.9 17.3L128.5 15.5L129.0 16.9ZM130.9 17.7L133.4 15.9L134.0 17.2ZM138.9 18.2L141.3 16.3L141.9 17.6ZM52.9 21.8L55.5 20.1L56.0 21.4ZM57.1 21.6L59.8 20.0L60.2 21.4ZM62.9 20.9L65.8 19.8L66.0 21.2ZM67.5 20.3L70.4 19.3L70.5 20.8ZM74.5 19.6L77.5 18.8L77.5 20.3ZM79.1 19.2L82.1 18.6L82.0 20.0ZM86.7 19.1L89.8 18.5L89.7 19.9ZM91.9 19.2L94.9 18.6L94.8 20.1ZM99.6 19.9L102.6 19.1L102.6 20.5ZM104.7 20.6L107.6 19.6L107.7 21.0ZM112.9 21.6L115.7 20.3L115.9 21.7ZM118.6 21.9L121.4 20.5L121.7 21.9ZM127.5 22.3L130.1 20.7L130.6 22.1ZM133.1 22.6L135.6 20.8L136.2 22.2ZM141.0 23.0L143.5 21.2L144.1 22.5ZM53.1 30.5L55.5 28.6L56.1 29.9ZM58.1 29.8L60.7 28.1L61.2 29.5ZM61.8 29.3L64.6 28.1L64.8 29.5ZM65.7 28.1L68.6 27.3L68.7 28.8ZM73.5 26.6L76.5 26.2L76.4 27.6ZM78.7 25.9L81.7 25.7L81.5 27.1ZM86.5 25.4L89.6 25.4L89.3 26.8ZM91.6 25.5L94.7 25.4L94.4 26.8ZM99.7 26.0L102.8 25.8L102.6 27.2ZM105.1 26.7L108.2 26.3L108.0 27.7ZM113.9 27.7L116.9 27.0L116.9 28.4ZM120.0 28.2L123.0 27.3L123.1 28.7ZM129.0 28.7L131.9 27.6L132.1 29.0ZM134.5 29.0L137.3 27.7L137.6 29.2ZM142.4 29.4L145.1 28.0L145.4 29.4ZM52.0 37.9L54.2 35.8L54.9 37.0ZM55.7 37.2L58.2 35.4L58.8 36.8ZM60.6 35.4L63.6 34.2L63.7 35.7ZM65.7 33.6L68.7 32.9L68.7 34.5ZM73.6 31.6L76.7 31.5L76.4 32.9ZM79.0 30.7L82.1 30.9L81.6 32.3ZM86.9 30.1L90.0 30.4L89.5 31.8ZM92.1 30.0L95.1 30.4L94.6 31.8ZM100.1 30.6L103.2 30.9L102.8 32.2ZM105.6 31.3L108.7 31.4L108.3 32.7ZM114.4 32.4L117.4 32.2L117.2 33.6ZM120.6 33.1L123.7 32.7L123.5 34.1ZM129.5 33.8L132.5 33.1L132.5 34.6ZM134.9 34.1L137.8 33.3L137.9 34.7ZM142.7 34.6L145.6 33.5L145.7 35.0ZM60.6 43.1L63.7 42.0L63.8 43.6ZM65.8 40.4L69.2 40.1L68.9 41.8ZM74.3 37.7L77.5 38.2L76.9 39.7ZM79.9 36.8L82.9 37.6L82.2 38.9ZM88.0 36.2L90.9 37.2L90.1 38.4ZM93.1 36.1L96.0 37.2L95.2 38.4ZM101.0 36.8L104.0 37.7L103.3 38.9ZM106.3 37.5L109.3 38.3L108.7 39.5ZM114.6 38.8L117.7 39.2L117.1 40.5ZM120.5 39.6L123.6 39.9L123.2 41.3ZM129.2 40.6L132.3 40.6L131.9 42.0ZM134.5 41.1L137.6 40.8L137.4 42.3ZM142.2 41.6L145.3 41.1L145.1 42.5ZM61.5 48.2L65.0 47.2L65.0 49.2ZM66.6 44.6L70.2 44.8L69.6 46.7ZM75.6 41.7L78.8 42.9L77.7 44.4ZM81.2 40.9L84.1 42.4L83.1 43.6ZM89.3 40.6L91.9 42.2L91.0 43.2ZM94.2 40.8L96.9 42.3L96.0 43.3ZM101.9 41.7L104.7 43.0L103.8 44.1ZM107.0 42.5L109.9 43.7L109.1 44.8ZM114.8 43.9L117.8 44.7L117.1 45.9ZM120.2 44.8L123.2 45.3L122.7 46.6ZM128.5 45.9L131.6 46.1L131.2 47.5ZM133.9 46.5L137.0 46.5L136.6 47.9ZM141.5 47.1L144.6 46.8L144.4 48.3ZM61.2 64.2L61.4 61.1L62.8 61.5ZM64.8 52.6L68.2 53.4L67.3 55.1ZM71.3 49.0L74.1 51.3L72.6 52.4ZM79.3 46.7L81.8 49.3L80.0 50.2ZM84.6 46.6L86.7 49.0L85.3 49.7ZM92.2 46.6L94.2 49.0L92.9 49.7ZM96.9 46.9L99.0 49.1L97.8 49.8ZM103.8 47.8L106.2 49.8L105.0 50.6ZM108.6 49.3L111.2 51.0L110.1 52.0ZM115.8 51.6L118.7 52.7L117.9 53.9ZM120.8 52.5L123.8 53.3L123.1 54.6ZM129.0 53.8L132.1 54.2L131.6 55.6ZM134.4 54.5L137.5 54.6L137.1 56.0ZM142.1 55.1L145.2 55.0L144.9 56.4ZM75.4 55.7L74.5 59.2L72.9 58.3ZM77.4 53.4L78.1 57.0L76.2 56.8ZM83.5 51.5L84.7 54.9L82.9 55.0ZM88.2 51.6L89.3 54.6L87.8 54.8ZM95.6 51.6L96.8 54.5L95.3 54.7ZM101.0 51.6L102.1 54.5L100.6 54.7ZM110.3 52.4L110.9 55.4L109.5 55.4ZM117.3 54.0L117.3 57.0L115.9 56.7ZM127.3 56.5L126.1 59.3L125.0 58.5ZM132.8 57.5L131.3 60.2L130.2 59.2ZM140.8 58.9L138.8 61.2L137.9 60.1ZM146.0 59.5L143.8 61.7L143.0 60.4ZM154.3 60.1L151.8 61.9L151.2 60.6ZM80.1 65.5L77.8 67.9L76.9 66.5ZM83.2 62.3L81.9 65.4L80.5 64.4ZM88.2 60.4L87.8 63.6L86.4 63.1ZM92.1 60.0L92.1 63.2L90.7 62.8ZM99.1 59.9L99.3 62.9L97.9 62.7ZM104.4 60.4L104.6 63.5L103.1 63.2ZM112.8 63.1L112.5 66.1L111.1 65.6ZM118.5 64.6L117.7 67.6L116.4 66.9ZM126.8 66.5L125.3 69.2L124.2 68.2ZM132.0 67.3L130.2 69.8L129.3 68.7ZM140.1 68.0L138.0 70.1L137.3 68.9ZM145.6 68.3L143.3 70.3L142.6 69.0ZM154.3 68.5L151.8 70.3L151.3 68.9ZM74.7 76.1L71.7 77.0L71.6 75.6ZM81.3 71.7L78.9 73.8L78.2 72.4ZM84.8 69.4L83.0 72.1L82.0 70.9ZM90.1 67.4L89.2 70.4L87.9 69.6ZM94.1 66.8L93.5 69.8L92.2 69.2ZM100.3 67.8L100.0 70.9L98.7 70.4ZM105.1 69.4L104.7 72.4L103.4 71.9ZM112.9 71.3L112.2 74.3L110.9 73.7ZM118.3 72.4L117.1 75.3L115.9 74.5ZM126.3 73.7L124.8 76.0L123.9 75.0ZM131.6 74.1L130.0 76.2L129.1 75.1ZM140.1 74.3L138.0 76.4L137.3 75.1ZM145.8 74.5L143.4 76.4L142.7 75.1ZM153.9 74.9L151.3 76.6L150.8 75.3ZM65.6 84.5L62.7 85.5L62.6 84.0ZM71.4 83.3L68.6 84.7L68.3 83.3ZM80.0 80.6L77.6 82.6L77.0 81.3ZM85.0 78.6L83.0 81.0L82.1 79.8ZM90.5 77.5L89.2 80.3L88.1 79.4ZM94.3 77.6L93.3 80.5L92.1 79.7ZM100.4 78.9L99.6 81.9L98.4 81.2ZM105.0 80.1L104.2 83.1L102.9 82.4ZM112.2 82.0L111.5 84.2L110.3 83.4ZM116.9 83.2L116.2 84.9L115.2 84.0ZM125.5 83.1L124.3 84.9L123.5 83.7ZM129.8 83.9L128.9 85.3L128.1 84.1ZM139.6 83.1L137.7 84.9L137.0 83.6ZM145.4 83.1L143.1 84.9L142.5 83.5ZM153.5 83.4L151.0 85.0L150.5 83.6ZM64.7 89.9L61.9 91.2L61.6 89.8ZM70.0 89.1L67.3 90.7L66.9 89.3ZM78.0 87.4L75.7 89.5L75.0 88.3ZM83.1 86.2L81.1 88.6L80.2 87.5ZM89.8 85.2L88.3 87.9L87.2 86.9ZM93.9 85.2L92.7 88.0L91.5 87.2ZM100.2 86.2L99.3 89.1L98.1 88.4ZM104.8 87.3L104.0 89.9L102.8 89.1ZM111.3 89.7L110.9 91.2L109.8 90.3ZM116.3 90.1L115.9 91.5L114.9 90.4ZM125.3 89.7L124.1 91.2L123.3 90.0ZM129.6 90.3L128.7 91.6L128.0 90.3ZM139.2 89.6L137.4 91.2L136.8 89.9ZM144.9 89.6L142.8 91.2L142.3 89.8ZM153.6 89.6L151.0 91.1L150.6 89.8ZM56.0 97.8L53.4 99.3L53.0 97.9ZM63.6 97.4L61.1 99.1L60.6 97.8ZM68.9 96.9L66.5 98.8L65.9 97.5ZM77.1 95.6L75.0 97.9L74.2 96.7ZM82.3 94.7L80.4 97.2L79.5 96.0ZM89.4 94.0L87.8 96.7L86.8 95.7ZM93.6 94.2L92.3 97.0L91.1 96.1ZM99.9 95.5L98.9 98.1L97.8 97.3ZM104.0 97.1L103.5 99.0L102.3 98.2ZM111.2 98.3L110.8 99.7L109.8 98.6ZM117.5 97.6L116.4 99.3L115.5 98.2ZM126.7 97.4L124.8 99.2L124.2 97.9ZM131.8 97.6L129.9 99.3L129.3 98.0ZM139.6 97.9L137.6 99.4L137.1 98.1ZM144.9 98.0L142.8 99.5L142.3 98.1ZM153.6 98.0L151.0 99.4L150.6 98.0ZM50.1 103.5L47.9 105.3L47.4 104.0ZM55.4 103.4L53.1 105.2L52.5 103.9ZM63.4 102.9L61.1 105.0L60.4 103.7ZM68.4 102.6L66.2 104.8L65.5 103.5ZM76.3 101.8L74.3 104.2L73.5 103.1ZM81.7 101.0L79.9 103.5L78.9 102.4ZM89.0 100.4L87.5 103.1L86.4 102.1ZM93.3 100.7L91.9 103.5L90.8 102.6ZM98.7 103.4L98.3 105.2L97.1 104.4ZM103.3 104.2L103.1 105.7L101.9 104.8ZM111.7 104.0L111.0 105.6L110.1 104.5ZM118.2 103.5L116.7 105.3L115.9 104.1ZM127.0 103.7L124.9 105.4L124.4 104.0ZM132.1 103.9L130.0 105.4L129.5 104.1ZM139.8 104.1L137.6 105.6L137.2 104.2ZM145.0 104.2L142.8 105.6L142.4 104.2ZM153.2 104.3L150.7 105.6L150.4 104.2ZM48.6 111.7L47.3 113.5L46.5 112.3ZM54.0 111.5L52.5 113.4L51.7 112.2ZM62.4 110.9L60.7 113.0L59.8 111.9ZM67.7 110.5L65.9 112.9L65.0 111.7ZM75.5 110.1L73.7 112.6L72.8 111.5ZM80.6 109.6L79.0 112.2L78.0 111.2ZM87.9 109.5L86.5 112.2L85.4 111.3ZM92.4 109.8L91.3 112.4L90.2 111.6ZM98.8 111.5L98.3 113.3L97.2 112.5ZM103.6 112.1L103.2 113.7L102.1 112.8ZM112.6 111.7L111.4 113.5L110.5 112.3ZM118.4 111.9L116.8 113.6L116.1 112.3ZM127.0 112.2L124.8 113.7L124.4 112.4ZM132.1 112.4L129.9 113.8L129.5 112.4ZM139.8 112.5L137.6 113.9L137.3 112.5ZM145.0 112.6L142.7 113.9L142.4 112.5ZM152.7 112.8L150.4 114.0L150.1 112.6Z" fill="#222" fill-opacity="0.8"/><path d="M7.3 6.3L6.5 8.5M12.4 6.3L11.6 8.5M20.1 6.3L19.4 8.5M25.2 6.3L24.5 8.5M33.0 6.3L32.2 8.5M38.1 6.3L37.3 8.5M45.8 6.3L45.0 8.5M7.3 14.5L6.5 16.7M12.4 14.5L11.6 16.7M20.1 14.5L19.4 16.7M25.2 14.5L24.5 16.7M33.0 14.5L32.2 16.7M38.1 14.5L37.2 16.8M45.8 14.5L44.9 16.8M50.9 14.5L50.0 16.9M7.3 20.6L6.5 22.8M12.4 20.6L11.6 22.8M20.1 20.6L19.4 22.8M25.2 20.6L24.4 22.8M33.0 20.6L32.1 22.9M38.1 20.6L37.2 23.0M45.8 20.6L44.8 23.1M50.9 20.6L49.8 23.1M7.3 28.8L6.5 31.0M12.4 28.8L11.6 31.0M20.1 28.8L19.3 31.1M25.2 28.8L24.4 31.1M33.0 28.8L32.0 31.2M38.1 28.8L37.0 31.4M45.8 28.8L44.5 31.5M50.9 28.8L49.5 31.7M7.3 34.9L6.5 37.1M12.4 34.9L11.6 37.1M20.1 34.9L19.3 37.2M25.2 34.9L24.3 37.3M33.0 34.9L32.0 37.5M38.1 34.9L36.9 37.6M45.8 34.9L44.3 37.9M50.9 34.9L49.1 38.1M7.3 43.1L6.5 45.3M12.4 43.1L11.6 45.3M20.1 43.1L19.3 45.5M25.2 43.1L24.3 45.6M33.0 43.1L31.9 45.9M38.1 43.1L36.8 46.2M45.8 43.1L44.2 46.7M50.9 43.1L49.4 46.0M58.7 43.1L56.4 46.1M63.8 43.1L60.8 45.7M7.3 49.2L6.5 51.4M12.4 49.2L11.6 51.5M20.1 49.2L19.3 51.6M25.2 49.2L24.3 51.8M33.0 49.2L31.9 52.2M38.1 49.2L36.9 52.5M45.8 49.2L44.8 52.2M50.9 49.2L49.6 52.6M58.7 49.2L56.4 52.8M63.8 49.2L60.4 52.2M7.3 57.4L7.5 59.8M12.4 57.4L12.6 59.8M20.1 57.4L20.3 60.0M25.2 57.4L25.4 60.2M33.0 57.4L33.1 60.7M38.1 57.4L38.3 61.1M45.8 57.4L46.0 60.8M50.9 57.4L51.1 61.4M58.7 57.4L58.5 62.2M7.3 63.5L7.5 65.8M12.4 63.5L12.7 65.9M20.1 63.5L20.5 66.1M25.2 63.5L25.7 66.3M33.0 63.5L33.6 66.7M38.1 63.5L38.9 67.1M45.8 63.5L46.8 66.8M50.9 63.5L52.3 67.3M58.7 63.5L61.1 67.6M63.8 63.5L67.5 67.0M7.3 71.7L7.6 74.0M12.4 71.7L12.7 74.1M20.1 71.7L20.6 74.2M25.2 71.7L25.8 74.4M33.0 71.7L33.8 74.7M38.1 71.7L39.3 75.0M45.8 71.7L47.3 74.5M50.9 71.7L53.1 74.7M58.7 71.7L62.2 74.2M63.8 71.7L68.2 72.9M7.3 77.8L7.6 80.1M12.4 77.8L12.7 80.2M20.1 77.8L20.5 80.3M25.2 77.8L25.8 80.4M33.0 77.8L33.8 80.7M38.1 77.8L39.2 80.9M45.8 77.8L47.8 81.2M50.9 77.8L52.9 80.4M58.7 77.8L61.8 79.9M7.3 86.0L7.5 88.3M12.4 86.0L12.7 88.3M20.1 86.0L20.5 88.4M25.2 86.0L25.7 88.5M33.0 86.0L33.6 88.7M38.1 86.0L39.0 88.9M45.8 86.0L47.2 89.1M50.9 86.0L52.8 89.2M7.3 92.1L7.5 94.4M12.4 92.1L12.7 94.4M20.1 92.1L20.4 94.5M25.2 92.1L25.6 94.5M33.0 92.1L33.5 94.7M38.1 92.1L38.7 94.8M45.8 92.1L46.8 95.0M50.9 92.1L52.2 95.1M7.3 100.3L7.5 102.6M12.4 100.3L12.6 102.6M20.1 100.3L20.4 102.6M25.2 100.3L25.5 102.7M33.0 100.3L33.4 102.7M38.1 100.3L38.5 102.8M45.8 100.3L46.4 102.9M7.3 106.4L7.5 108.7M12.4 106.4L12.6 108.7M20.1 106.4L20.4 108.7M25.2 106.4L25.5 108.7M33.0 106.4L33.3 108.8M38.1 106.4L38.4 108.8M7.3 114.6L7.5 116.9M12.4 114.6L12.6 116.9M20.1 114.6L20.4 116.9M25.2 114.6L25.5 116.9M33.0 114.6L33.3 116.9M38.1 114.6L38.4 116.9" stroke="#444" stroke-width="0.32" stroke-opacity="0.7" fill="none"/><path d="M5.9 10.3L6.0 8.3L7.1 8.7ZM11.0 10.3L11.1 8.3L12.2 8.7ZM18.7 10.3L18.9 8.3L19.9 8.7ZM23.8 10.3L24.0 8.3L25.0 8.7ZM31.6 10.3L31.7 8.3L32.7 8.7ZM36.7 10.3L36.8 8.3L37.8 8.7ZM44.4 10.3L44.5 8.3L45.5 8.7ZM5.9 18.5L6.0 16.5L7.1 16.9ZM11.0 18.5L11.1 16.5L12.2 16.9ZM18.7 18.5L18.9 16.5L19.9 16.9ZM23.8 18.5L23.9 16.5L25.0 16.9ZM31.5 18.5L31.7 16.6L32.7 16.9ZM36.6 18.6L36.7 16.6L37.8 17.0ZM44.2 18.6L44.4 16.6L45.4 17.0ZM49.3 18.6L49.5 16.7L50.5 17.1ZM5.9 24.6L6.0 22.6L7.1 23.0ZM11.0 24.6L11.1 22.6L12.1 23.0ZM18.7 24.6L18.8 22.6L19.9 23.0ZM23.8 24.6L23.9 22.7L24.9 23.0ZM31.4 24.7L31.6 22.7L32.6 23.1ZM36.5 24.7L36.7 22.8L37.7 23.2ZM44.1 24.8L44.3 22.9L45.3 23.3ZM49.0 24.9L49.3 22.9L50.3 23.4ZM5.9 32.8L6.0 30.8L7.0 31.2ZM11.0 32.8L11.1 30.8L12.1 31.2ZM18.7 32.8L18.8 30.9L19.8 31.2ZM23.7 32.9L23.9 30.9L24.9 31.3ZM31.3 33.0L31.5 31.0L32.5 31.4ZM36.3 33.1L36.5 31.1L37.5 31.6ZM43.7 33.3L44.1 31.3L45.0 31.8ZM48.6 33.3L49.0 31.4L49.9 31.9ZM5.9 38.9L6.0 36.9L7.0 37.3ZM11.0 38.9L11.1 36.9L12.1 37.3ZM18.6 39.0L18.8 37.0L19.8 37.4ZM23.7 39.0L23.8 37.1L24.9 37.5ZM31.2 39.2L31.4 37.3L32.5 37.7ZM36.2 39.4L36.4 37.4L37.4 37.9ZM43.5 39.6L43.9 37.7L44.8 38.2ZM48.2 39.8L48.7 37.8L49.6 38.4ZM5.9 47.1L6.0 45.1L7.0 45.5ZM10.9 47.1L11.1 45.2L12.1 45.5ZM18.6 47.2L18.8 45.3L19.8 45.6ZM23.6 47.4L23.8 45.4L24.8 45.8ZM31.2 47.7L31.4 45.7L32.4 46.1ZM36.1 47.9L36.3 46.0L37.4 46.4ZM43.4 48.4L43.7 46.4L44.7 46.9ZM48.0 48.6L48.8 45.6L50.1 46.3ZM54.5 48.4L55.8 45.6L56.9 46.5ZM58.5 47.7L60.3 45.2L61.3 46.3ZM5.9 53.2L6.0 51.2L7.0 51.6ZM10.9 53.2L11.1 51.3L12.1 51.6ZM18.6 53.4L18.7 51.4L19.8 51.8ZM23.6 53.5L23.8 51.6L24.8 52.0ZM31.3 53.9L31.4 52.0L32.4 52.4ZM36.3 54.3L36.4 52.3L37.4 52.7ZM43.8 55.0L44.1 51.9L45.5 52.4ZM48.5 55.4L48.9 52.3L50.3 52.9ZM54.7 55.4L55.8 52.4L57.0 53.2ZM58.1 54.2L59.9 51.7L60.8 52.8ZM7.7 61.6L7.0 59.8L8.0 59.7ZM12.7 61.7L12.0 59.9L13.1 59.8ZM20.4 61.9L19.7 60.0L20.8 60.0ZM25.4 62.1L24.8 60.2L25.9 60.2ZM33.2 62.6L32.6 60.7L33.7 60.7ZM38.4 63.0L37.7 61.1L38.8 61.1ZM46.2 63.8L45.3 60.9L46.8 60.8ZM51.3 64.4L50.4 61.4L51.9 61.4ZM58.3 65.1L57.8 62.1L59.2 62.2ZM7.7 67.7L7.0 65.9L8.1 65.8ZM12.9 67.8L12.2 66.0L13.2 65.8ZM20.8 67.9L20.0 66.1L21.1 66.0ZM26.0 68.1L25.1 66.3L26.2 66.2ZM33.9 68.6L33.1 66.8L34.1 66.6ZM39.3 69.0L38.4 67.2L39.4 67.0ZM47.7 69.7L46.1 67.0L47.5 66.6ZM53.4 70.1L51.6 67.5L53.0 67.0ZM62.5 70.2L60.4 68.0L61.7 67.3ZM69.6 69.1L67.0 67.5L68.0 66.5ZM7.8 75.9L7.0 74.1L8.1 74.0ZM12.9 76.0L12.2 74.2L13.2 74.0ZM20.9 76.1L20.0 74.3L21.1 74.1ZM26.2 76.2L25.3 74.5L26.3 74.3ZM34.4 76.6L33.3 74.9L34.4 74.6ZM39.9 76.8L38.8 75.2L39.8 74.9ZM48.7 77.2L46.7 74.8L48.0 74.2ZM54.8 77.1L52.5 75.1L53.7 74.3ZM64.7 75.9L61.8 74.8L62.6 73.6ZM71.1 73.7L68.0 73.6L68.4 72.2ZM7.8 82.0L7.0 80.2L8.1 80.1ZM12.9 82.1L12.1 80.2L13.2 80.1ZM20.8 82.2L20.0 80.4L21.1 80.2ZM26.1 82.3L25.2 80.5L26.3 80.3ZM34.3 82.5L33.3 80.8L34.3 80.6ZM39.9 82.7L38.7 81.1L39.7 80.7ZM48.7 82.9L47.3 81.5L48.2 81.0ZM54.8 82.7L52.4 80.8L53.5 79.9ZM64.3 81.6L61.4 80.5L62.2 79.3ZM7.7 90.2L7.0 88.4L8.1 88.3ZM12.9 90.2L12.1 88.4L13.2 88.3ZM20.7 90.3L19.9 88.5L21.0 88.3ZM26.0 90.4L25.1 88.6L26.2 88.4ZM34.1 90.6L33.1 88.8L34.2 88.6ZM39.5 90.7L38.4 89.0L39.5 88.7ZM48.0 90.8L46.7 89.3L47.7 88.9ZM53.8 90.8L52.4 89.4L53.3 88.9ZM7.7 96.3L7.0 94.5L8.1 94.4ZM12.9 96.3L12.1 94.5L13.2 94.4ZM20.7 96.4L19.9 94.5L21.0 94.4ZM25.9 96.4L25.1 94.6L26.1 94.5ZM33.8 96.5L32.9 94.8L34.0 94.6ZM39.2 96.6L38.2 94.9L39.3 94.7ZM47.4 96.8L46.3 95.2L47.3 94.8ZM52.9 96.8L51.7 95.3L52.7 94.9ZM7.7 104.5L7.0 102.7L8.1 102.5ZM12.8 104.5L12.1 102.7L13.2 102.6ZM20.6 104.5L19.9 102.7L21.0 102.6ZM25.8 104.6L25.0 102.7L26.1 102.6ZM33.6 104.6L32.8 102.8L33.9 102.7ZM38.8 104.7L38.0 102.9L39.1 102.7ZM46.8 104.8L45.9 103.0L46.9 102.8ZM7.7 110.6L7.0 108.7L8.1 108.6ZM12.8 110.6L12.1 108.8L13.2 108.6ZM20.6 110.6L19.8 108.8L20.9 108.7ZM25.7 110.6L25.0 108.8L26.1 108.7ZM33.5 110.7L32.7 108.8L33.8 108.7ZM38.7 110.7L37.9 108.9L39.0 108.7ZM7.7 118.8L7.0 116.9L8.1 116.8ZM12.8 118.8L12.1 116.9L13.2 116.8ZM20.6 118.8L19.8 117.0L20.9 116.8ZM25.7 118.8L24.9 117.0L26.0 116.8ZM33.5 118.8L32.7 117.0L33.8 116.9ZM38.6 118.8L37.8 117.0L38.9 116.9Z" fill="#333" fill-opacity="0.72"/></g><text x="3.4" y="11.5" class="pl">(d)</text><text x="18.3" y="58.9" class="cn">China</text></g><text x="19.2" y="195.4" class="ax" text-anchor="end">31°N</text><text x="19.2" y="253.7" class="ax" text-anchor="end">26°N</text><text x="30.0" y="268.9" class="ax" text-anchor="middle">116°E</text><text x="80.0" y="268.9" class="ax" text-anchor="middle">121°E</text><text x="130.0" y="268.9" class="ax" text-anchor="middle">126°E</text><g transform="translate(186.7,145.4)"><rect x="0" y="0" width="150.0" height="116.3" fill="#a9cfe4"/><g clip-path="url(#pc)"><path fill="#09386d" fill-rule="evenodd" d="M-1,-1 151,-1 151,118 -1,118Z"/><path fill="#124984" fill-rule="evenodd" d="M0,-1 151,-1 151,118 -1,118 -1,-1ZM112.7,87 111,87.8 110.2,89 109.4,93 105,95.4 103.9,97 102,102.3 98,105.5 97,106.8 96.6,110 98,112.2 100,112.8 102,112.1 105.2,108 110,103.4 111,100 110.4,94 114,91.8 115.1,90 114.8,88 114,87.3Z"/><path fill="#1c5c9f" fill-rule="evenodd" d="M0,-1 151,-1 151,118 -1,118 -1,-1ZM110.9,86 109,88 107,91.4 104,94.3 101,101 97,104.9 95.7,107 95.5,111 96.3,113 98,114.5 101,114.9 104,113.5 110,107 112,104 112.8,101 113.2,96 116,91.9 116.7,89 116,87.1 114.9,86 113,85.4ZM127.3,86 127,88.1 128,89.5 129,89.2 129.6,88 129.3,86 128,85.3Z"/><path fill="#266caf" fill-rule="evenodd" d="M0,-1 151,-1 151,118 110.1,118 111,113 114.7,104 115.8,96 118,92 118.6,90 118.3,88 117.2,86 115,84.3 113,83.8 111,84.3 108.8,86 102.5,94 99.3,101 94.9,106 94,109 94.3,113 95,115.2 97.3,118 60,118 59.8,111 61.7,104 61.1,101 60,100 59,100.1 58,101.2 56.3,106 55.1,108 53,109.4 51,109.9 46,110.2 -1,110 -1,-1ZM126.9,84 125.7,86 125.5,89 126.4,91 128,91.9 129,91.7 130,90.8 130.7,89 130.9,87 130.3,85 129.5,84 128,83.5ZM1,117 20,117 20,118 0,118 0,117ZM40,117 47,116.2 50,117 50,118 40,118Z"/><path fill="#327cb7" fill-rule="evenodd" d="M0,-1 151,-1 151,30 150,30 149.7,31 150,32.6 151,32.6 151,110 138,109.9 131,107.8 130,110 130,118 120,118 120,103 121,97.7 122,96.8 123.3,97 128,102.2 129,102.3 130,100.1 131.8,91 132.1,87 131,83.4 129,81.7 128,81.6 126,82.4 123,86.3 122,86.8 117,83.1 114,81.9 111,82.2 109,83.4 102.1,92 99,99 93.5,106 91.3,114 90.1,116 89.9,118 70,118 70.5,114 70.2,111 65,94.5 63,92.1 60,90 57,88.7 52,87.8 51.3,87 50.8,85 49.9,84 43.8,82 36,81.2 -1,81.5 -1,-1ZM65,53 64.5,54 65,54.4 66.4,54 66,52.8ZM1,90 34,90.2 49,89.5 50,90 50.5,91 51.3,97 50,100 48.8,101 47,101.6 38,99.5 34,99.1 16,100.1 -1,100 -1,90ZM140,117 150,117 150,118 140,118Z"/><path fill="#3c8abe" fill-rule="evenodd" d="M0,-1 151,-1 151,23.8 148,24.3 145,26 138.9,31 138,32 137.4,34 139,38.7 140,40 142,41.4 144,42 146,41.9 150,40 151,40 151,104.2 148,103.6 143,101.6 139,99.3 137,97.5 134.6,93 132.9,83 131.9,81 130,79.3 127,78.8 121,79.9 114,78.7 112,78.8 110,79.6 108,81.2 101.4,90 97.7,98 92.9,104 89,110.7 86,113.4 80,117 77,114.2 71.8,105 70.3,101 68.7,94 67.3,91 64,87.3 58,82.9 51,80.7 40,79.4 -1,79.4 -1,-1ZM65.4,52 64.1,53 63.6,54 65,55.1 66,54.9 67.2,54 67,52.5 66,51.9Z"/><path fill="#4f9bc7" fill-rule="evenodd" d="M21,-1 40,-1 40,0 46,0.2 50,0 50,-1 60,-1 60,0 61,0.8 65,1.4 69,0.5 70,0 70,-1 151,-1 151,20 147,20.5 143,22 138,25.3 131,29 130,30 129.3,32 130.1,34 133,37.2 136,42 139,44.8 142,46 145,46.3 151,44.9 151,100 150,100 143,97.1 138.6,94 136.7,90 135.6,81 134.7,78 132.9,76 129,74.8 114,75.3 111,75.9 108,77.6 105.7,80 99.6,89 95,98.3 87,107.8 84,109.8 82,110.2 79,109.6 76,107.3 73,102 71.1,93 69.4,89 64.8,84 59.9,81 52,79 42,78 -1,77.9 -1,20 34,20.2 47,19.4 51,20.3 56,23.2 58,23.7 59,22.9 60.4,19 60.8,16 59.6,8 58.7,5 58,3.9 57,3.4 55,4.1 50,10 47,11.2 34,9.5 15,10.1 -1,10 -1,0 20,0 20,-1ZM58.6,25 58.6,28 59.6,30 61,30.9 63,30.3 63.9,28 63,25.7 62,24.8 60,24.1 59,24.1ZM64.3,52 63,54 63.5,55 65,55.4 67,54.8 67.7,53 67,51.5 66,51Z"/><path fill="#6bacd1" fill-rule="evenodd" d="M81,-1 90,-1 90,0 88.9,1 89.1,2 91,3.2 95,4 98,3 99.5,1 100,-1 151,-1 151,16.7 146,17.5 142,18.9 134.4,24 127.7,27 125.5,29 124.6,32 124.9,34 126,35.7 135.6,47 138,49 141,50.3 144,50.9 147,50.8 151,50 151,95.7 148,95.3 144,94 141.3,92 140,90 139.4,88 139.3,85 141.5,72 140,70 138,69.4 131,70 121,69.8 113,72.3 107.4,75 103.6,79 97.5,88 93.8,95 88,102.4 85,105.5 82,106.7 80,106.6 78,105.7 75.5,103 74.1,99 72.8,91 70.2,86 66,82 61,79.4 54,77.8 42,76.8 -1,76.7 -1,37.9 14,37.7 33,38.4 39.4,38 43.3,37 44.8,36 44.5,35 37.3,31 40,30 45,29.3 49,29.7 56,32.3 61,32.8 63,32.1 64.2,31 65.1,29 65,22 68.7,12 71,8.8 79.2,1 80,0 80,-1ZM64.5,51 62.5,54 62.7,55 65,55.8 67,55.2 68,54 68,52 67,50.8 66,50.5ZM0,30 20,30 27.7,31 24.5,32 20,32.4 7,32.9 -1,32.4 -1,30Z"/><path fill="#84bcd9" fill-rule="evenodd" d="M110,-1 151,-1 151,13.7 140,16.8 132,22.4 123.1,26 120.4,29 119.5,32 120.2,43 120,50 121,53.5 122,55 123,55.8 125,49.5 126,48.2 127,48.1 130,50 136,56.5 140.8,59 140,60 134,60.3 130,60 126,58.6 123,56.1 115,66 107,72.2 103,76 92,92.3 84,103 81,103.9 79,103.3 77.5,102 76,99 74.6,90 72.7,86 68.1,81 62,78 55,76.7 43,75.8 -1,75.7 -1,40.8 38,41 46.8,40 56,37.5 64,33.1 65.9,30 68,23.1 73.4,15 77,11.5 80,10 83,9.5 96,10.5 100,10 103,8 107,2.5 110,0ZM65.5,50 64,50.8 61.9,54 62,55 64,56 67,55.6 68.3,54 67.8,51 67,50.2ZM147,60.4 151,60 151,70 150,70 149,64.4 146.3,61ZM150,80 151,80 151,90 147,90.1 145,88.5 144.6,86 146,83.6Z"/><path fill="#9dcbe1" fill-rule="evenodd" d="M121,-1 151,-1 151,10 150,10 146,12 137.3,15 132,18.9 129,20.4 125,21 120,20 117.7,18 117,16 117.1,15 119,12.5 120,10 120.4,6 120,-1ZM112,8.4 113,8.2 114.5,9 115.4,11 115.8,14 115.5,15 111,17.3 110,20 109.9,48 110.5,56 110,60 106.9,67 99,77 83,99.7 81,100.3 78.9,99 78,97 77.5,93 76.3,89 74.3,85 72.1,82 68.6,79 64.1,77 57,75.7 45,74.9 -1,74.8 -1,42.6 39,42.6 48,41.9 56,40.3 60,38.7 63,36.5 69.7,25 77,17.5 80,15.3 84,13.9 88,13.5 101,14.6 105,14.5 107,13.7 110,10ZM64.2,50 60.9,55 64,56.4 66,56.3 68.2,55 68.6,52 68,50.6 67,49.8 65,49.6Z"/><path fill="#b1d5e7" fill-rule="evenodd" d="M131,-1 140,-1 140,0 141,0.1 151,0 151,1.7 150,1.7 147.3,6 144,8.4 140,10 132,11.6 131,11.2 130,10 129.2,6 129.2,3 130,-1ZM86,16.8 90,16.3 94,16.8 97.4,18 100,20 100.9,23 99.8,27 99.8,29 100.9,32 104.1,37 104.6,41 103.9,44 100,50 99.1,53 101.1,66 100.4,69 91.8,83 89,86.4 84,91.1 82,91.7 81,91.1 72,79 68.9,77 64,75.5 56,74.5 43,73.9 -1,73.9 -1,44 40,44 51,43.2 58,41.9 61,40.7 63,39.2 68,29.8 71,25.8 74,23.6 78,21.6 82,18.6ZM63.5,50 62,52.5 59.3,55 65,56.8 68,55.7 69,53 68,50.1 66,49 65,49Z"/><path fill="#c7e0ed" fill-rule="evenodd" d="M86,20.9 89,20 91,20.1 93,20.8 94.3,22 94.9,24 94.8,28 95.5,31 99.2,37 100,40 99.3,43 95.5,48 94,52 94,56 95.7,67 95,71 90,80 87.6,83 85,85.2 83,85.9 81,85.5 79,84.1 74.9,79 72.5,77 68,74.8 64,74 43,72.9 -1,72.8 -1,45.2 42,45.1 53,44.4 60,43.3 63,41.8 68,31.9 70,28.9 71.9,27 75,25.2 81,24ZM63.7,49 61,52.9 58.5,54 57.7,55 59.3,56 65,57.3 68,56.1 68.8,55 69.2,53 68.3,50 66,48.5 65,48.4Z"/><path fill="#d7e8f1" fill-rule="evenodd" d="M74,27.7 77,27.1 83,28.5 86,28 88,28.3 91,31.4 94.1,36 95.2,39 94.8,42 90.8,48 89.7,51 89.5,55 90.5,66 90,70 87,76.7 84,80.4 83,80.8 81,80.6 75.5,76 70,73.3 67,72.5 46,71.6 -1,71.6 -1,46.4 43,46.3 55,45.7 62,44.7 64,43.6 67.5,35 69.9,31 72,28.9ZM63.6,48 61,52.2 56.7,54 56,55 57,55.9 65,57.9 68,56.6 69.4,54 69,50.8 67,48.3 65,47.5Z"/><path fill="#e4eef4" fill-rule="evenodd" d="M73,30 75,29.2 77,29.1 79,29.8 80.8,31 84.5,36 86.4,42 86.9,52 85.7,61 83,67.5 81,70.1 79,71.6 76,72.4 73,71.5 69.9,69 67.6,66 67,64.3 66.6,65 66.7,68 66.4,69 65,69.9 -1,70 -1,47.9 41,47.9 61,47.2 61.8,48 61,51 60,52 55,53.8 54.2,55 54.8,56 56,56.6 62.7,58 64.3,59 65,60.2 68.8,56 69.7,53 68.9,50 65.6,46 66.1,42 69,34.4 71,31.6ZM65.8,62 66,63.9 66.3,63 66,61.4ZM88,36.9 89,36.9 89.9,39 90,40 89,41.1 87.9,39Z"/><path fill="#f0f4f6" fill-rule="evenodd" d="M74,31.8 76,31.3 78,31.8 80,33.1 82,35.6 84.6,42 85.5,49 85,57 83,63.6 80,67.9 78,69.2 76,69.7 74,69.2 72,67.9 70,65.4 68.3,62 67.7,59 69.6,55 69.8,52 69.2,50 67.4,47 66.9,45 67.7,41 69.2,37 71.1,34ZM21,50 55,50.1 57,50.2 58.1,51 54,52.5 51.1,55 51,56 52,57.5 54,58.8 55.2,59 55,59.6 54,59.9 -1,60 -1,50ZM0,63.1 41,63.1 50,63.7 57.4,65 56.7,66 46.6,67 -1,67.2 -1,63.1Z"/><path fill="#f8f2ef" fill-rule="evenodd" d="M75,33.9 77,33.9 79,34.8 81.7,38 83.6,43 84.5,50 83.6,58 81.7,63 79,66.2 76,67.3 74,66.8 72,65.3 69.4,61 68.8,58 70.2,53 68.1,46 68.4,43 70.3,38 73,34.8Z"/><path fill="#fae9df" fill-rule="evenodd" d="M75,34.9 78,35.3 81,38.4 83.2,44 83.8,50 83.4,56 81.8,61 79,65 76,66.2 73,65 71,62.6 69.8,60 69.4,58 70.4,54 70.4,52 68.6,46 69.4,42 71,38.4 73,36Z"/><path fill="#fcdfcf" fill-rule="evenodd" d="M75,35.9 78,36.4 81,39.7 82.6,44 83.3,50 82.8,56 81.1,61 79,63.9 76,65.2 73,63.9 70.4,60 69.9,58 70.6,55 70.6,52 69.1,47 69.4,44 71,39.7 73,37.1Z"/><path fill="#fcd3bc" fill-rule="evenodd" d="M75,36.9 78,37.4 80.4,40 82,44 82.8,50 82.3,56 81,59.9 79,62.8 76,64.2 73,62.8 70.7,59 70.9,52 69.6,47 70,44 71,41.1 73,38.2Z"/><path fill="#f8bfa4" fill-rule="evenodd" d="M76,37.9 78,38.6 80,40.8 81.9,46 82.2,50 81.9,55 80.6,59 78.5,62 76,63.1 73.5,62 71.5,59 71.1,57 71.7,53 70.2,47 71,43 72,40.8 74,38.6Z"/><path fill="#f6af8e" fill-rule="evenodd" d="M75,39.6 77,39.6 79,41.1 80.5,44 81.4,48 81.3,54 80.1,58 78,60.9 76,61.6 74,60.9 72,57.9 72,56.6 73.2,55 73.2,54 70.9,47 72,42.8 73,41.1Z"/><path fill="#b7b7b7" d="M-2.0 -2.0L41.9 -2.0L41.9 0.0L44.2 1.7L48.7 3.5L52.4 7.2L54.7 11.7L55.6 16.3L56.5 21.8L57.4 25.0L57.9 27.1L59.9 30.0L62.1 32.8L59.0 33.8L55.5 34.2L58.5 36.8L62.5 38.9L65.5 40.6L68.5 42.3L69.2 43.8L68.6 46.0L67.5 48.3L66.5 50.0L63.0 51.6L59.0 52.4L55.3 53.6L58.0 55.9L62.0 56.6L66.0 56.9L68.3 57.4L67.2 59.5L67.0 60.0L66.5 62.0L67.0 64.3L66.0 67.6L66.5 70.9L65.4 74.2L63.5 77.0L61.5 79.0L59.6 81.9L56.5 86.5L53.4 90.4L50.4 93.4L47.3 96.5L45.8 100.3L46.5 103.4L44.2 107.3L43.4 111.1L41.1 114.2L39.6 117.0L39.6 119.0L-2.0 119.0Z"/><path fill="#b7b7b7" d="M58.0 35.2L61.5 35.6L65.5 36.8L68.2 38.2L67.2 38.9L63.0 37.9L59.5 36.6Z"/><path fill="#ecd2bd" d="M60.0 117.5L62.5 115.6L65.8 112.8L68.5 114.4L70.5 117.5Z"/><path fill="#ecd2bd" d="M114.0 16.8L115.5 16.0L117.2 16.0L117.8 16.8L116.5 17.6L114.8 17.6Z"/><path fill="#ecd2bd" d="M128.3 102.5L129.8 99.0L131.8 95.8L132.3 96.3L130.5 100.0L128.8 103.0Z"/><path fill="#ecd2bd" d="M143.0 79.5L145.5 77.5L147.0 78.0L145.0 80.0Z"/><path fill="#ecd2bd" d="M138.0 25.0L139.5 23.0L141.0 22.5L140.5 24.5Z"/><path fill="#ecd2bd" d="M148.0 27.0L149.0 23.5L150.5 22.0L150.5 29.0Z"/><path fill="#ecd2bd" d="M144.5 15.0L145.8 13.8L146.5 15.0L145.3 16.0Z"/><path fill="#ecd2bd" d="M126.0 0.5L128.0 0.0L129.0 1.2L127.0 1.6Z"/><path fill="#ecd2bd" d="M132.0 0.3L134.0 0.2L134.5 1.4L132.5 1.5Z"/><path fill="none" stroke="#d8d8d8" stroke-width="0.45" d="M12.0 64.0L16.0 60.0L20.0 55.0L25.0 50.0L30.0 46.0L35.0 42.0L40.0 39.0L45.0 37.0L50.0 36.5L56.5 35.8"/><path fill="none" stroke="#d8d8d8" stroke-width="0.45" d="M35.0 20.0L38.0 24.0L41.0 27.0L44.0 30.0L47.0 33.0L50.0 36.0"/><ellipse cx="35.5" cy="20.3" rx="1.9" ry="2.4" fill="#ececec"/><ellipse cx="33.4" cy="17.6" rx="1.0" ry="0.8" fill="#ececec"/><ellipse cx="37.5" cy="18.0" rx="0.8" ry="0.7" fill="#ececec"/><ellipse cx="29.5" cy="22.0" rx="0.7" ry="0.6" fill="#ececec"/><ellipse cx="23.6" cy="19.3" rx="0.6" ry="0.6" fill="#ececec"/><ellipse cx="42.0" cy="24.0" rx="0.8" ry="0.9" fill="#ececec"/><ellipse cx="45.5" cy="27.5" rx="0.8" ry="1.0" fill="#ececec"/><ellipse cx="32.0" cy="10.3" rx="0.6" ry="0.6" fill="#ececec"/><ellipse cx="52.7" cy="43.5" rx="2.0" ry="2.4" fill="#ececec"/><ellipse cx="50.0" cy="46.5" rx="0.9" ry="0.8" fill="#ececec"/><ellipse cx="31.0" cy="45.5" rx="1.4" ry="1.0" fill="#ececec"/><ellipse cx="25.7" cy="43.0" rx="0.6" ry="0.6" fill="#ececec"/><ellipse cx="22.0" cy="3.5" rx="0.7" ry="0.7" fill="#ececec"/><ellipse cx="26.0" cy="51.0" rx="0.8" ry="0.7" fill="#ececec"/><ellipse cx="15.0" cy="55.0" rx="0.7" ry="0.6" fill="#ececec"/><ellipse cx="6.0" cy="57.5" rx="0.8" ry="0.7" fill="#ececec"/><ellipse cx="8.6" cy="60.5" rx="0.7" ry="0.7" fill="#ececec"/><ellipse cx="10.0" cy="63.0" rx="1.0" ry="1.0" fill="#ececec"/><ellipse cx="11.5" cy="66.5" rx="1.2" ry="1.3" fill="#ececec"/><ellipse cx="12.5" cy="70.0" rx="1.0" ry="1.0" fill="#ececec"/><ellipse cx="13.5" cy="73.0" rx="0.8" ry="0.8" fill="#ececec"/><ellipse cx="5.0" cy="68.0" rx="0.7" ry="0.9" fill="#ececec"/><ellipse cx="5.5" cy="72.0" rx="0.6" ry="0.7" fill="#ececec"/><ellipse cx="60.0" cy="55.0" rx="0.8" ry="0.9" fill="#ececec"/><ellipse cx="66.0" cy="62.5" rx="0.7" ry="0.8" fill="#ececec"/><path d="M50.9 5.3L47.8 6.5M58.7 5.3L55.5 6.2M63.8 5.3L60.4 6.0M71.5 5.3L67.5 5.8M76.6 5.3L72.1 5.6M84.4 5.3L79.7 5.4M89.5 5.3L85.0 5.4M97.2 5.3L92.8 5.5M102.3 5.3L97.5 5.6M110.1 5.3L104.1 6.2M115.2 5.3L109.1 6.6M122.9 5.3L116.5 7.2M128.0 5.3L121.1 7.7M135.8 5.3L128.4 8.3M140.9 5.3L133.6 8.6M148.7 5.3L142.0 8.7M58.7 13.5L55.7 14.6M63.8 13.5L60.2 14.4M71.5 13.5L66.7 14.0M76.6 13.5L71.0 13.7M84.4 13.5L78.2 13.2M89.5 13.5L83.2 13.0M97.2 13.5L91.2 13.0M102.3 13.5L96.3 13.2M110.1 13.5L103.6 13.6M115.2 13.5L108.7 14.1M122.9 13.5L116.3 14.8M128.0 13.5L121.0 15.2M135.8 13.5L129.0 15.7M140.9 13.5L134.7 15.9M148.7 13.5L143.4 15.9M58.7 19.6L55.7 20.8M63.8 19.6L60.0 20.7M71.5 19.6L65.7 20.1M76.6 19.6L69.7 19.5M84.4 19.6L76.5 18.5M89.5 19.6L81.6 18.2M97.2 19.6L89.5 18.0M102.3 19.6L95.2 18.2M110.1 19.6L103.7 18.8M115.2 19.6L108.9 19.2M122.9 19.6L116.4 19.9M128.0 19.6L121.5 20.2M135.8 19.6L130.7 20.5M140.9 19.6L136.8 20.6M148.7 19.6L145.5 20.6M58.7 27.8L55.9 29.3M63.8 27.8L60.6 28.8M71.5 27.8L63.6 28.2M76.6 27.8L68.7 26.9M84.4 27.8L76.7 25.6M89.5 27.8L82.0 25.0M97.2 27.8L89.9 24.7M102.3 27.8L95.7 25.1M110.1 27.8L104.0 25.7M115.2 27.8L109.3 26.2M122.9 27.8L118.0 26.9M128.0 27.8L124.1 27.4M135.8 27.8L132.9 27.8M140.9 27.8L138.5 27.9M148.7 27.8L146.8 28.0M58.7 33.9L54.7 36.6M63.8 33.9L58.3 36.0M71.5 33.9L63.7 33.7M76.6 33.9L69.0 32.1M84.4 33.9L77.1 30.5M89.5 33.9L82.5 30.0M97.2 33.9L90.4 29.7M102.3 33.9L95.9 30.0M110.1 33.9L104.4 30.9M115.2 33.9L109.8 31.5M122.9 33.9L118.4 32.4M128.0 33.9L124.5 33.0M135.8 33.9L133.4 33.5M140.9 33.9L138.8 33.7M148.7 33.9L146.9 33.8M71.5 42.1L65.2 40.6M76.6 42.1L70.2 38.4M84.4 42.1L78.5 36.8M89.5 42.1L83.8 36.4M97.2 42.1L91.6 36.4M102.3 42.1L96.5 36.6M110.1 42.1L105.0 38.1M115.2 42.1L110.4 38.9M122.9 42.1L118.3 39.8M128.0 42.1L123.5 40.3M135.8 42.1L132.6 41.2M140.9 42.1L138.5 41.6M148.7 42.1L146.2 41.8M71.5 48.2L67.6 45.0M76.6 48.2L72.8 43.1M84.4 48.2L80.5 41.5M89.5 48.2L85.6 41.2M97.2 48.2L93.1 41.3M102.3 48.2L98.3 42.1M110.1 48.2L105.9 43.3M115.2 48.2L110.9 44.3M122.9 48.2L118.4 45.5M128.0 48.2L123.2 45.9M135.8 48.2L131.6 46.8M140.9 48.2L137.2 47.3M148.7 48.2L144.8 47.6M63.8 56.4L68.6 57.5M71.5 56.4L73.4 51.7M76.6 56.4L77.3 50.0M84.4 56.4L84.1 48.6M89.5 56.4L88.8 48.4M97.2 56.4L96.5 48.5M102.3 56.4L101.9 49.3M110.1 56.4L110.9 49.9M115.2 56.4L117.2 50.8M122.9 56.4L126.5 52.3M128.0 56.4L132.2 52.7M135.8 56.4L140.3 53.5M140.9 56.4L145.6 54.0M148.7 56.4L153.4 54.6M71.5 62.5L76.3 57.8M76.6 62.5L80.2 55.9M84.4 62.5L86.4 54.8M89.5 62.5L90.9 54.6M97.2 62.5L98.3 54.6M102.3 62.5L103.6 55.3M110.1 62.5L112.2 56.6M115.2 62.5L118.0 57.6M122.9 62.5L126.6 58.9M128.0 62.5L132.1 59.3M135.8 62.5L140.3 59.9M140.9 62.5L145.6 60.3M148.7 62.5L153.8 60.7M71.5 70.7L78.1 66.2M76.6 70.7L82.1 64.9M84.4 70.7L88.3 63.7M89.5 70.7L92.7 63.4M97.2 70.7L99.9 63.1M102.3 70.7L104.8 64.2M110.1 70.7L112.6 66.2M115.2 70.7L117.9 67.1M122.9 70.7L126.1 68.1M128.0 70.7L131.5 68.4M135.8 70.7L139.5 68.8M140.9 70.7L144.9 69.0M148.7 70.7L153.6 69.1M63.8 76.8L70.0 75.0M71.5 76.8L78.3 72.5M76.6 76.8L82.5 71.4M84.4 76.8L89.0 70.3M89.5 76.8L93.4 69.8M97.2 76.8L100.2 70.4M102.3 76.8L104.8 71.9M110.1 76.8L111.8 74.3M115.2 76.8L117.1 74.8M122.9 76.8L125.2 75.2M128.0 76.8L130.4 75.4M135.8 76.8L139.1 75.3M140.9 76.8L145.0 75.2M148.7 76.8L153.7 75.2M58.7 85.0L60.7 84.4M63.8 85.0L66.4 83.9M71.5 85.0L76.0 82.0M76.6 85.0L82.5 80.0M84.4 85.0L89.5 78.8M89.5 85.0L93.9 78.6M97.2 85.0L99.9 80.5M102.3 85.0L104.2 82.1M110.1 85.0L110.8 84.2M115.2 85.0L115.9 84.4M122.9 85.0L124.5 84.1M128.0 85.0L128.6 84.7M135.8 85.0L138.9 83.8M140.9 85.0L145.4 83.4M148.7 85.0L154.0 83.5M58.7 91.1L60.2 90.5M63.8 91.1L65.5 90.2M71.5 91.1L74.8 88.8M76.6 91.1L81.5 86.8M84.4 91.1L89.3 85.4M89.5 91.1L93.3 85.9M97.2 91.1L99.4 87.8M102.3 91.1L103.5 89.5M110.1 91.1L110.3 90.9M115.2 91.1L115.4 91.0M122.9 91.1L124.4 90.4M128.0 91.1L128.9 90.7M135.8 91.1L138.6 90.1M140.9 91.1L145.2 89.8M148.7 91.1L153.8 89.8M50.9 99.3L52.5 98.5M58.7 99.3L59.7 98.7M63.8 99.3L64.9 98.5M71.5 99.3L74.0 97.2M76.6 99.3L80.9 95.3M84.4 99.3L88.5 94.4M89.5 99.3L92.4 95.4M97.2 99.3L98.6 97.4M102.3 99.3L102.6 98.9M110.1 99.3L110.3 99.2M115.2 99.3L116.1 98.7M122.9 99.3L124.6 98.7M128.0 99.3L129.6 98.7M135.8 99.3L137.8 98.7M140.9 99.3L143.4 98.6M148.7 99.3L152.0 98.5M45.8 105.4L47.1 104.6M50.9 105.4L52.1 104.6M58.7 105.4L59.6 104.8M63.8 105.4L64.8 104.6M71.5 105.4L73.3 103.8M76.6 105.4L79.6 102.3M84.4 105.4L87.4 101.7M89.5 105.4L91.5 102.6M97.2 105.4L97.5 105.0M102.3 105.4L102.5 105.2M110.1 105.4L110.3 105.3M115.2 105.4L116.3 104.8M122.9 105.4L124.6 104.8M128.0 105.4L129.7 104.9M135.8 105.4L137.5 104.9M140.9 105.4L142.8 105.0M148.7 105.4L150.8 105.0M45.8 113.6L46.7 112.9M50.9 113.6L51.8 112.9M58.7 113.6L59.5 112.8M63.8 113.6L64.7 112.7M71.5 113.6L72.8 112.2M76.6 113.6L78.1 111.9M84.4 113.6L85.8 111.7M89.5 113.6L90.6 112.0M97.2 113.6L97.6 113.1M102.3 113.6L102.6 113.3M110.1 113.6L111.0 113.0M115.2 113.6L116.5 113.0M122.9 113.6L124.7 113.1M128.0 113.6L129.7 113.2M135.8 113.6L137.4 113.2M140.9 113.6L142.5 113.3M148.7 113.6L150.3 113.3" stroke="#333" stroke-width="0.33" stroke-opacity="0.78" fill="none"/><path d="M45.0 7.5L47.6 5.8L48.1 7.1ZM52.6 7.0L55.3 5.5L55.7 6.9ZM57.5 6.7L60.3 5.3L60.6 6.7ZM64.6 6.1L67.5 5.1L67.6 6.5ZM69.1 5.8L72.1 4.9L72.2 6.3ZM76.7 5.5L79.7 4.7L79.7 6.2ZM82.0 5.5L84.9 4.7L85.0 6.1ZM89.8 5.6L92.8 4.8L92.8 6.2ZM94.5 5.8L97.4 4.9L97.5 6.4ZM101.1 6.6L104.0 5.4L104.2 6.9ZM106.1 7.2L108.9 5.9L109.2 7.3ZM113.7 8.1L116.3 6.5L116.7 7.9ZM118.2 8.7L120.8 7.0L121.3 8.4ZM125.7 9.5L128.2 7.7L128.7 9.0ZM130.9 9.8L133.3 7.9L133.9 9.2ZM139.4 10.0L141.7 8.0L142.4 9.3ZM52.8 15.5L55.4 13.9L55.9 15.2ZM57.3 15.1L60.1 13.7L60.4 15.1ZM63.7 14.4L66.6 13.3L66.7 14.7ZM68.0 13.7L71.0 12.9L71.0 14.4ZM75.2 13.1L78.2 12.5L78.2 13.9ZM80.2 12.8L83.3 12.3L83.2 13.7ZM88.2 12.8L91.3 12.3L91.2 13.7ZM93.3 13.0L96.3 12.4L96.2 13.9ZM100.6 13.7L103.6 12.9L103.6 14.3ZM105.8 14.3L108.7 13.3L108.8 14.8ZM113.4 15.3L116.2 14.1L116.5 15.5ZM118.1 16.0L120.8 14.6L121.2 15.9ZM126.2 16.7L128.8 15.1L129.3 16.4ZM131.9 16.9L134.4 15.2L134.9 16.5ZM140.7 17.1L143.1 15.2L143.7 16.5ZM53.0 22.0L55.5 20.1L56.0 21.5ZM57.1 21.5L59.8 20.0L60.2 21.4ZM62.7 20.4L65.6 19.4L65.8 20.8ZM66.7 19.4L69.7 18.8L69.7 20.2ZM73.5 18.1L76.6 17.8L76.4 19.2ZM78.7 17.6L81.8 17.5L81.5 18.9ZM86.6 17.4L89.7 17.3L89.4 18.7ZM92.3 17.7L95.4 17.5L95.1 18.9ZM100.7 18.4L103.8 18.1L103.6 19.5ZM105.9 19.0L108.9 18.5L108.8 19.9ZM113.4 20.0L116.4 19.1L116.4 20.6ZM118.5 20.5L121.4 19.5L121.5 21.0ZM127.7 21.1L130.5 19.8L130.8 21.3ZM133.9 21.2L136.7 19.9L137.0 21.3ZM142.6 21.4L145.3 19.9L145.7 21.3ZM53.2 30.7L55.5 28.7L56.2 29.9ZM57.7 29.8L60.4 28.2L60.8 29.5ZM60.6 28.3L63.5 27.4L63.6 28.9ZM65.7 26.6L68.8 26.2L68.6 27.6ZM73.8 24.7L76.9 24.9L76.5 26.3ZM79.2 24.0L82.2 24.4L81.7 25.7ZM87.1 23.6L90.1 24.1L89.6 25.4ZM92.9 24.0L96.0 24.5L95.5 25.8ZM101.2 24.7L104.2 25.0L103.8 26.4ZM106.4 25.4L109.5 25.5L109.1 26.9ZM115.0 26.4L118.1 26.2L117.9 27.7ZM121.1 27.1L124.1 26.7L124.0 28.1ZM129.9 27.7L132.9 27.0L132.9 28.5ZM135.5 28.0L138.5 27.2L138.5 28.6ZM144.2 28.3L146.7 27.3L146.9 28.7ZM52.2 38.2L54.3 36.0L55.1 37.2ZM55.5 37.0L58.0 35.3L58.5 36.6ZM60.6 33.7L63.7 33.0L63.6 34.5ZM65.9 31.4L69.2 31.3L68.8 32.9ZM74.4 29.3L77.4 29.9L76.8 31.2ZM79.9 28.5L82.9 29.4L82.2 30.6ZM87.9 28.2L90.8 29.1L90.0 30.3ZM93.3 28.5L96.2 29.4L95.5 30.7ZM101.7 29.5L104.7 30.3L104.0 31.5ZM107.1 30.2L110.1 30.8L109.5 32.1ZM115.6 31.4L118.7 31.7L118.2 33.1ZM121.6 32.2L124.7 32.3L124.3 33.6ZM130.5 33.0L133.5 32.8L133.3 34.2ZM136.1 33.4L138.9 33.0L138.8 34.4ZM144.3 33.7L146.9 33.1L146.8 34.6ZM61.8 39.8L65.5 39.7L65.0 41.6ZM67.2 36.7L70.7 37.6L69.7 39.2ZM76.2 34.7L79.1 36.2L78.0 37.4ZM81.7 34.3L84.4 35.9L83.3 36.9ZM89.5 34.3L92.1 35.9L91.1 36.9ZM94.4 34.5L97.0 36.1L96.1 37.1ZM102.7 36.2L105.5 37.5L104.6 38.7ZM107.9 37.2L110.8 38.3L110.0 39.5ZM115.6 38.4L118.6 39.1L117.9 40.4ZM120.7 39.1L123.8 39.6L123.2 40.9ZM129.7 40.4L132.8 40.5L132.4 41.9ZM135.6 41.0L138.7 40.9L138.4 42.3ZM143.2 41.4L146.3 41.1L146.1 42.5ZM64.8 42.9L68.2 44.3L67.0 45.8ZM70.7 40.3L73.6 42.5L72.0 43.6ZM78.9 38.7L81.2 41.0L79.8 41.9ZM84.1 38.6L86.2 40.9L84.9 41.6ZM91.6 38.8L93.8 41.0L92.5 41.7ZM96.6 39.6L98.9 41.7L97.7 42.5ZM103.9 41.0L106.4 42.9L105.3 43.8ZM108.7 42.3L111.4 43.7L110.4 44.8ZM115.8 44.0L118.7 44.9L118.0 46.1ZM120.5 44.6L123.5 45.3L122.9 46.6ZM128.7 45.9L131.8 46.1L131.3 47.5ZM134.3 46.5L137.3 46.6L137.0 48.0ZM141.8 47.1L144.9 46.9L144.7 48.3ZM71.5 58.2L68.4 58.2L68.7 56.8ZM74.6 48.4L74.3 52.0L72.5 51.3ZM77.7 46.5L78.3 50.1L76.3 49.9ZM83.9 45.4L84.9 48.5L83.3 48.6ZM88.6 45.4L89.6 48.4L88.1 48.5ZM96.2 45.6L97.2 48.5L95.7 48.6ZM101.7 46.3L102.6 49.2L101.2 49.3ZM111.2 47.0L111.6 50.0L110.1 49.9ZM118.3 48.0L117.9 51.1L116.6 50.6ZM128.4 50.0L127.0 52.8L125.9 51.8ZM134.4 50.7L132.6 53.3L131.7 52.2ZM142.9 51.9L140.7 54.1L140.0 52.9ZM148.2 52.7L145.9 54.7L145.2 53.4ZM156.2 53.5L153.7 55.2L153.2 53.9ZM78.7 55.5L76.9 58.5L75.7 57.2ZM81.8 52.9L81.0 56.4L79.3 55.5ZM87.1 51.8L87.1 55.0L85.7 54.6ZM91.4 51.7L91.6 54.7L90.2 54.5ZM98.7 51.6L99.0 54.7L97.6 54.5ZM104.1 52.4L104.3 55.4L102.9 55.2ZM113.2 53.7L112.9 56.8L111.5 56.3ZM119.5 54.9L118.6 57.9L117.4 57.2ZM128.7 56.7L127.1 59.4L126.1 58.4ZM134.4 57.4L132.6 59.8L131.7 58.7ZM142.9 58.4L140.7 60.5L139.9 59.3ZM148.3 59.0L145.9 60.9L145.3 59.6ZM156.6 59.7L154.0 61.4L153.5 60.0ZM80.6 64.5L78.6 66.8L77.7 65.6ZM84.1 62.6L82.6 65.4L81.5 64.4ZM89.8 61.1L88.9 64.1L87.7 63.4ZM93.8 60.6L93.3 63.6L92.0 63.1ZM100.8 60.3L100.5 63.4L99.2 62.9ZM105.9 61.4L105.5 64.5L104.1 64.0ZM114.1 63.6L113.2 66.6L112.0 65.9ZM119.8 64.8L118.5 67.6L117.4 66.7ZM128.4 66.2L126.6 68.7L125.7 67.5ZM134.0 66.7L131.9 69.0L131.1 67.8ZM142.2 67.4L139.8 69.4L139.2 68.2ZM147.7 67.8L145.2 69.7L144.6 68.3ZM156.5 68.1L153.8 69.8L153.4 68.4ZM72.8 74.1L70.2 75.7L69.8 74.3ZM80.8 70.8L78.7 73.1L77.9 71.9ZM84.7 69.3L83.0 71.9L82.0 70.9ZM90.8 67.8L89.6 70.7L88.4 69.9ZM94.9 67.2L94.1 70.2L92.8 69.5ZM101.5 67.6L100.9 70.7L99.6 70.1ZM106.1 69.2L105.4 72.2L104.1 71.6ZM113.5 71.8L112.4 74.7L111.3 73.9ZM119.1 72.6L117.6 75.3L116.5 74.3ZM127.7 73.5L125.7 75.8L124.8 74.6ZM133.0 73.9L130.8 76.0L130.0 74.8ZM141.8 74.0L139.4 75.9L138.8 74.6ZM147.8 74.1L145.3 75.9L144.7 74.5ZM156.6 74.4L153.9 75.9L153.5 74.6ZM63.4 83.7L60.9 85.1L60.5 83.7ZM69.2 82.8L66.7 84.6L66.1 83.3ZM78.5 80.3L76.4 82.6L75.6 81.4ZM84.7 78.0L82.9 80.5L82.0 79.4ZM91.4 76.5L90.1 79.3L88.9 78.4ZM95.6 76.1L94.5 79.0L93.3 78.2ZM101.4 77.9L100.5 80.8L99.3 80.1ZM105.8 79.6L104.8 82.5L103.6 81.7ZM112.1 82.7L111.4 84.6L110.3 83.7ZM117.3 83.2L116.4 85.0L115.4 83.9ZM126.8 82.9L124.9 84.7L124.2 83.5ZM130.1 84.0L128.9 85.4L128.3 84.1ZM141.7 82.7L139.1 84.4L138.6 83.1ZM148.2 82.5L145.6 84.1L145.2 82.8ZM156.9 82.7L154.2 84.2L153.8 82.8ZM62.4 89.6L60.5 91.2L59.9 89.8ZM67.8 89.0L65.8 90.9L65.1 89.6ZM77.2 87.0L75.2 89.4L74.3 88.2ZM83.7 84.8L82.0 87.4L81.0 86.3ZM91.3 83.1L89.8 85.9L88.8 84.9ZM95.1 83.4L93.9 86.3L92.8 85.4ZM101.0 85.3L100.0 88.2L98.8 87.4ZM105.0 87.4L104.1 90.0L102.9 89.1ZM111.2 90.0L110.8 91.5L109.8 90.4ZM116.4 90.2L115.8 91.5L115.0 90.4ZM126.5 89.4L124.7 91.1L124.1 89.8ZM130.6 90.0L129.2 91.4L128.6 90.1ZM141.4 89.1L138.8 90.8L138.4 89.4ZM148.0 88.9L145.4 90.5L144.9 89.1ZM156.7 89.1L154.0 90.5L153.6 89.1ZM54.7 97.4L52.8 99.2L52.1 97.9ZM61.5 97.7L60.1 99.3L59.3 98.1ZM66.8 97.3L65.3 99.1L64.5 97.9ZM76.3 95.3L74.5 97.8L73.6 96.7ZM83.0 93.2L81.4 95.8L80.4 94.7ZM90.5 92.1L89.1 94.9L88.0 94.0ZM94.2 93.0L93.0 95.9L91.8 95.0ZM100.3 94.9L99.2 97.8L98.0 97.0ZM103.6 97.8L103.2 99.4L102.1 98.5ZM111.2 98.3L110.7 99.7L109.8 98.6ZM117.8 97.7L116.5 99.4L115.7 98.1ZM126.9 97.8L124.8 99.3L124.3 98.0ZM132.0 97.9L129.9 99.4L129.4 98.1ZM140.5 97.9L138.0 99.4L137.6 98.0ZM146.3 97.9L143.6 99.3L143.2 97.9ZM155.0 97.9L152.2 99.3L151.9 97.8ZM49.0 103.4L47.5 105.2L46.7 104.0ZM54.0 103.4L52.5 105.2L51.7 104.0ZM61.2 103.6L60.0 105.3L59.2 104.2ZM66.4 103.3L65.2 105.2L64.3 104.1ZM75.5 101.8L73.7 104.3L72.8 103.3ZM81.7 100.1L80.2 102.8L79.1 101.8ZM89.3 99.4L88.0 102.2L86.8 101.3ZM93.3 100.2L92.1 103.0L91.0 102.2ZM98.4 103.8L98.1 105.4L96.9 104.6ZM103.3 104.3L103.0 105.7L101.9 104.8ZM111.3 104.5L110.7 105.8L109.8 104.7ZM118.1 103.8L116.6 105.4L115.9 104.2ZM127.1 104.0L124.9 105.5L124.4 104.2ZM132.1 104.2L129.9 105.6L129.5 104.2ZM140.0 104.3L137.7 105.6L137.4 104.2ZM145.4 104.3L142.9 105.7L142.6 104.3ZM153.6 104.4L150.9 105.7L150.6 104.3ZM48.2 111.6L47.1 113.4L46.2 112.3ZM53.2 111.6L52.2 113.4L51.3 112.3ZM61.0 111.5L60.0 113.4L59.0 112.3ZM66.2 111.2L65.2 113.2L64.2 112.2ZM74.5 110.3L73.3 112.7L72.3 111.8ZM80.1 109.6L78.7 112.3L77.6 111.4ZM87.6 109.3L86.4 112.1L85.3 111.3ZM92.2 109.8L91.2 112.4L90.0 111.6ZM98.5 111.8L98.2 113.5L97.0 112.7ZM103.6 112.2L103.2 113.8L102.1 112.8ZM112.6 111.8L111.4 113.6L110.6 112.4ZM118.5 112.0L116.8 113.6L116.2 112.3ZM127.1 112.5L124.8 113.8L124.5 112.4ZM132.2 112.6L129.9 113.9L129.6 112.5ZM139.9 112.7L137.6 113.9L137.3 112.5ZM145.0 112.8L142.7 114.0L142.4 112.6ZM152.7 112.9L150.4 114.0L150.1 112.6Z" fill="#222" fill-opacity="0.8"/><path d="M7.3 6.3L6.5 8.5M12.4 6.3L11.6 8.5M20.1 6.3L19.4 8.5M25.2 6.3L24.5 8.5M33.0 6.3L32.2 8.6M38.1 6.3L37.2 8.6M45.8 6.3L44.9 8.6M7.3 14.5L6.5 16.7M12.4 14.5L11.6 16.7M20.1 14.5L19.3 16.7M25.2 14.5L24.4 16.8M33.0 14.5L32.1 16.9M38.1 14.5L37.1 16.9M45.8 14.5L44.7 17.0M50.9 14.5L49.7 17.1M7.3 20.6L6.5 22.8M12.4 20.6L11.6 22.8M20.1 20.6L19.3 22.9M25.2 20.6L24.4 22.9M33.0 20.6L32.0 23.1M38.1 20.6L37.0 23.2M45.8 20.6L44.5 23.4M50.9 20.6L49.4 23.5M7.3 28.8L6.5 31.0M12.4 28.8L11.6 31.0M20.1 28.8L19.3 31.1M25.2 28.8L24.3 31.2M33.0 28.8L31.9 31.5M38.1 28.8L36.8 31.7M45.8 28.8L44.2 32.0M50.9 28.8L48.9 32.1M7.3 34.9L6.5 37.1M12.4 34.9L11.6 37.2M20.1 34.9L19.2 37.3M25.2 34.9L24.3 37.5M33.0 34.9L31.8 37.8M38.1 34.9L36.7 38.1M45.8 34.9L44.0 38.5M50.9 34.9L49.2 37.8M7.3 43.1L6.5 45.3M12.4 43.1L11.6 45.4M20.1 43.1L19.2 45.6M25.2 43.1L24.3 45.8M33.0 43.1L31.9 46.3M38.1 43.1L36.9 46.7M45.8 43.1L44.7 46.4M50.9 43.1L49.4 46.8M58.7 43.1L55.9 46.7M63.8 43.1L59.7 45.6M7.3 49.2L7.5 51.6M12.4 49.2L12.6 51.7M20.1 49.2L20.3 51.9M25.2 49.2L25.3 52.1M33.0 49.2L33.1 52.7M38.1 49.2L38.2 53.2M45.8 49.2L45.9 52.9M50.9 49.2L50.9 53.5M58.7 49.2L57.5 54.0M63.8 49.2L60.1 52.7M7.3 57.4L7.6 59.8M12.4 57.4L12.7 59.8M20.1 57.4L20.6 60.0M25.2 57.4L25.8 60.3M33.0 57.4L33.8 60.8M38.1 57.4L39.1 61.2M45.8 57.4L47.1 60.9M50.9 57.4L52.8 61.2M58.7 57.4L62.0 61.0M7.3 63.5L7.6 65.9M12.4 63.5L12.7 65.9M20.1 63.5L20.6 66.1M25.2 63.5L25.9 66.3M33.0 63.5L34.0 66.7M38.1 63.5L39.5 67.0M45.8 63.5L47.6 66.5M50.9 63.5L53.5 66.6M58.7 63.5L62.7 65.6M63.8 63.5L68.5 63.8M7.3 71.7L7.6 74.0M12.4 71.7L12.7 74.1M20.1 71.7L20.6 74.2M25.2 71.7L25.8 74.4M33.0 71.7L33.9 74.7M38.1 71.7L39.4 74.9M45.8 71.7L48.0 75.1M50.9 71.7L53.2 74.2M58.7 71.7L62.0 73.5M63.8 71.7L67.6 72.6M7.3 77.8L7.6 80.1M12.4 77.8L12.7 80.2M20.1 77.8L20.5 80.3M25.2 77.8L25.7 80.4M33.0 77.8L33.8 80.6M38.1 77.8L39.2 80.8M45.8 77.8L47.6 81.0M50.9 77.8L53.2 81.0M58.7 77.8L61.1 79.8M7.3 86.0L7.5 88.3M12.4 86.0L12.7 88.3M20.1 86.0L20.5 88.4M25.2 86.0L25.6 88.5M33.0 86.0L33.5 88.6M38.1 86.0L38.8 88.7M45.8 86.0L46.9 88.9M50.9 86.0L52.2 89.0M7.3 92.1L7.5 94.4M12.4 92.1L12.6 94.4M20.1 92.1L20.4 94.5M25.2 92.1L25.6 94.5M33.0 92.1L33.4 94.6M38.1 92.1L38.6 94.7M45.8 92.1L46.5 94.8M50.9 92.1L51.7 94.9M7.3 100.3L7.5 102.6M12.4 100.3L12.6 102.6M20.1 100.3L20.4 102.6M25.2 100.3L25.5 102.6M33.0 100.3L33.3 102.7M38.1 100.3L38.4 102.7M45.8 100.3L46.2 102.8M7.3 106.4L7.5 108.7M12.4 106.4L12.6 108.7M20.1 106.4L20.4 108.7M25.2 106.4L25.5 108.7M33.0 106.4L33.3 108.7M38.1 106.4L38.4 108.8M7.3 114.6L7.5 116.9M12.4 114.6L12.6 116.9M20.1 114.6L20.4 116.9M25.2 114.6L25.5 116.9M33.0 114.6L33.2 116.9M38.1 114.6L38.3 116.9" stroke="#444" stroke-width="0.32" stroke-opacity="0.7" fill="none"/><path d="M5.9 10.3L6.0 8.3L7.1 8.7ZM11.0 10.3L11.1 8.3L12.1 8.7ZM18.7 10.3L18.8 8.3L19.9 8.7ZM23.8 10.3L23.9 8.3L25.0 8.7ZM31.5 10.3L31.6 8.4L32.7 8.7ZM36.6 10.4L36.7 8.4L37.7 8.8ZM44.2 10.4L44.4 8.4L45.4 8.8ZM5.9 18.5L6.0 16.5L7.0 16.9ZM11.0 18.5L11.1 16.5L12.1 16.9ZM18.7 18.5L18.8 16.5L19.9 16.9ZM23.7 18.5L23.9 16.6L24.9 17.0ZM31.4 18.6L31.6 16.7L32.6 17.1ZM36.4 18.7L36.6 16.7L37.6 17.1ZM43.9 18.8L44.2 16.8L45.2 17.3ZM48.9 18.8L49.2 16.9L50.2 17.3ZM5.9 24.6L6.0 22.6L7.0 23.0ZM11.0 24.6L11.1 22.6L12.1 23.0ZM18.7 24.7L18.8 22.7L19.8 23.1ZM23.7 24.7L23.8 22.7L24.9 23.1ZM31.3 24.8L31.5 22.9L32.5 23.3ZM36.2 24.9L36.5 23.0L37.5 23.4ZM43.7 25.1L44.0 23.1L45.0 23.6ZM48.5 25.1L48.9 23.2L49.9 23.7ZM5.9 32.8L6.0 30.8L7.0 31.2ZM10.9 32.8L11.1 30.9L12.1 31.2ZM18.6 32.9L18.8 30.9L19.8 31.3ZM23.6 33.0L23.8 31.0L24.8 31.4ZM31.1 33.2L31.4 31.3L32.4 31.7ZM36.0 33.4L36.3 31.5L37.3 31.9ZM43.3 33.7L43.7 31.7L44.7 32.2ZM47.9 33.7L48.4 31.8L49.4 32.4ZM5.9 38.9L6.0 36.9L7.0 37.3ZM10.9 39.0L11.1 37.0L12.1 37.4ZM18.6 39.1L18.7 37.1L19.8 37.5ZM23.6 39.2L23.8 37.3L24.8 37.6ZM31.1 39.6L31.3 37.6L32.3 38.0ZM36.0 39.8L36.2 37.9L37.3 38.3ZM43.2 40.2L43.6 38.3L44.5 38.8ZM47.7 40.3L48.6 37.4L49.8 38.1ZM5.8 47.1L6.0 45.1L7.0 45.5ZM10.9 47.2L11.0 45.2L12.1 45.6ZM18.6 47.4L18.7 45.4L19.7 45.8ZM23.6 47.6L23.7 45.6L24.8 46.0ZM31.2 48.1L31.4 46.1L32.4 46.5ZM36.3 48.5L36.4 46.5L37.4 46.9ZM43.7 49.2L44.0 46.1L45.4 46.6ZM48.3 49.6L48.8 46.5L50.1 47.0ZM54.1 49.1L55.3 46.3L56.5 47.1ZM57.2 47.1L59.4 44.9L60.1 46.2ZM7.6 53.5L6.9 51.6L8.0 51.5ZM12.7 53.6L12.0 51.7L13.1 51.6ZM20.3 53.8L19.7 51.9L20.8 51.9ZM25.4 54.0L24.8 52.1L25.9 52.1ZM33.1 54.6L32.5 52.7L33.6 52.7ZM38.3 55.1L37.7 53.2L38.8 53.1ZM46.0 55.9L45.2 52.9L46.6 52.9ZM50.8 56.5L50.1 53.4L51.6 53.5ZM56.8 56.9L56.8 53.8L58.2 54.1ZM58.0 54.8L59.6 52.2L60.6 53.3ZM7.8 61.7L7.0 59.8L8.1 59.7ZM13.0 61.7L12.2 59.9L13.3 59.8ZM20.9 61.9L20.0 60.1L21.1 60.0ZM26.1 62.1L25.2 60.4L26.3 60.2ZM34.2 62.6L33.2 60.9L34.3 60.7ZM39.6 63.0L38.6 61.4L39.7 61.1ZM48.2 63.7L46.5 61.1L47.8 60.6ZM54.1 63.9L52.2 61.5L53.4 60.9ZM64.0 63.3L61.5 61.5L62.5 60.5ZM7.8 67.7L7.0 65.9L8.1 65.8ZM13.0 67.8L12.2 66.0L13.3 65.8ZM21.0 68.0L20.1 66.2L21.2 66.0ZM26.3 68.1L25.3 66.4L26.4 66.2ZM34.5 68.5L33.5 66.9L34.5 66.6ZM40.2 68.8L39.0 67.2L40.0 66.8ZM49.1 69.1L47.0 66.9L48.2 66.1ZM55.4 68.9L52.9 67.0L54.0 66.1ZM65.4 67.0L62.4 66.3L63.1 65.0ZM71.5 63.9L68.5 64.5L68.6 63.0ZM7.8 75.9L7.0 74.1L8.1 74.0ZM13.0 76.0L12.2 74.2L13.3 74.0ZM20.9 76.1L20.0 74.3L21.1 74.1ZM26.2 76.2L25.3 74.5L26.4 74.3ZM34.5 76.5L33.4 74.8L34.4 74.5ZM40.1 76.7L38.9 75.1L39.9 74.7ZM49.1 76.7L47.6 75.4L48.5 74.8ZM55.2 76.4L52.7 74.6L53.7 73.7ZM64.7 74.9L61.7 74.1L62.4 72.9ZM70.5 73.4L67.4 73.3L67.8 71.9ZM7.8 82.0L7.0 80.2L8.1 80.1ZM12.9 82.1L12.1 80.2L13.2 80.1ZM20.8 82.1L20.0 80.4L21.1 80.2ZM26.1 82.2L25.2 80.5L26.3 80.3ZM34.3 82.4L33.2 80.8L34.3 80.5ZM39.8 82.6L38.6 81.0L39.7 80.6ZM48.5 82.6L47.1 81.2L48.0 80.7ZM54.4 82.5L52.8 81.3L53.7 80.6ZM63.4 81.8L60.6 80.4L61.5 79.3ZM7.7 90.2L7.0 88.4L8.1 88.3ZM12.9 90.2L12.1 88.4L13.2 88.3ZM20.7 90.3L19.9 88.5L21.0 88.3ZM25.9 90.3L25.1 88.5L26.2 88.4ZM33.9 90.5L33.0 88.7L34.1 88.5ZM39.2 90.6L38.2 88.9L39.3 88.6ZM47.5 90.7L46.3 89.1L47.4 88.7ZM53.0 90.7L51.7 89.2L52.7 88.8ZM7.7 96.3L7.0 94.5L8.1 94.3ZM12.8 96.3L12.1 94.5L13.2 94.4ZM20.6 96.3L19.9 94.5L21.0 94.4ZM25.8 96.4L25.0 94.6L26.1 94.4ZM33.7 96.5L32.9 94.7L33.9 94.5ZM38.9 96.5L38.0 94.8L39.1 94.6ZM46.9 96.6L46.0 94.9L47.0 94.7ZM52.2 96.7L51.2 95.0L52.3 94.7ZM7.7 104.5L7.0 102.7L8.1 102.5ZM12.8 104.5L12.1 102.7L13.2 102.5ZM20.6 104.5L19.9 102.7L20.9 102.6ZM25.7 104.5L25.0 102.7L26.1 102.6ZM33.5 104.6L32.8 102.8L33.8 102.6ZM38.7 104.6L37.9 102.8L39.0 102.6ZM46.5 104.7L45.7 102.9L46.8 102.7ZM7.7 110.6L7.0 108.7L8.1 108.6ZM12.8 110.6L12.1 108.8L13.2 108.6ZM20.6 110.6L19.8 108.8L20.9 108.6ZM25.7 110.6L24.9 108.8L26.0 108.7ZM33.5 110.6L32.7 108.8L33.8 108.7ZM38.6 110.6L37.8 108.8L38.9 108.7ZM7.7 118.8L7.0 116.9L8.1 116.8ZM12.8 118.8L12.1 116.9L13.2 116.8ZM20.6 118.8L19.8 116.9L20.9 116.8ZM25.7 118.8L24.9 117.0L26.0 116.8ZM33.4 118.8L32.7 117.0L33.8 116.8ZM38.5 118.8L37.8 117.0L38.9 116.9Z" fill="#333" fill-opacity="0.72"/></g><text x="3.4" y="11.5" class="pl">(e)</text><text x="18.3" y="58.9" class="cn">China</text></g><text x="185.9" y="195.4" class="ax" text-anchor="end">31°N</text><text x="185.9" y="253.7" class="ax" text-anchor="end">26°N</text><text x="196.7" y="268.9" class="ax" text-anchor="middle">116°E</text><text x="246.7" y="268.9" class="ax" text-anchor="middle">121°E</text><text x="296.7" y="268.9" class="ax" text-anchor="middle">126°E</text><g transform="translate(353.4,145.4)"><rect x="0" y="0" width="150.0" height="116.3" fill="#a9cfe4"/><g clip-path="url(#pc)"><path fill="#09386d" fill-rule="evenodd" d="M-1,-1 151,-1 151,118 -1,118Z"/><path fill="#124984" fill-rule="evenodd" d="M0,-1 151,-1 151,118 -1,118 -1,-1ZM109.4,86 108,87 105.2,91 101,94.3 96.5,103 95.8,105 95.6,108 96.4,110 98,111.3 100,111.3 102,110.3 106.5,106 108.7,102 110,95 114.5,91 115,89 114,86.7 112,85.6Z"/><path fill="#1c5c9f" fill-rule="evenodd" d="M0,-1 151,-1 151,118 -1,118 -1,-1ZM108.4,85 100,93.2 95.3,103 94.5,107 94.9,110 96,112.1 98,113.5 100,113.6 103,112.3 107.7,108 110,104 112,96 115.2,93 116.5,91 116.7,88 115.6,86 114.5,85 113,84.3 111,84.1Z"/><path fill="#266caf" fill-rule="evenodd" d="M0,-1 151,-1 151,118 110.1,118 110.6,114 114,98.2 115.6,96 120.2,92 121,90 120.7,88 118.1,85 115,82.8 112,82.1 110,82.4 107,84.1 100,90.7 98.3,93 93.7,105 93.4,108 93.9,114 93,115.4 89.8,117 89.9,118 60,118 60.3,116 61.4,114 61.5,112 60,110 57,109.1 47,110.3 -1,110 -1,-1ZM46,116 49,116.5 50,117 50,118 40,118 40,117ZM1,117 20,117 20,118 0,118 0,117Z"/><path fill="#327cb7" fill-rule="evenodd" d="M0,-1 151,-1 151,20 146.9,21 145,23 145.8,25 150,30 151,30 151,118 140,118 139.9,111 141.3,104 140.7,101 138,98.6 132.6,97 129.1,88 126,84 120,80 115,78.5 112,78.7 108,80.6 98.9,89 96.3,93 93.2,102 91.7,111 91,112.5 88.7,114 81.5,116 80,117 80,118 70,118 70.6,114 70.4,112 69.4,108 68,105.4 65,102.6 57,98.6 52,99.8 48,100.1 -1,100 -1,90 35,90.2 48,89.1 50,90 54,94.9 56,96.4 57,96.6 59.6,95 60.6,93 60,90 58,87.8 56,86.9 53,86.5 50.1,84 44,82 34,81.1 -1,81.5 -1,-1ZM122,98.9 124,98.5 127,98.6 128.9,99 130,100 130.5,104 129.9,112 130,118 120,118 120.3,112 118.5,103 119,101.4 120,100.1Z"/><path fill="#3c8abe" fill-rule="evenodd" d="M0,-1 151,-1 151,17.4 146,17.8 141.8,19 138.8,21 138,22 137.4,24 140.2,31 140.3,33 139.2,37 140,40 142,41.5 145,41.9 148,41.1 150,40 151,40 151,90 147,90.9 144,90.9 140,90 137,88.5 133.5,85 123,71 121,70 119,70.3 107,76.9 102.8,82 96.6,88 94.2,93 90.2,108 89,110.3 87,111.8 84,112.9 79,113.3 77,112.8 75,110.9 68.7,97 65.4,86 64,84 60.5,82 52,79.6 42,78.5 -1,78.4 -1,-1ZM150,100 151,100 151,110 150,110Z"/><path fill="#4f9bc7" fill-rule="evenodd" d="M0,-1 151,-1 151,15.5 145,15.7 140,16.8 135.5,19 133,21.3 131.5,24 129.7,32 130.1,45 129.5,54 126.5,57 120,60 117,61.9 111.4,69 105,72.6 103.5,74 99.9,80 95.2,85 93.9,87 87.5,107 85,109.3 83,110.1 81,110.2 78,109 76,106.6 71.3,95 68.3,83 67.1,81 65.7,80 57.1,78 46,76.6 -1,76.4 -1,-1ZM141,49.9 151,50 151,84.2 146,85.6 141,85.3 137,83 135,80.4 131.5,74 129.5,68 129.4,65 130.1,59 131.5,55 135.8,51Z"/><path fill="#6bacd1" fill-rule="evenodd" d="M0,-1 20,-1 20,0 33,0.3 40,0 40,-1 50,-1 50,0 49,0.8 44.5,2 42,8 40,10 36.9,11 32,11.3 13,9.4 -1,10 -1,-1ZM60,-1 151,-1 151,13.9 143,14.1 137,15.5 132.1,18 129.2,21 120.3,39 119.8,43 120.5,48 119.5,51 117.6,53 113,56.2 107,64.1 103,66.9 100,70 96.5,77 92,83.4 88.6,95 85.8,102 84,104.9 82,105.9 79,104.8 76,100.6 73.1,93 70.5,81 69,78.6 66.8,77 45,74.9 -1,74.8 -1,18.2 15,18.1 34,18.7 41,18 45.5,17 47.8,16 48.8,15 50,10 50.7,4 51.5,2 60,0ZM147,55.8 151,55.2 151,80 147,81.2 144,81.4 140,80 137.3,77 135.2,72 135,68 136,65 140,60 143,57.6Z"/><path fill="#84bcd9" fill-rule="evenodd" d="M71,-1 75,-1 75,0 78,0.2 80,0 80,-1 151,-1 151,12.1 145,12 140,12.5 136,13.6 130.7,16 127.4,19 123.7,25 118.5,32 115.8,37 112,47 103,61 97,68.7 90.5,79 89,82.8 86.6,93 85,96.8 83.5,99 82,100.1 80,100 77,97.2 74.8,92 73,82 72,78.8 70.2,76 67,74.5 65,74.1 45,73.4 -1,73.3 -1,23.1 35,23.2 54,22.2 57,17.7 59,13 60.8,7 61.9,5 65,1.9 67,0.8 70,0 70,-1ZM149,60.5 151,60 151,75.9 147,76.5 144,76.2 142,75 140.6,73 140,71 140.5,68 143,64.7Z"/><path fill="#9dcbe1" fill-rule="evenodd" d="M91,-1 100,-1 100,0 106,0.4 110,0 110,-1 151,-1 151,10 143,9.7 137,10.7 130,13.7 125.8,17 121.7,23 116.2,29 114.1,32 108.5,43 103.7,51 99,62 89,75.7 87,80.7 85,90.4 83,94.4 81,95.4 79,94.7 78,93.7 76,89.3 74.4,80 73.1,76 71,74.5 66,72.7 62,72 48,71.8 -1,71.7 -1,26 53,26 55,23.8 62.6,10 66,5.9 68,4.3 72,3.1 80,4.2 84,3.8 86,2.9 90,0 90,-1ZM150,67.1 151,67.1 151,70 150,70 149.3,69Z"/><path fill="#b1d5e7" fill-rule="evenodd" d="M121,-1 125.1,-1 125.1,0 128,0.3 130,0 130,-1 151,-1 151,7.2 144,6.7 139,6.8 135,7.6 131,9.4 125,13.8 119,21.2 111.6,28 108.1,33 104.2,42 100.4,49 98,58 96.4,62 94,65.7 88.3,72 86.5,75 83.3,87 82.4,89 81.2,90 80,90 78,87.4 74.7,75 72,73.4 62,70.2 -1,70 -1,30 47,29.8 52,30.3 54,27.9 62,12.9 66,8.3 69,6.5 72,5.8 75,6.2 79,7.8 84,10.6 87,11 90,10 95,5.4 97,4.3 101,3.6 108,3.9 111,3.6 120,0 120,-1ZM58.9,55 61,55.5 63.4,55 61,54.2Z"/><path fill="#c7e0ed" fill-rule="evenodd" d="M141,-1 150,-1 150,0 151,0 151,1 147,2 143,1.6 141.1,1 140,0 140,-1ZM70,8 74,7.8 79,9.9 82.8,13 89,19.8 97.2,21 98.6,23 99.7,28 100.5,35 100.4,38 96.7,49 95.1,60 93,64 85.7,71 82,78.9 81,80.1 80,80 77.5,75 75.2,73 60,68.1 -1,68.1 -1,41.9 37,42.1 45,41.3 51,39.7 52,38.8 54.4,30 60,17.8 65,11.1 67,9.4ZM55.9,40 55.5,41 55.9,42 57,42.5 58.4,42 58.8,41 58,39.7 57,39.5ZM57.7,54 57.1,55 60,56.2 63.1,56 65.1,55 64.1,54 62,53.6ZM116,8.8 119,8.5 119.8,9 119.7,11 116.3,16 112,18.9 109,20.4 106,21.2 101,20.3 98.8,19 97.6,14 98.3,12 100,10 103,9.1 108,9.9 112,9.9Z"/><path fill="#d7e8f1" fill-rule="evenodd" d="M70,9.7 73,9.4 76,10.2 79,11.8 82,14.5 87.3,22 94.1,36 94.8,40 93.4,49 93.5,58 92.5,61 90,64.1 81,70.7 78,71.4 69,70 58,65.9 -1,66 -1,44.5 37,44.6 47.4,44 52,43.3 54,42.5 57,43.5 58.4,43 59.5,41 59,39.5 58,38.7 55,38.5 54.3,37 54.6,34 56,29 59,21.4 62,16.3 66,11.8ZM58.9,53 56,54 55.7,55 58,56.5 63,56.6 65.3,56 66.4,55 65.5,54 64,53.4Z"/><path fill="#e4eef4" fill-rule="evenodd" d="M69,11.8 72,11.2 74,11.4 76,12 79,13.9 82,16.9 84,19.7 87.5,27 90.6,39 90.3,51 90.9,57 90,60 87,63 79.4,68 77,68.8 74,69.1 68,68.1 60,64.2 57,63.5 -1,63.5 -1,46.8 46,46.6 52,46.2 59,43.7 60.1,42 60.1,40 59,38.4 56.2,37 55.8,36 57,29.6 59.8,22 62,18 65,14.5ZM61,28 60.9,29 62,29.6 62.5,29 62.4,28 62,27.7ZM55.5,53 54.3,54 54.2,55 55,56 58,57.4 61,57.6 65,56.8 67,56 67.3,55 66,53.7 63,52.6 58,52.3Z"/><path fill="#f0f4f6" fill-rule="evenodd" d="M70,14 73,13.8 76,14.7 78.1,16 81.1,19 83,21.9 85,26.4 86.5,32 87.3,38 87,47.3 86,52.6 84.6,57 81.9,61 78.9,64 75.2,66 73,66.4 70,66.2 67,65.1 62.1,61 61.4,60 61.9,59 67.1,57 68.2,56 68.2,55 67.4,54 65,52.6 59.1,51 57.6,50 57.3,49 57.5,47 60.7,43 61,41 60.6,39 57.6,35 57.9,33 59,32.3 62,32.1 63,31.4 64.4,28 64,26.1 61.3,23 61.9,21 64,17.9 66,16ZM21,50 52,50 53.8,51 53.5,52 51.6,54 51.4,55 52,56 56.2,59 55,59.9 54,60 -1,60 -1,50Z"/><path fill="#f8f2ef" fill-rule="evenodd" d="M70,20.7 72,20.4 74,20.7 76,21.7 78.5,24 81.6,30 83.1,37 82.8,45 80.8,52 79,55.2 77,57.4 75,58.8 73,59.5 69.9,59 69.3,55 68.4,54 63.5,51 62.1,49 61.6,47 61.9,41 61.4,36 64.6,30 66.8,23 68,21.7Z"/><path fill="#fae9df" fill-rule="evenodd" d="M70,23.5 72,23.1 74,23.5 77.3,26 80,30.6 81.5,37 81.4,44 79.7,50 77,54.3 75,55.8 73,56.3 72,56.1 69.7,54 65,51 63.5,48 62.7,44 62.6,38 63,35 67,26 68,24.8Z"/><path fill="#fcdfcf" fill-rule="evenodd" d="M71,24.9 74,25.2 77,27.6 79.4,32 80.5,37 80.5,43 79.4,48 77,52.4 74,54.3 71,53.8 66.3,51 64.6,48 63.6,43 63.5,38 64.4,34 68,26.8Z"/><path fill="#fcd3bc" fill-rule="evenodd" d="M70,27 73,26.6 76,28.4 78.2,32 79.5,37 79.5,43 78.2,48 76,51.6 73,53.1 69.2,52 67,50.2 65.4,47 64.5,43 64.4,38 64.9,35 68,28.7Z"/><path fill="#f8bfa4" fill-rule="evenodd" d="M70,28.6 73,28.2 75,29.2 77.1,32 78.4,36 78.7,41 78,45.8 76,49.7 74.6,51 73,51.7 70,51.3 68.3,50 66.5,47 65.6,44 65.3,39 65.9,35 68,30.6Z"/><path fill="#b7b7b7" d="M-2.0 -2.0L41.9 -2.0L41.9 0.0L44.2 1.7L48.7 3.5L52.4 7.2L54.7 11.7L55.6 16.3L56.5 21.8L57.4 25.0L57.9 27.1L59.9 30.0L62.1 32.8L59.0 33.8L55.5 34.2L58.5 36.8L62.5 38.9L65.5 40.6L68.5 42.3L69.2 43.8L68.6 46.0L67.5 48.3L66.5 50.0L63.0 51.6L59.0 52.4L55.3 53.6L58.0 55.9L62.0 56.6L66.0 56.9L68.3 57.4L67.2 59.5L67.0 60.0L66.5 62.0L67.0 64.3L66.0 67.6L66.5 70.9L65.4 74.2L63.5 77.0L61.5 79.0L59.6 81.9L56.5 86.5L53.4 90.4L50.4 93.4L47.3 96.5L45.8 100.3L46.5 103.4L44.2 107.3L43.4 111.1L41.1 114.2L39.6 117.0L39.6 119.0L-2.0 119.0Z"/><path fill="#b7b7b7" d="M58.0 35.2L61.5 35.6L65.5 36.8L68.2 38.2L67.2 38.9L63.0 37.9L59.5 36.6Z"/><path fill="#ecd2bd" d="M60.0 117.5L62.5 115.6L65.8 112.8L68.5 114.4L70.5 117.5Z"/><path fill="#ecd2bd" d="M114.0 16.8L115.5 16.0L117.2 16.0L117.8 16.8L116.5 17.6L114.8 17.6Z"/><path fill="#ecd2bd" d="M128.3 102.5L129.8 99.0L131.8 95.8L132.3 96.3L130.5 100.0L128.8 103.0Z"/><path fill="#ecd2bd" d="M143.0 79.5L145.5 77.5L147.0 78.0L145.0 80.0Z"/><path fill="#ecd2bd" d="M138.0 25.0L139.5 23.0L141.0 22.5L140.5 24.5Z"/><path fill="#ecd2bd" d="M148.0 27.0L149.0 23.5L150.5 22.0L150.5 29.0Z"/><path fill="#ecd2bd" d="M144.5 15.0L145.8 13.8L146.5 15.0L145.3 16.0Z"/><path fill="#ecd2bd" d="M126.0 0.5L128.0 0.0L129.0 1.2L127.0 1.6Z"/><path fill="#ecd2bd" d="M132.0 0.3L134.0 0.2L134.5 1.4L132.5 1.5Z"/><path fill="none" stroke="#d8d8d8" stroke-width="0.45" d="M12.0 64.0L16.0 60.0L20.0 55.0L25.0 50.0L30.0 46.0L35.0 42.0L40.0 39.0L45.0 37.0L50.0 36.5L56.5 35.8"/><path fill="none" stroke="#d8d8d8" stroke-width="0.45" d="M35.0 20.0L38.0 24.0L41.0 27.0L44.0 30.0L47.0 33.0L50.0 36.0"/><ellipse cx="35.5" cy="20.3" rx="1.9" ry="2.4" fill="#ececec"/><ellipse cx="33.4" cy="17.6" rx="1.0" ry="0.8" fill="#ececec"/><ellipse cx="37.5" cy="18.0" rx="0.8" ry="0.7" fill="#ececec"/><ellipse cx="29.5" cy="22.0" rx="0.7" ry="0.6" fill="#ececec"/><ellipse cx="23.6" cy="19.3" rx="0.6" ry="0.6" fill="#ececec"/><ellipse cx="42.0" cy="24.0" rx="0.8" ry="0.9" fill="#ececec"/><ellipse cx="45.5" cy="27.5" rx="0.8" ry="1.0" fill="#ececec"/><ellipse cx="32.0" cy="10.3" rx="0.6" ry="0.6" fill="#ececec"/><ellipse cx="52.7" cy="43.5" rx="2.0" ry="2.4" fill="#ececec"/><ellipse cx="50.0" cy="46.5" rx="0.9" ry="0.8" fill="#ececec"/><ellipse cx="31.0" cy="45.5" rx="1.4" ry="1.0" fill="#ececec"/><ellipse cx="25.7" cy="43.0" rx="0.6" ry="0.6" fill="#ececec"/><ellipse cx="22.0" cy="3.5" rx="0.7" ry="0.7" fill="#ececec"/><ellipse cx="26.0" cy="51.0" rx="0.8" ry="0.7" fill="#ececec"/><ellipse cx="15.0" cy="55.0" rx="0.7" ry="0.6" fill="#ececec"/><ellipse cx="6.0" cy="57.5" rx="0.8" ry="0.7" fill="#ececec"/><ellipse cx="8.6" cy="60.5" rx="0.7" ry="0.7" fill="#ececec"/><ellipse cx="10.0" cy="63.0" rx="1.0" ry="1.0" fill="#ececec"/><ellipse cx="11.5" cy="66.5" rx="1.2" ry="1.3" fill="#ececec"/><ellipse cx="12.5" cy="70.0" rx="1.0" ry="1.0" fill="#ececec"/><ellipse cx="13.5" cy="73.0" rx="0.8" ry="0.8" fill="#ececec"/><ellipse cx="5.0" cy="68.0" rx="0.7" ry="0.9" fill="#ececec"/><ellipse cx="5.5" cy="72.0" rx="0.6" ry="0.7" fill="#ececec"/><ellipse cx="60.0" cy="55.0" rx="0.8" ry="0.9" fill="#ececec"/><ellipse cx="66.0" cy="62.5" rx="0.7" ry="0.8" fill="#ececec"/><ellipse cx="57.2" cy="41.8" rx="6.6" ry="5" fill="#eef2f4" fill-opacity="0.85"/><path d="M51.5 38.5Q58 31.5 68 34.5" stroke="#8fc2de" stroke-width="1.5" fill="none"/><path d="M50.9 5.3L46.8 6.8M58.7 5.3L53.8 6.2M63.8 5.3L58.0 5.8M71.5 5.3L64.5 4.9M76.6 5.3L70.0 4.4M84.4 5.3L77.8 4.1M89.5 5.3L82.7 4.1M97.2 5.3L89.7 4.2M102.3 5.3L94.5 4.6M110.1 5.3L102.3 5.4M115.2 5.3L107.2 6.1M122.9 5.3L115.1 7.0M128.0 5.3L120.3 7.4M135.8 5.3L128.3 7.8M140.9 5.3L133.5 8.1M148.7 5.3L141.3 8.5M58.7 13.5L53.4 14.5M63.8 13.5L55.8 13.8M71.5 13.5L63.7 12.3M76.6 13.5L68.9 11.5M84.4 13.5L76.8 10.9M89.5 13.5L82.2 10.9M97.2 13.5L89.6 11.0M102.3 13.5L94.6 11.4M110.1 13.5L102.2 12.1M115.2 13.5L107.2 12.7M122.9 13.5L115.0 13.6M128.0 13.5L121.0 14.0M135.8 13.5L130.2 14.3M140.9 13.5L135.9 14.4M148.7 13.5L143.9 14.6M58.7 19.6L50.8 21.1M63.8 19.6L55.9 19.4M71.5 19.6L64.0 17.5M76.6 19.6L69.3 16.7M84.4 19.6L77.2 16.0M89.5 19.6L82.4 15.9M97.2 19.6L90.1 16.1M102.3 19.6L95.0 16.4M110.1 19.6L102.5 17.1M115.2 19.6L107.4 17.6M122.9 19.6L116.3 18.7M128.0 19.6L123.1 19.2M135.8 19.6L132.9 19.6M140.9 19.6L138.7 19.7M148.7 19.6L146.9 19.8M58.7 27.8L51.3 28.9M63.8 27.8L56.1 26.4M71.5 27.8L65.0 24.1M76.6 27.8L70.4 23.3M84.4 27.8L78.3 22.7M89.5 27.8L83.4 22.7M97.2 27.8L90.9 23.0M102.3 27.8L95.7 23.3M110.1 27.8L103.3 24.1M115.2 27.8L108.9 25.0M122.9 27.8L118.2 26.3M128.0 27.8L124.4 26.9M135.8 27.8L133.3 27.4M140.9 27.8L138.7 27.5M148.7 27.8L147.0 27.7M58.7 33.9L53.1 34.3M63.8 33.9L58.4 31.1M71.5 33.9L66.4 28.5M76.6 33.9L71.9 28.1M84.4 33.9L79.6 27.6M89.5 33.9L84.6 27.6M97.2 33.9L91.9 27.9M102.3 33.9L96.6 28.3M110.1 33.9L104.4 29.7M115.2 33.9L110.0 31.0M122.9 33.9L119.0 32.4M128.0 33.9L124.7 32.9M135.8 33.9L133.2 33.4M140.9 33.9L138.7 33.6M148.7 33.9L146.7 33.8M71.5 42.1L70.1 34.9M76.6 42.1L75.0 34.8M84.4 42.1L82.5 34.5M89.5 42.1L87.4 34.4M97.2 42.1L95.1 34.4M102.3 42.1L100.3 34.4M110.1 42.1L109.0 36.0M115.2 42.1L115.5 36.9M122.9 42.1L125.9 39.5M128.0 42.1L130.9 40.1M135.8 42.1L138.2 40.8M140.9 42.1L143.0 41.1M148.7 42.1L150.9 41.3M71.5 48.2L73.1 40.9M76.6 48.2L77.4 40.7M84.4 48.2L84.6 40.3M89.5 48.2L89.6 40.2M97.2 48.2L97.5 40.2M102.3 48.2L103.2 41.0M110.1 48.2L112.1 42.9M115.2 48.2L118.0 44.1M122.9 48.2L126.2 45.8M128.0 48.2L131.1 46.5M135.8 48.2L138.7 47.0M140.9 48.2L143.8 47.2M148.7 48.2L151.6 47.4M63.8 56.4L70.0 51.3M71.5 56.4L75.6 49.8M76.6 56.4L79.8 49.2M84.4 56.4L86.6 48.8M89.5 56.4L91.4 48.7M97.2 56.4L99.2 48.6M102.3 56.4L104.4 50.4M110.1 56.4L112.6 52.3M115.2 56.4L118.0 53.3M122.9 56.4L126.0 54.5M128.0 56.4L131.0 54.9M135.8 56.4L139.2 55.1M140.9 56.4L144.7 55.2M148.7 56.4L153.0 55.3M71.5 62.5L76.5 56.4M76.6 62.5L80.8 55.8M84.4 62.5L87.6 55.2M89.5 62.5L92.3 55.0M97.2 62.5L99.5 55.9M102.3 62.5L104.5 57.6M110.1 62.5L112.5 59.2M115.2 62.5L117.7 60.1M122.9 62.5L125.5 61.1M128.0 62.5L130.9 61.1M135.8 62.5L139.7 61.1M140.9 62.5L145.6 61.1M148.7 62.5L154.3 61.1M71.5 70.7L77.1 64.9M76.6 70.7L81.5 64.3M84.4 70.7L88.4 63.8M89.5 70.7L92.9 64.0M97.2 70.7L99.3 66.2M102.3 70.7L104.2 67.3M110.1 70.7L112.1 68.3M115.2 70.7L117.2 69.1M122.9 70.7L125.0 69.7M128.0 70.7L130.7 69.6M135.8 70.7L140.2 69.3M140.9 70.7L146.3 69.2M148.7 70.7L154.8 69.3M63.8 76.8L67.2 74.4M71.5 76.8L75.6 72.7M76.6 76.8L81.7 70.6M84.4 76.8L88.7 70.1M89.5 76.8L92.5 71.4M97.2 76.8L99.2 73.0M102.3 76.8L104.1 74.0M110.1 76.8L111.5 75.4M115.2 76.8L116.7 75.7M122.9 76.8L124.8 76.0M128.0 76.8L130.2 76.0M135.8 76.8L139.7 75.7M140.9 76.8L145.7 75.6M148.7 76.8L153.7 75.7M58.7 85.0L60.3 83.9M63.8 85.0L65.5 83.6M71.5 85.0L74.8 81.7M76.6 85.0L81.4 79.3M84.4 85.0L88.6 78.8M89.5 85.0L92.2 80.6M97.2 85.0L98.7 82.5M102.3 85.0L103.5 83.4M110.1 85.0L110.3 84.8M115.2 85.0L115.8 84.7M122.9 85.0L124.3 84.5M128.0 85.0L129.8 84.5M135.8 85.0L138.5 84.3M140.9 85.0L144.2 84.3M148.7 85.0L151.8 84.4M58.7 91.1L60.0 90.1M63.8 91.1L65.2 89.8M71.5 91.1L74.3 88.1M76.6 91.1L80.9 86.0M84.4 91.1L88.2 85.5M89.5 91.1L92.0 87.2M97.2 91.1L98.2 89.6M102.3 91.1L102.7 90.6M110.1 91.1L110.3 91.0M115.2 91.1L115.4 91.0M122.9 91.1L124.2 90.7M128.0 91.1L129.6 90.7M135.8 91.1L137.8 90.6M140.9 91.1L143.1 90.6M148.7 91.1L150.9 90.7M50.9 99.3L52.3 98.2M58.7 99.3L59.9 98.1M63.8 99.3L65.1 98.0M71.5 99.3L73.5 97.0M76.6 99.3L79.7 95.3M84.4 99.3L87.4 94.9M89.5 99.3L91.5 96.2M97.2 99.3L97.6 98.8M102.3 99.3L102.5 99.1M110.1 99.3L110.3 99.2M115.2 99.3L116.4 98.7M122.9 99.3L124.6 98.9M128.0 99.3L129.7 98.9M135.8 99.3L137.4 99.0M140.9 99.3L142.6 99.0M148.7 99.3L150.8 99.0M45.8 105.4L46.9 104.4M50.9 105.4L51.9 104.4M58.7 105.4L59.7 104.4M63.8 105.4L64.8 104.2M71.5 105.4L72.9 103.6M76.6 105.4L78.9 102.3M84.4 105.4L86.8 101.8M89.5 105.4L91.1 102.8M97.2 105.4L97.4 105.2M102.3 105.4L102.5 105.2M110.1 105.4L110.6 105.0M115.2 105.4L116.5 104.8M122.9 105.4L124.7 105.0M128.0 105.4L129.8 105.1M135.8 105.4L137.4 105.1M140.9 105.4L142.6 105.1M148.7 105.4L150.8 105.1M45.8 113.6L46.6 112.8M50.9 113.6L51.6 112.8M58.7 113.6L59.4 112.8M63.8 113.6L64.6 112.6M71.5 113.6L72.6 112.1M76.6 113.6L77.8 111.8M84.4 113.6L85.5 111.8M89.5 113.6L90.3 112.1M97.2 113.6L97.6 113.0M102.3 113.6L102.8 113.0M110.1 113.6L111.0 113.0M115.2 113.6L116.5 113.1M122.9 113.6L124.7 113.3M128.0 113.6L129.8 113.3M135.8 113.6L137.4 113.3M140.9 113.6L142.6 113.3M148.7 113.6L150.8 113.3" stroke="#333" stroke-width="0.33" stroke-opacity="0.78" fill="none"/><path d="M44.0 7.8L46.6 6.1L47.1 7.4ZM50.9 6.8L53.7 5.5L54.0 6.9ZM55.0 6.0L58.0 5.1L58.1 6.5ZM61.5 4.7L64.5 4.2L64.4 5.6ZM67.0 4.1L70.1 3.7L69.9 5.2ZM74.9 3.6L78.0 3.4L77.7 4.9ZM79.8 3.6L82.8 3.4L82.6 4.8ZM86.7 3.8L89.8 3.5L89.6 5.0ZM91.5 4.3L94.6 3.9L94.5 5.3ZM99.3 5.4L102.3 4.7L102.3 6.1ZM104.2 6.3L107.2 5.3L107.3 6.8ZM112.2 7.6L115.0 6.2L115.3 7.7ZM117.4 8.1L120.1 6.7L120.5 8.0ZM125.5 8.8L128.1 7.2L128.5 8.5ZM130.7 9.2L133.2 7.5L133.8 8.8ZM138.6 9.7L141.0 7.8L141.6 9.2ZM50.5 15.1L53.3 13.8L53.6 15.2ZM52.8 13.9L55.8 13.1L55.8 14.5ZM60.7 11.8L63.8 11.5L63.6 13.0ZM66.0 10.8L69.1 10.8L68.7 12.2ZM74.0 10.0L77.0 10.3L76.6 11.6ZM79.3 9.9L82.4 10.2L81.9 11.6ZM86.8 10.1L89.9 10.3L89.4 11.7ZM91.8 10.6L94.8 10.7L94.4 12.0ZM99.3 11.6L102.4 11.4L102.1 12.8ZM104.3 12.4L107.3 12.0L107.2 13.4ZM112.0 13.6L114.9 12.9L115.0 14.3ZM118.0 14.2L120.9 13.3L121.0 14.7ZM127.2 14.7L130.1 13.6L130.3 15.0ZM133.0 15.0L135.8 13.7L136.0 15.1ZM141.0 15.4L143.8 13.9L144.1 15.3ZM47.9 21.6L50.7 20.4L51.0 21.8ZM52.8 19.4L55.9 18.7L55.9 20.2ZM60.9 16.7L64.2 16.8L63.8 18.3ZM66.4 15.6L69.6 16.0L69.0 17.4ZM74.6 14.7L77.6 15.4L76.9 16.7ZM79.7 14.5L82.7 15.3L82.1 16.6ZM87.4 14.8L90.4 15.5L89.7 16.8ZM92.3 15.2L95.3 15.8L94.7 17.1ZM99.7 16.2L102.7 16.4L102.3 17.8ZM104.5 16.9L107.6 16.9L107.3 18.3ZM113.4 18.3L116.4 18.0L116.2 19.4ZM120.1 19.0L123.2 18.5L123.1 19.9ZM129.9 19.6L132.9 18.9L132.9 20.3ZM135.8 19.8L138.7 19.0L138.7 20.4ZM144.4 20.0L146.8 19.1L147.0 20.5ZM48.3 29.4L51.2 28.2L51.4 29.7ZM53.1 25.8L56.2 25.6L55.9 27.1ZM62.0 22.4L65.5 23.3L64.5 24.9ZM67.7 21.4L71.0 22.6L69.9 24.0ZM75.9 20.8L78.8 22.2L77.8 23.3ZM81.1 20.7L83.8 22.1L82.9 23.2ZM88.5 21.1L91.3 22.4L90.5 23.5ZM93.3 21.6L96.1 22.7L95.3 23.9ZM100.7 22.7L103.6 23.5L103.0 24.8ZM106.2 23.8L109.2 24.3L108.6 25.6ZM115.3 25.3L118.4 25.6L117.9 26.9ZM121.5 26.1L124.6 26.2L124.2 27.6ZM130.3 26.9L133.4 26.7L133.1 28.1ZM135.9 27.2L138.8 26.8L138.7 28.3ZM144.5 27.6L147.0 27.0L146.9 28.4ZM50.0 34.5L53.1 33.5L53.2 35.0ZM55.4 29.6L58.8 30.3L58.0 31.9ZM64.0 25.9L67.1 27.8L65.7 29.1ZM69.7 25.3L72.7 27.5L71.2 28.7ZM77.7 25.1L80.3 27.2L79.0 28.1ZM82.7 25.3L85.1 27.2L84.0 28.1ZM89.9 25.7L92.5 27.5L91.4 28.4ZM94.4 26.2L97.1 27.8L96.1 28.9ZM102.0 28.0L104.8 29.2L104.0 30.3ZM107.4 29.5L110.4 30.3L109.7 31.6ZM116.1 31.4L119.2 31.7L118.7 33.1ZM121.8 32.1L124.9 32.2L124.5 33.6ZM130.3 32.9L133.4 32.7L133.1 34.1ZM135.8 33.2L138.8 32.9L138.6 34.3ZM144.0 33.6L146.7 33.0L146.6 34.5ZM69.5 31.5L71.1 34.8L69.2 35.1ZM74.2 31.4L76.0 34.6L74.1 35.0ZM81.7 31.4L83.2 34.3L81.7 34.7ZM86.7 31.5L88.2 34.2L86.7 34.6ZM94.3 31.5L95.8 34.2L94.4 34.6ZM99.5 31.5L100.9 34.2L99.6 34.6ZM108.4 33.0L109.7 35.8L108.3 36.1ZM115.7 33.9L116.2 37.0L114.8 36.9ZM128.2 37.5L126.4 40.0L125.4 39.0ZM133.3 38.3L131.3 40.7L130.5 39.5ZM140.8 39.4L138.5 41.5L137.8 40.2ZM145.7 39.9L143.3 41.8L142.7 40.5ZM153.7 40.2L151.1 41.9L150.6 40.6ZM73.8 37.4L74.0 41.1L72.1 40.7ZM77.8 37.3L78.4 40.8L76.5 40.6ZM84.7 37.2L85.4 40.4L83.9 40.3ZM89.6 37.2L90.3 40.2L88.8 40.2ZM97.5 37.2L98.2 40.2L96.7 40.2ZM103.5 38.0L103.9 41.1L102.4 40.9ZM113.1 40.1L112.8 43.2L111.4 42.7ZM119.8 41.7L118.6 44.5L117.4 43.7ZM128.7 44.1L126.7 46.4L125.8 45.3ZM133.7 45.0L131.4 47.1L130.7 45.8ZM141.4 45.8L138.9 47.7L138.4 46.3ZM146.6 46.2L144.0 47.9L143.5 46.5ZM154.5 46.6L151.7 48.1L151.4 46.7ZM72.3 49.4L70.4 51.9L69.5 50.7ZM77.3 47.0L76.3 50.2L74.9 49.3ZM81.0 46.3L80.5 49.5L79.0 48.9ZM87.5 45.9L87.4 49.0L85.9 48.6ZM92.2 45.7L92.1 48.9L90.7 48.5ZM99.9 45.7L99.9 48.8L98.5 48.5ZM105.3 47.5L105.0 50.6L103.7 50.2ZM114.1 49.8L113.2 52.7L111.9 52.0ZM120.1 51.1L118.6 53.8L117.5 52.8ZM128.5 52.9L126.4 55.1L125.6 53.9ZM133.6 53.5L131.3 55.5L130.6 54.2ZM141.9 54.0L139.4 55.8L138.9 54.4ZM147.5 54.2L144.9 55.8L144.5 54.5ZM155.9 54.5L153.2 56.0L152.8 54.6ZM78.5 53.9L77.1 56.9L75.9 55.9ZM82.4 53.1L81.4 56.2L80.1 55.4ZM88.8 52.4L88.3 55.5L86.9 54.9ZM93.3 52.2L93.0 55.3L91.6 54.7ZM100.5 53.1L100.2 56.1L98.9 55.7ZM105.7 54.9L105.1 57.9L103.8 57.4ZM114.2 56.7L113.1 59.6L111.9 58.8ZM119.8 58.1L118.2 60.7L117.2 59.6ZM128.1 59.6L125.8 61.7L125.1 60.4ZM133.6 59.9L131.2 61.8L130.6 60.5ZM142.5 60.1L139.9 61.8L139.4 60.4ZM148.4 60.2L145.8 61.8L145.3 60.4ZM157.2 60.4L154.5 61.8L154.1 60.4ZM79.2 62.8L77.6 65.4L76.6 64.4ZM83.3 62.0L82.1 64.8L80.9 63.9ZM89.9 61.2L89.0 64.1L87.8 63.4ZM94.2 61.3L93.5 64.3L92.2 63.6ZM100.6 63.5L100.0 66.5L98.7 65.9ZM105.7 64.7L104.9 67.7L103.6 67.0ZM114.1 66.1L112.7 68.8L111.6 67.9ZM119.5 67.3L117.6 69.7L116.7 68.6ZM127.7 68.4L125.3 70.4L124.7 69.1ZM133.5 68.5L131.0 70.3L130.4 68.9ZM143.0 68.4L140.4 70.0L139.9 68.6ZM149.1 68.4L146.5 69.9L146.1 68.5ZM157.8 68.6L155.0 70.0L154.7 68.6ZM69.6 72.6L67.6 75.0L66.7 73.8ZM77.7 70.6L76.1 73.2L75.1 72.2ZM83.6 68.3L82.3 71.1L81.2 70.2ZM90.3 67.5L89.3 70.5L88.1 69.7ZM94.0 68.8L93.2 71.7L91.9 71.0ZM100.6 70.4L99.9 73.4L98.6 72.7ZM105.7 71.5L104.7 74.4L103.5 73.7ZM113.4 73.4L112.0 75.9L111.0 74.8ZM118.9 74.2L117.1 76.3L116.3 75.1ZM127.3 75.0L125.1 76.7L124.5 75.4ZM133.0 75.0L130.5 76.7L130.0 75.3ZM142.6 74.8L139.9 76.3L139.5 75.0ZM148.6 74.8L145.9 76.3L145.5 74.9ZM156.7 75.1L153.9 76.4L153.6 75.0ZM62.4 82.4L60.7 84.5L59.9 83.3ZM67.8 81.8L66.0 84.2L65.1 83.0ZM76.8 79.5L75.3 82.2L74.2 81.2ZM83.3 77.0L81.9 79.8L80.8 78.9ZM90.3 76.4L89.2 79.2L88.0 78.4ZM93.8 78.0L92.8 80.9L91.6 80.2ZM100.2 79.9L99.3 82.9L98.1 82.2ZM105.0 81.3L104.1 83.8L102.9 83.0ZM111.3 84.0L110.8 85.4L109.8 84.3ZM117.2 83.8L116.1 85.3L115.4 84.0ZM126.5 83.8L124.6 85.2L124.1 83.8ZM132.2 83.7L130.0 85.2L129.5 83.8ZM141.4 83.6L138.6 85.0L138.3 83.6ZM147.1 83.6L144.3 85.0L144.0 83.5ZM154.8 83.8L152.0 85.1L151.7 83.7ZM61.9 88.5L60.4 90.6L59.6 89.5ZM67.2 88.0L65.7 90.3L64.8 89.3ZM76.3 85.9L74.8 88.6L73.8 87.6ZM82.7 83.6L81.4 86.4L80.3 85.5ZM90.0 83.1L88.8 85.9L87.7 85.1ZM93.6 84.6L92.6 87.5L91.4 86.8ZM99.5 87.4L98.8 89.9L97.6 89.2ZM103.7 89.4L103.3 91.1L102.1 90.2ZM111.3 90.2L110.7 91.5L109.8 90.4ZM116.5 90.4L115.7 91.6L115.1 90.4ZM126.2 90.1L124.4 91.4L124.0 90.0ZM131.8 90.1L129.7 91.4L129.4 90.0ZM140.5 90.0L137.9 91.3L137.6 89.9ZM145.9 90.1L143.2 91.4L142.9 89.9ZM153.8 90.2L151.0 91.4L150.7 90.0ZM54.2 96.5L52.7 98.7L51.8 97.6ZM61.7 96.4L60.4 98.6L59.4 97.6ZM66.9 96.1L65.6 98.5L64.6 97.5ZM75.4 94.7L74.0 97.5L72.9 96.5ZM81.5 92.9L80.3 95.8L79.1 94.9ZM89.0 92.4L88.0 95.3L86.8 94.5ZM93.0 93.6L92.1 96.5L90.8 95.8ZM98.4 97.4L98.2 99.2L97.0 98.4ZM103.3 98.1L103.1 99.6L101.9 98.7ZM111.3 98.4L110.7 99.7L109.9 98.6ZM118.3 97.8L116.7 99.4L116.1 98.1ZM127.1 98.3L124.8 99.6L124.4 98.2ZM132.2 98.4L129.9 99.6L129.6 98.2ZM139.9 98.5L137.6 99.7L137.3 98.3ZM145.1 98.5L142.8 99.7L142.5 98.3ZM153.7 98.5L150.9 99.7L150.7 98.2ZM48.5 102.8L47.4 104.9L46.4 103.9ZM53.5 102.8L52.5 104.9L51.4 103.9ZM61.2 102.7L60.2 104.8L59.1 103.9ZM66.3 102.5L65.3 104.7L64.2 103.8ZM74.7 101.3L73.5 104.1L72.4 103.2ZM80.7 99.8L79.5 102.7L78.3 101.8ZM88.4 99.2L87.4 102.2L86.2 101.4ZM92.7 100.2L91.7 103.1L90.5 102.4ZM98.1 104.1L98.0 105.6L96.8 104.8ZM103.3 104.2L103.0 105.7L101.9 104.8ZM112.0 104.1L111.0 105.6L110.2 104.4ZM118.6 103.9L116.8 105.5L116.2 104.2ZM127.2 104.5L124.9 105.7L124.6 104.3ZM132.2 104.5L129.9 105.8L129.6 104.3ZM139.8 104.7L137.5 105.8L137.3 104.4ZM145.0 104.7L142.7 105.8L142.5 104.4ZM153.7 104.6L150.9 105.8L150.7 104.4ZM47.8 111.2L47.1 113.2L46.0 112.3ZM52.9 111.2L52.2 113.2L51.1 112.3ZM60.6 111.2L59.9 113.2L58.8 112.3ZM65.8 110.9L65.1 113.0L64.0 112.2ZM74.0 110.0L73.2 112.5L72.0 111.7ZM79.4 109.5L78.4 112.2L77.2 111.4ZM86.9 109.5L86.1 112.2L84.9 111.5ZM91.6 110.0L91.0 112.5L89.7 111.8ZM98.5 111.5L98.2 113.4L97.0 112.6ZM103.9 111.7L103.4 113.5L102.3 112.6ZM112.7 111.9L111.4 113.6L110.6 112.4ZM118.6 112.3L116.8 113.8L116.3 112.4ZM127.2 112.8L124.8 114.0L124.6 112.6ZM132.2 112.9L129.9 114.0L129.6 112.6ZM139.9 113.0L137.6 114.1L137.3 112.6ZM145.1 113.0L142.7 114.1L142.5 112.6ZM153.7 112.9L150.9 114.0L150.7 112.6Z" fill="#222" fill-opacity="0.8"/><path d="M7.3 6.3L6.5 8.5M12.4 6.3L11.6 8.6M20.1 6.3L19.2 8.6M25.2 6.3L24.3 8.7M33.0 6.3L31.9 8.9M38.1 6.3L36.8 9.0M45.8 6.3L44.4 9.1M7.3 14.5L6.5 16.8M12.4 14.5L11.5 16.8M20.1 14.5L19.2 17.0M25.2 14.5L24.1 17.1M33.0 14.5L31.6 17.4M38.1 14.5L36.5 17.5M45.8 14.5L43.7 17.7M50.9 14.5L48.5 17.6M7.3 20.6L6.5 22.9M12.4 20.6L11.5 23.0M20.1 20.6L19.1 23.2M25.2 20.6L24.1 23.4M33.0 20.6L31.5 23.8M38.1 20.6L36.3 24.0M45.8 20.6L43.9 23.2M50.9 20.6L48.5 23.1M7.3 28.8L6.4 31.1M12.4 28.8L11.5 31.3M20.1 28.8L19.1 31.6M25.2 28.8L24.1 31.9M33.0 28.8L31.5 32.5M38.1 28.8L36.8 31.9M45.8 28.8L43.7 32.2M50.9 28.8L47.9 31.9M7.3 34.9L7.4 37.4M12.4 34.9L12.5 37.6M20.1 34.9L20.2 38.0M25.2 34.9L25.2 38.4M33.0 34.9L32.9 38.1M38.1 34.9L37.8 38.6M45.8 34.9L44.7 39.2M50.9 34.9L48.5 39.0M7.3 43.1L7.5 45.6M12.4 43.1L12.7 45.8M20.1 43.1L20.6 46.2M25.2 43.1L25.8 46.6M33.0 43.1L33.7 46.3M38.1 43.1L39.0 46.8M45.8 43.1L47.3 47.5M50.9 43.1L53.0 47.7M58.7 43.1L60.7 38.3M63.8 43.1L63.3 38.1M7.3 49.2L7.7 51.7M12.4 49.2L12.9 51.9M20.1 49.2L20.9 52.2M25.2 49.2L26.2 52.6M33.0 49.2L34.2 52.1M38.1 49.2L39.8 52.5M45.8 49.2L48.8 52.5M50.9 49.2L55.1 51.6M58.7 49.2L63.3 47.2M63.8 49.2L66.7 45.3M7.3 57.4L7.7 59.9M12.4 57.4L12.9 60.0M20.1 57.4L20.9 60.3M25.2 57.4L26.3 60.5M33.0 57.4L34.8 60.9M38.1 57.4L39.9 60.1M45.8 57.4L48.9 59.8M50.9 57.4L54.8 59.0M58.7 57.4L63.0 57.0M7.3 63.5L7.6 65.9M12.4 63.5L12.8 66.0M20.1 63.5L20.8 66.2M25.2 63.5L26.1 66.4M33.0 63.5L34.5 66.7M38.1 63.5L40.2 66.8M45.8 63.5L48.2 65.7M50.9 63.5L53.9 65.3M58.7 63.5L62.2 64.5M63.8 63.5L67.2 64.1M7.3 71.7L7.6 74.1M12.4 71.7L12.7 74.1M20.1 71.7L20.6 74.3M25.2 71.7L25.9 74.4M33.0 71.7L34.0 74.6M38.1 71.7L39.4 74.7M45.8 71.7L47.7 74.8M50.9 71.7L53.2 74.7M58.7 71.7L61.2 74.6M63.8 71.7L66.2 74.6M7.3 77.8L7.6 80.1M12.4 77.8L12.7 80.2M20.1 77.8L20.5 80.3M25.2 77.8L25.7 80.4M33.0 77.8L33.7 80.5M38.1 77.8L38.9 80.6M45.8 77.8L47.0 80.7M50.9 77.8L52.2 80.8M58.7 77.8L60.0 80.8M7.3 86.0L7.5 88.3M12.4 86.0L12.7 88.3M20.1 86.0L20.4 88.4M25.2 86.0L25.6 88.4M33.0 86.0L33.4 88.5M38.1 86.0L38.6 88.6M45.8 86.0L46.4 88.6M50.9 86.0L51.6 88.7M7.3 92.1L7.5 94.4M12.4 92.1L12.6 94.4M20.1 92.1L20.4 94.4M25.2 92.1L25.5 94.5M33.0 92.1L33.3 94.5M38.1 92.1L38.4 94.5M45.8 92.1L46.2 94.6M50.9 92.1L51.3 94.6M7.3 100.3L7.5 102.6M12.4 100.3L12.6 102.6M20.1 100.3L20.4 102.6M25.2 100.3L25.5 102.6M33.0 100.3L33.3 102.6M38.1 100.3L38.4 102.6M45.8 100.3L46.1 102.7M7.3 106.4L7.5 108.7M12.4 106.4L12.6 108.7M20.1 106.4L20.4 108.7M25.2 106.4L25.5 108.7M33.0 106.4L33.2 108.7M38.1 106.4L38.3 108.7M7.3 114.6L7.5 116.9M12.4 114.6L12.6 116.9M20.1 114.6L20.4 116.9M25.2 114.6L25.5 116.9M33.0 114.6L33.2 116.9M38.1 114.6L38.3 116.9" stroke="#444" stroke-width="0.32" stroke-opacity="0.7" fill="none"/><path d="M5.9 10.3L6.0 8.3L7.0 8.7ZM10.9 10.3L11.1 8.4L12.1 8.7ZM18.6 10.4L18.7 8.4L19.8 8.8ZM23.6 10.5L23.8 8.5L24.8 8.9ZM31.1 10.6L31.4 8.6L32.4 9.1ZM36.0 10.7L36.3 8.7L37.3 9.2ZM43.5 10.7L43.9 8.8L44.8 9.3ZM5.8 18.5L6.0 16.6L7.0 16.9ZM10.9 18.6L11.0 16.6L12.0 17.0ZM18.5 18.7L18.6 16.8L19.7 17.2ZM23.4 18.9L23.6 16.9L24.7 17.3ZM30.8 19.1L31.1 17.2L32.1 17.6ZM35.6 19.2L36.0 17.3L37.0 17.8ZM42.7 19.2L43.3 17.3L44.2 18.0ZM47.3 19.1L48.1 17.3L48.9 17.9ZM5.8 24.7L5.9 22.7L7.0 23.1ZM10.8 24.8L11.0 22.8L12.0 23.2ZM18.4 25.0L18.6 23.0L19.6 23.4ZM23.3 25.2L23.6 23.2L24.6 23.6ZM30.7 25.5L31.0 23.6L32.0 24.0ZM35.4 25.7L35.8 23.8L36.7 24.3ZM42.1 25.7L43.3 22.8L44.5 23.7ZM46.5 25.3L48.0 22.6L49.1 23.6ZM5.8 32.9L5.9 31.0L6.9 31.3ZM10.8 33.1L11.0 31.1L12.0 31.5ZM18.4 33.4L18.6 31.4L19.6 31.8ZM23.4 33.7L23.6 31.7L24.6 32.1ZM30.9 34.3L31.0 32.3L32.1 32.7ZM35.6 34.7L36.1 31.6L37.4 32.2ZM42.1 34.8L43.1 31.8L44.3 32.6ZM45.8 34.0L47.4 31.4L48.4 32.4ZM7.6 39.3L6.9 37.5L8.0 37.4ZM12.6 39.5L12.0 37.6L13.1 37.6ZM20.2 39.9L19.6 38.0L20.7 38.0ZM25.2 40.3L24.7 38.4L25.8 38.4ZM32.7 41.1L32.2 38.0L33.6 38.1ZM37.5 41.6L37.1 38.5L38.5 38.7ZM43.9 42.1L44.0 39.0L45.4 39.4ZM47.0 41.6L47.9 38.7L49.1 39.4ZM7.7 47.5L7.0 45.7L8.1 45.6ZM12.9 47.7L12.1 45.9L13.2 45.8ZM20.8 48.1L20.0 46.3L21.1 46.2ZM26.1 48.5L25.2 46.7L26.3 46.6ZM34.2 49.2L32.9 46.5L34.4 46.2ZM39.7 49.8L38.3 47.0L39.7 46.7ZM48.3 50.4L46.6 47.7L48.0 47.3ZM54.2 50.4L52.3 48.0L53.6 47.4ZM61.9 35.6L61.4 38.6L60.1 38.1ZM63.0 35.1L64.0 38.0L62.6 38.2ZM8.0 53.6L7.2 51.8L8.2 51.6ZM13.2 53.7L12.4 52.0L13.4 51.8ZM21.3 54.1L20.3 52.4L21.4 52.1ZM26.8 54.4L25.7 52.7L26.8 52.4ZM35.3 54.9L33.5 52.4L34.8 51.9ZM41.2 55.2L39.2 52.8L40.4 52.2ZM50.8 54.8L48.3 53.0L49.4 52.1ZM57.7 53.1L54.7 52.2L55.5 51.0ZM66.0 46.1L63.5 47.9L63.0 46.6ZM68.5 42.9L67.2 45.8L66.1 44.9ZM8.0 61.7L7.1 59.9L8.2 59.8ZM13.2 61.9L12.3 60.1L13.4 59.9ZM21.4 62.1L20.4 60.4L21.4 60.1ZM26.9 62.3L25.8 60.7L26.8 60.3ZM35.6 62.6L34.3 61.1L35.2 60.6ZM41.7 62.5L39.4 60.5L40.5 59.7ZM51.3 61.6L48.5 60.3L49.3 59.2ZM57.6 60.1L54.5 59.6L55.1 58.3ZM65.9 56.8L63.0 57.8L62.9 56.3ZM7.9 67.8L7.1 66.0L8.2 65.8ZM13.1 67.9L12.3 66.1L13.4 65.9ZM21.2 68.1L20.3 66.4L21.3 66.1ZM26.7 68.2L25.6 66.6L26.7 66.3ZM35.3 68.4L34.0 66.9L35.0 66.5ZM41.2 68.4L39.7 67.1L40.7 66.5ZM50.4 67.8L47.8 66.3L48.7 65.2ZM56.5 66.9L53.5 65.9L54.3 64.7ZM65.0 65.3L62.0 65.2L62.3 63.8ZM70.2 64.7L67.1 64.9L67.4 63.4ZM7.8 76.0L7.0 74.1L8.1 74.0ZM13.0 76.0L12.2 74.2L13.3 74.1ZM21.0 76.1L20.1 74.4L21.2 74.2ZM26.3 76.3L25.4 74.5L26.4 74.3ZM34.6 76.4L33.5 74.8L34.5 74.4ZM40.2 76.5L38.9 74.9L39.9 74.5ZM48.7 76.4L47.3 75.1L48.2 74.5ZM54.3 76.2L52.7 75.0L53.6 74.4ZM62.4 76.0L60.8 74.9L61.6 74.2ZM67.4 76.0L65.7 74.9L66.6 74.2ZM7.8 82.0L7.0 80.2L8.1 80.1ZM12.9 82.1L12.2 80.3L13.2 80.1ZM20.8 82.2L20.0 80.4L21.1 80.2ZM26.1 82.2L25.2 80.5L26.3 80.3ZM34.1 82.4L33.1 80.6L34.2 80.4ZM39.5 82.4L38.4 80.8L39.5 80.5ZM47.6 82.5L46.5 80.9L47.5 80.5ZM53.0 82.5L51.7 81.0L52.7 80.5ZM60.8 82.5L59.5 81.0L60.5 80.6ZM7.7 90.2L7.0 88.4L8.1 88.3ZM12.9 90.2L12.1 88.4L13.2 88.3ZM20.7 90.3L19.9 88.5L21.0 88.3ZM25.8 90.3L25.0 88.5L26.1 88.4ZM33.7 90.4L32.9 88.6L34.0 88.4ZM38.9 90.4L38.0 88.7L39.1 88.5ZM46.8 90.5L45.9 88.8L46.9 88.5ZM52.0 90.5L51.0 88.8L52.1 88.6ZM7.7 96.3L7.0 94.5L8.1 94.3ZM12.8 96.3L12.1 94.5L13.2 94.4ZM20.6 96.3L19.9 94.5L21.0 94.4ZM25.8 96.3L25.0 94.5L26.1 94.4ZM33.6 96.4L32.8 94.6L33.9 94.4ZM38.7 96.4L37.9 94.6L39.0 94.5ZM46.5 96.5L45.7 94.7L46.8 94.5ZM51.6 96.5L50.8 94.7L51.9 94.5ZM7.7 104.5L7.0 102.6L8.1 102.5ZM12.8 104.5L12.1 102.7L13.2 102.5ZM20.6 104.5L19.8 102.7L20.9 102.6ZM25.7 104.5L24.9 102.7L26.0 102.6ZM33.5 104.5L32.7 102.7L33.8 102.6ZM38.6 104.5L37.8 102.7L38.9 102.6ZM46.3 104.6L45.6 102.7L46.7 102.6ZM7.7 110.6L7.0 108.7L8.1 108.6ZM12.8 110.6L12.1 108.7L13.2 108.6ZM20.6 110.6L19.8 108.8L20.9 108.6ZM25.7 110.6L24.9 108.8L26.0 108.6ZM33.4 110.6L32.7 108.8L33.8 108.7ZM38.5 110.6L37.8 108.8L38.9 108.7ZM7.7 118.8L7.0 116.9L8.1 116.8ZM12.8 118.8L12.1 116.9L13.2 116.8ZM20.6 118.8L19.8 116.9L20.9 116.8ZM25.7 118.8L24.9 116.9L26.0 116.8ZM33.4 118.8L32.7 116.9L33.8 116.8ZM38.5 118.8L37.8 117.0L38.9 116.8Z" fill="#333" fill-opacity="0.72"/></g><text x="3.4" y="11.5" class="pl">(f)</text><text x="18.3" y="58.9" class="cn">China</text></g><text x="352.6" y="195.4" class="ax" text-anchor="end">31°N</text><text x="352.6" y="253.7" class="ax" text-anchor="end">26°N</text><text x="363.4" y="268.9" class="ax" text-anchor="middle">116°E</text><text x="413.4" y="268.9" class="ax" text-anchor="middle">121°E</text><text x="463.4" y="268.9" class="ax" text-anchor="middle">126°E</text><defs><linearGradient id="cb" x1="0" y1="0" x2="0" y2="1"><stop offset="0.0000" stop-color="rgb(103,0,31)"/><stop offset="0.0333" stop-color="rgb(126,7,34)"/><stop offset="0.0667" stop-color="rgb(153,16,39)"/><stop offset="0.1000" stop-color="rgb(176,23,42)"/><stop offset="0.1333" stop-color="rgb(190,48,54)"/><stop offset="0.1667" stop-color="rgb(201,70,65)"/><stop offset="0.2000" stop-color="rgb(214,96,77)"/><stop offset="0.2333" stop-color="rgb(223,117,93)"/><stop offset="0.2667" stop-color="rgb(234,142,112)"/><stop offset="0.3000" stop-color="rgb(243,163,128)"/><stop offset="0.3333" stop-color="rgb(247,183,153)"/><stop offset="0.3667" stop-color="rgb(249,199,174)"/><stop offset="0.4000" stop-color="rgb(253,219,199)"/><stop offset="0.4333" stop-color="rgb(251,227,214)"/><stop offset="0.4667" stop-color="rgb(249,237,231)"/><stop offset="0.5000" stop-color="rgb(247,246,246)"/><stop offset="0.5333" stop-color="rgb(234,241,244)"/><stop offset="0.5667" stop-color="rgb(220,234,242)"/><stop offset="0.6000" stop-color="rgb(209,229,240)"/><stop offset="0.6333" stop-color="rgb(186,217,233)"/><stop offset="0.6667" stop-color="rgb(167,207,228)"/><stop offset="0.7000" stop-color="rgb(144,196,221)"/><stop offset="0.7333" stop-color="rgb(119,180,213)"/><stop offset="0.7667" stop-color="rgb(91,162,203)"/><stop offset="0.8000" stop-color="rgb(67,147,195)"/><stop offset="0.8333" stop-color="rgb(55,131,186)"/><stop offset="0.8667" stop-color="rgb(44,117,179)"/><stop offset="0.9000" stop-color="rgb(32,100,170)"/><stop offset="0.9333" stop-color="rgb(23,84,147)"/><stop offset="0.9667" stop-color="rgb(13,64,120)"/><stop offset="1.0000" stop-color="rgb(5,48,97)"/></linearGradient></defs><rect x="509" y="5" width="8" height="262" fill="url(#cb)"/><text x="519" y="269.6" class="tk">0</text><text x="519" y="225.9" class="tk">5</text><path d="M514.6 223.3H517M509 223.3H511.4" stroke="#5a3a3a" stroke-opacity="0.5" stroke-width="0.45"/><text x="519" y="182.3" class="tk">10</text><path d="M514.6 179.7H517M509 179.7H511.4" stroke="#5a3a3a" stroke-opacity="0.5" stroke-width="0.45"/><text x="519" y="138.6" class="tk">15</text><path d="M514.6 136.0H517M509 136.0H511.4" stroke="#5a3a3a" stroke-opacity="0.5" stroke-width="0.45"/><text x="519" y="94.9" class="tk">20</text><path d="M514.6 92.3H517M509 92.3H511.4" stroke="#5a3a3a" stroke-opacity="0.5" stroke-width="0.45"/><text x="519" y="51.3" class="tk">25</text><path d="M514.6 48.7H517M509 48.7H511.4" stroke="#5a3a3a" stroke-opacity="0.5" stroke-width="0.45"/><text x="519" y="7.6" class="tk">30</text><text transform="translate(545.2,141.8) rotate(-90)" class="lab">Winds(m/s)</text></svg></body></html>
